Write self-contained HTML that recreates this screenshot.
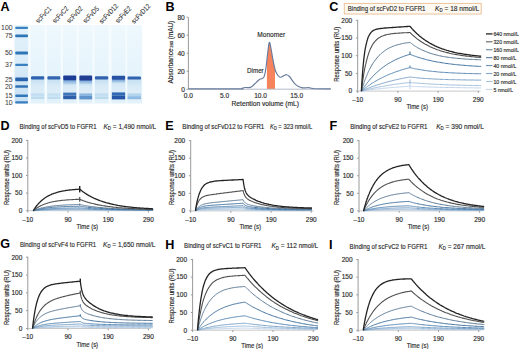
<!DOCTYPE html>
<html><head><meta charset="utf-8"><style>
html,body{margin:0;padding:0;background:#fff;}
body{width:520px;height:349px;overflow:hidden;}
svg{display:block;font-family:"Liberation Sans", sans-serif;}
text{stroke:#2a2a2a;stroke-width:0.15px;}
text[font-weight=bold]{stroke:none;}
</style></head><body>
<svg width="520" height="349" viewBox="0 0 520 349">
<defs><filter id="gb" x="-5%" y="-5%" width="110%" height="110%"><feGaussianBlur stdDeviation="0.65"/></filter><filter id="gb2" x="-20%" y="-20%" width="140%" height="140%"><feGaussianBlur stdDeviation="0.9"/></filter><linearGradient id="laneg" x1="0" y1="0" x2="0" y2="1"><stop offset="0" stop-color="#eef8fd"/><stop offset="0.62" stop-color="#e3f2fb"/><stop offset="0.66" stop-color="#c9e3f4"/><stop offset="1" stop-color="#cfe6f5"/></linearGradient><linearGradient id="bsm" x1="0" y1="0" x2="0" y2="1"><stop offset="0" stop-color="#6f9fd3"/><stop offset="1" stop-color="#6f9fd3" stop-opacity="0"/></linearGradient><linearGradient id="smg" x1="0" y1="0" x2="0" y2="1"><stop offset="0" stop-color="#c4dff2"/><stop offset="0.3" stop-color="#d9ebf7"/><stop offset="1" stop-color="#e4f2fa"/></linearGradient><linearGradient id="gtop" x1="0" y1="0" x2="0" y2="1"><stop offset="0" stop-color="#eef8fd"/><stop offset="1" stop-color="#e0f1fa"/></linearGradient><linearGradient id="mkg" x1="0" y1="0" x2="0" y2="1"><stop offset="0" stop-color="#e4f2fb"/><stop offset="0.5" stop-color="#d9ecf8"/><stop offset="1" stop-color="#c6e0f3"/></linearGradient><clipPath id="bclip"><rect x="266.9" y="0" width="8.1" height="89.4"/></clipPath></defs>
<rect width="520" height="349" fill="#fff"/>
<g filter="url(#gb)"><rect x="14.3" y="25.2" width="127.89999999999999" height="78.2" fill="url(#gtop)"/><rect x="14.8" y="25.2" width="13.4" height="78.2" fill="url(#mkg)"/><rect x="30.8" y="78.9" width="13.8" height="24.2" fill="url(#smg)"/><rect x="31.0" y="93.2" width="13.4" height="2.8" fill="#c3dff1"/><rect x="31.0" y="96.4" width="13.4" height="2.6" fill="#bedcf0"/><rect x="31.0" y="76.2" width="13.4" height="3.2" rx="1.2" fill="#2e63af"/><rect x="47.1" y="78.9" width="13.6" height="24.2" fill="url(#smg)"/><rect x="47.3" y="93.2" width="13.2" height="2.8" fill="#c6e1f2"/><rect x="47.3" y="96.4" width="13.2" height="2.6" fill="#c0ddf0"/><rect x="47.3" y="76.3" width="13.2" height="3.1" rx="1.2" fill="#3066b1"/><rect x="63.0" y="79.7" width="13.6" height="23.4" fill="url(#smg)"/><rect x="63.2" y="92.6" width="13.2" height="3.0" fill="#3f74ba"/><rect x="63.2" y="95.6" width="13.2" height="3.6" fill="#2d5ea9"/><rect x="63.3" y="79.7" width="13.0" height="5.5" fill="url(#bsm)"/><rect x="63.2" y="75.4" width="13.2" height="4.8" rx="1.2" fill="#1f3d95"/><rect x="79.1" y="79.9" width="13.4" height="23.2" fill="url(#smg)"/><rect x="79.3" y="93.4" width="13.0" height="2.6" fill="#8ab6df"/><rect x="79.3" y="96.0" width="13.0" height="3.4" fill="#5f93cb"/><rect x="79.4" y="79.9" width="12.8" height="5.0" fill="url(#bsm)"/><rect x="79.3" y="75.5" width="13.0" height="4.9" rx="1.2" fill="#213e94"/><rect x="94.6" y="79.0" width="14.0" height="24.1" fill="url(#smg)"/><rect x="94.8" y="93.2" width="13.6" height="2.8" fill="#c3dff1"/><rect x="94.8" y="96.4" width="13.6" height="2.6" fill="#b9d9ef"/><rect x="94.8" y="76.3" width="13.6" height="3.2" rx="1.2" fill="#3062ae"/><rect x="111.5" y="79.3" width="14.0" height="23.8" fill="url(#smg)"/><rect x="111.7" y="92.4" width="13.6" height="3.2" fill="#3369b4"/><rect x="111.7" y="95.6" width="13.6" height="3.8" fill="#2656a5"/><rect x="111.8" y="79.3" width="13.4" height="4.0" fill="url(#bsm)"/><rect x="111.7" y="75.8" width="13.6" height="4.0" rx="1.2" fill="#2752a4"/><rect x="127.2" y="79.1" width="14.0" height="24.0" fill="url(#smg)"/><rect x="127.4" y="93.4" width="13.6" height="2.6" fill="#b3d4ed"/><rect x="127.4" y="96.2" width="13.6" height="3.0" fill="#8fbbe2"/><rect x="127.4" y="76.5" width="13.6" height="3.1" rx="1.2" fill="#3063af"/><rect x="44.6" y="25.2" width="2.5" height="78.2" fill="#f6fcfe" opacity="0.9"/><rect x="60.7" y="25.2" width="2.3" height="78.2" fill="#f6fcfe" opacity="0.9"/><rect x="76.6" y="25.2" width="2.5" height="78.2" fill="#f6fcfe" opacity="0.9"/><rect x="92.5" y="25.2" width="2.1" height="78.2" fill="#f6fcfe" opacity="0.9"/><rect x="108.6" y="25.2" width="2.9" height="78.2" fill="#f6fcfe" opacity="0.9"/><rect x="125.5" y="25.2" width="1.7" height="78.2" fill="#f6fcfe" opacity="0.9"/><rect x="28.2" y="25.2" width="2.6" height="78.2" fill="#f6fcfe" opacity="0.9"/><rect x="15.2" y="26.80" width="12.8" height="2.2" rx="0.9" fill="#3a82c0"/><rect x="15.2" y="34.40" width="12.8" height="2.8" rx="0.9" fill="#2f76b8"/><rect x="15.2" y="51.50" width="12.8" height="3.0" rx="0.9" fill="#2e74b6"/><rect x="15.2" y="63.70" width="12.8" height="2.2" rx="0.9" fill="#3a80be"/><rect x="15.2" y="77.60" width="12.8" height="3.6" rx="0.9" fill="#2a64ad"/><rect x="15.2" y="85.20" width="12.8" height="2.6" rx="0.9" fill="#3073b5"/><rect x="15.2" y="94.40" width="12.8" height="2.6" rx="0.9" fill="#3176b7"/><rect x="15.2" y="101.20" width="12.8" height="2.2" rx="0.9" fill="#3a7ebd"/></g>
<rect x="344.3" y="3.4" width="136.9" height="10.6" fill="#fffaf1" stroke="#eac29c" stroke-width="1"/>
<text x="0.60" y="11.20" font-size="12.6" fill="#000" font-weight="bold">A</text>
<text x="165.60" y="11.20" font-size="12.6" fill="#000" font-weight="bold">B</text>
<text x="329.20" y="11.10" font-size="12.6" fill="#000" font-weight="bold">C</text>
<text x="0.60" y="130.00" font-size="12.6" fill="#000" font-weight="bold">D</text>
<text x="165.20" y="130.30" font-size="12.6" fill="#000" font-weight="bold">E</text>
<text x="329.60" y="130.00" font-size="12.6" fill="#000" font-weight="bold">F</text>
<text x="0.20" y="248.30" font-size="12.6" fill="#000" font-weight="bold">G</text>
<text x="165.20" y="248.60" font-size="12.6" fill="#000" font-weight="bold">H</text>
<text x="328.90" y="248.60" font-size="12.6" fill="#000" font-weight="bold">I</text>
<line x1="357.70" y1="19.80" x2="357.70" y2="91.60" stroke="#9a9a9a" stroke-width="1"/>
<line x1="357.70" y1="91.10" x2="480.50" y2="91.10" stroke="#c8c8c8" stroke-width="1"/>
<line x1="355.90" y1="91.10" x2="357.70" y2="91.10" stroke="#9a9a9a" stroke-width="1"/>
<text x="352.20" y="93.40" font-size="6.5" fill="#2a2a2a" text-anchor="end">0</text>
<line x1="355.90" y1="73.40" x2="357.70" y2="73.40" stroke="#9a9a9a" stroke-width="1"/>
<text x="352.20" y="75.70" font-size="6.5" fill="#2a2a2a" text-anchor="end">50</text>
<line x1="355.90" y1="55.70" x2="357.70" y2="55.70" stroke="#9a9a9a" stroke-width="1"/>
<text x="352.20" y="58.00" font-size="6.5" fill="#2a2a2a" text-anchor="end">100</text>
<line x1="355.90" y1="38.00" x2="357.70" y2="38.00" stroke="#9a9a9a" stroke-width="1"/>
<text x="352.20" y="40.30" font-size="6.5" fill="#2a2a2a" text-anchor="end">150</text>
<line x1="355.90" y1="20.30" x2="357.70" y2="20.30" stroke="#9a9a9a" stroke-width="1"/>
<text x="352.20" y="22.60" font-size="6.5" fill="#2a2a2a" text-anchor="end">200</text>
<line x1="357.70" y1="91.10" x2="357.70" y2="92.90" stroke="#9a9a9a" stroke-width="1"/>
<text x="357.70" y="102.00" font-size="6.5" fill="#2a2a2a" text-anchor="middle">–10</text>
<line x1="397.90" y1="91.10" x2="397.90" y2="92.90" stroke="#9a9a9a" stroke-width="1"/>
<text x="397.90" y="102.00" font-size="6.5" fill="#2a2a2a" text-anchor="middle">90</text>
<line x1="438.10" y1="91.10" x2="438.10" y2="92.90" stroke="#9a9a9a" stroke-width="1"/>
<text x="438.10" y="102.00" font-size="6.5" fill="#2a2a2a" text-anchor="middle">190</text>
<line x1="478.30" y1="91.10" x2="478.30" y2="92.90" stroke="#9a9a9a" stroke-width="1"/>
<text x="478.30" y="102.00" font-size="6.5" fill="#2a2a2a" text-anchor="middle">290</text>
<text x="417.20" y="109.20" font-size="6.6" fill="#2a2a2a" textLength="21.60" lengthAdjust="spacingAndGlyphs" text-anchor="middle">Time (s)</text>
<text transform="translate(338.80,54.20) rotate(-90)" font-size="6.6" fill="#2a2a2a" text-anchor="middle" textLength="55" lengthAdjust="spacingAndGlyphs">Response units (RU)</text>
<text x="347.80" y="11.20" font-size="7.5" fill="#2a2a2a" textLength="77.70" lengthAdjust="spacingAndGlyphs">Binding of scFvD2 to FGFR1</text>
<text x="435.00" y="11.20" font-size="7.5" fill="#2a2a2a" textLength="44.20" lengthAdjust="spacingAndGlyphs"><tspan font-style="italic">K</tspan><tspan font-size="5" dy="1.2">D</tspan><tspan dy="-1.2"> = 18 nmol/L</tspan></text>
<path d="M361.4 91.1L361.6 91.1L361.8 91.0L362.0 91.0L362.2 91.0L362.4 90.9L362.6 90.9L362.8 90.9L363.0 90.9L363.2 90.8L363.4 90.8L363.6 90.8L363.8 90.7L364.0 90.7L364.2 90.7L364.4 90.6L364.6 90.6L364.8 90.6L365.0 90.6L365.2 90.5L365.4 90.5L365.7 90.5L365.9 90.4L366.1 90.4L366.3 90.4L366.5 90.4L366.7 90.3L366.9 90.3L367.1 90.3L367.3 90.2L367.5 90.2L367.7 90.2L367.9 90.2L368.1 90.1L368.3 90.1L368.5 90.1L368.7 90.0L368.9 90.0L369.1 90.0L369.3 90.0L369.5 89.9L370.3 89.8L371.1 89.7L371.9 89.6L372.7 89.5L373.5 89.4L374.4 89.3L375.2 89.2L376.0 89.1L376.8 89.0L377.6 88.9L378.4 88.9L379.2 88.8L380.0 88.7L380.8 88.6L381.6 88.5L382.5 88.4L383.3 88.3L384.1 88.3L384.9 88.2L385.7 88.1L386.5 88.0L387.3 88.0L388.1 87.9L388.9 87.8L389.8 87.7L390.6 87.7L391.4 87.6L392.2 87.5L393.0 87.5L393.8 87.4L394.6 87.3L395.4 87.3L396.2 87.2L397.0 87.1L397.9 87.1L398.7 87.0L399.5 86.9L400.3 86.9L401.1 86.8L401.9 86.8L402.7 86.7L403.5 86.7L404.3 86.6L405.1 86.6L405.9 86.5L406.8 86.4L407.6 86.4L408.4 86.3L409.2 86.3L410.0 86.3L410.2 86.3L410.4 86.3L410.6 86.3L410.8 86.3L411.0 86.3L411.2 86.3L411.4 86.3L411.6 86.3L411.8 86.3L412.0 86.3L412.4 86.4L412.8 86.4L413.2 86.4L413.6 86.4L414.0 86.4L414.4 86.5L414.8 86.5L415.2 86.5L415.6 86.5L416.0 86.5L416.4 86.5L416.8 86.6L417.2 86.6L417.6 86.6L418.0 86.6L419.2 86.7L420.5 86.7L421.7 86.8L422.9 86.8L424.1 86.8L425.3 86.9L426.5 86.9L427.7 87.0L428.9 87.0L430.1 87.0L431.3 87.1L432.5 87.1L433.7 87.1L434.9 87.2L436.1 87.2L437.3 87.2L438.5 87.3L439.7 87.3L441.0 87.3L442.2 87.4L443.4 87.4L444.6 87.4L445.8 87.4L447.0 87.5L448.2 87.5L449.4 87.5L450.6 87.5L451.8 87.5L453.0 87.6L454.2 87.6L455.4 87.6L456.6 87.6L457.8 87.6L459.0 87.7L460.2 87.7L461.5 87.7L462.7 87.7L463.9 87.7L465.1 87.7L466.3 87.8L467.5 87.8L468.7 87.8L469.9 87.8L471.1 87.8L472.3 87.8L473.5 87.8L474.7 87.9L475.9 87.9L477.1 87.9L478.3 87.9L479.5 87.9L480.8 87.9L481.2 87.9" fill="none" stroke="#c0d5ea" stroke-width="1.0" stroke-linejoin="round"/>
<line x1="410.00" y1="82.25" x2="410.00" y2="89.25" stroke="#c0d5ea" stroke-width="1.1"/>
<path d="M361.4 91.1L361.6 91.0L361.8 91.0L362.0 90.9L362.2 90.9L362.4 90.8L362.6 90.8L362.8 90.7L363.0 90.7L363.2 90.6L363.4 90.6L363.6 90.5L363.8 90.4L364.0 90.4L364.2 90.3L364.4 90.3L364.6 90.2L364.8 90.2L365.0 90.1L365.2 90.1L365.4 90.0L365.7 90.0L365.9 89.9L366.1 89.9L366.3 89.8L366.5 89.8L366.7 89.7L366.9 89.7L367.1 89.6L367.3 89.6L367.5 89.5L367.7 89.5L367.9 89.4L368.1 89.4L368.3 89.3L368.5 89.3L368.7 89.2L368.9 89.2L369.1 89.1L369.3 89.1L369.5 89.0L370.3 88.9L371.1 88.7L371.9 88.5L372.7 88.3L373.5 88.1L374.4 88.0L375.2 87.8L376.0 87.6L376.8 87.4L377.6 87.3L378.4 87.1L379.2 87.0L380.0 86.8L380.8 86.7L381.6 86.5L382.5 86.4L383.3 86.2L384.1 86.1L384.9 85.9L385.7 85.8L386.5 85.6L387.3 85.5L388.1 85.4L388.9 85.3L389.8 85.1L390.6 85.0L391.4 84.9L392.2 84.7L393.0 84.6L393.8 84.5L394.6 84.4L395.4 84.3L396.2 84.2L397.0 84.1L397.9 83.9L398.7 83.8L399.5 83.7L400.3 83.6L401.1 83.5L401.9 83.4L402.7 83.3L403.5 83.2L404.3 83.1L405.1 83.0L405.9 82.9L406.8 82.9L407.6 82.8L408.4 82.7L409.2 82.6L410.0 82.5L410.2 82.5L410.4 82.5L410.6 82.6L410.8 82.6L411.0 82.6L411.2 82.6L411.4 82.6L411.6 82.6L411.8 82.7L412.0 82.7L412.4 82.7L412.8 82.8L413.2 82.8L413.6 82.8L414.0 82.9L414.4 82.9L414.8 82.9L415.2 83.0L415.6 83.0L416.0 83.0L416.4 83.1L416.8 83.1L417.2 83.1L417.6 83.1L418.0 83.2L419.2 83.3L420.5 83.4L421.7 83.4L422.9 83.5L424.1 83.6L425.3 83.7L426.5 83.8L427.7 83.8L428.9 83.9L430.1 84.0L431.3 84.0L432.5 84.1L433.7 84.2L434.9 84.2L436.1 84.3L437.3 84.3L438.5 84.4L439.7 84.5L441.0 84.5L442.2 84.6L443.4 84.6L444.6 84.7L445.8 84.7L447.0 84.8L448.2 84.8L449.4 84.8L450.6 84.9L451.8 84.9L453.0 85.0L454.2 85.0L455.4 85.0L456.6 85.1L457.8 85.1L459.0 85.1L460.2 85.2L461.5 85.2L462.7 85.2L463.9 85.3L465.1 85.3L466.3 85.3L467.5 85.4L468.7 85.4L469.9 85.4L471.1 85.4L472.3 85.5L473.5 85.5L474.7 85.5L475.9 85.5L477.1 85.5L478.3 85.6L479.5 85.6L480.8 85.6L481.2 85.6" fill="none" stroke="#a0bedb" stroke-width="1.0" stroke-linejoin="round"/>
<line x1="410.00" y1="79.50" x2="410.00" y2="83.50" stroke="#a0bedb" stroke-width="1.1"/>
<path d="M361.4 91.1L361.6 91.0L361.8 90.9L362.0 90.8L362.2 90.7L362.4 90.6L362.6 90.6L362.8 90.5L363.0 90.4L363.2 90.3L363.4 90.2L363.6 90.1L363.8 90.0L364.0 89.9L364.2 89.9L364.4 89.8L364.6 89.7L364.8 89.6L365.0 89.5L365.2 89.4L365.4 89.3L365.7 89.3L365.9 89.2L366.1 89.1L366.3 89.0L366.5 88.9L366.7 88.8L366.9 88.8L367.1 88.7L367.3 88.6L367.5 88.5L367.7 88.4L367.9 88.4L368.1 88.3L368.3 88.2L368.5 88.1L368.7 88.0L368.9 88.0L369.1 87.9L369.3 87.8L369.5 87.7L370.3 87.4L371.1 87.1L371.9 86.8L372.7 86.5L373.5 86.2L374.4 85.9L375.2 85.7L376.0 85.4L376.8 85.1L377.6 84.8L378.4 84.6L379.2 84.3L380.0 84.1L380.8 83.8L381.6 83.6L382.5 83.3L383.3 83.1L384.1 82.9L384.9 82.6L385.7 82.4L386.5 82.2L387.3 82.0L388.1 81.7L388.9 81.5L389.8 81.3L390.6 81.1L391.4 80.9L392.2 80.7L393.0 80.5L393.8 80.3L394.6 80.1L395.4 79.9L396.2 79.7L397.0 79.6L397.9 79.4L398.7 79.2L399.5 79.0L400.3 78.9L401.1 78.7L401.9 78.5L402.7 78.4L403.5 78.2L404.3 78.0L405.1 77.9L405.9 77.7L406.8 77.6L407.6 77.4L408.4 77.3L409.2 77.2L410.0 77.0L410.2 77.0L410.4 77.1L410.6 77.1L410.8 77.1L411.0 77.1L411.2 77.2L411.4 77.2L411.6 77.2L411.8 77.2L412.0 77.3L412.4 77.3L412.8 77.3L413.2 77.4L413.6 77.4L414.0 77.5L414.4 77.5L414.8 77.6L415.2 77.6L415.6 77.6L416.0 77.7L416.4 77.7L416.8 77.8L417.2 77.8L417.6 77.8L418.0 77.9L419.2 78.0L420.5 78.1L421.7 78.2L422.9 78.3L424.1 78.4L425.3 78.5L426.5 78.5L427.7 78.6L428.9 78.7L430.1 78.8L431.3 78.8L432.5 78.9L433.7 79.0L434.9 79.0L436.1 79.1L437.3 79.2L438.5 79.2L439.7 79.3L441.0 79.3L442.2 79.4L443.4 79.4L444.6 79.4L445.8 79.5L447.0 79.5L448.2 79.6L449.4 79.6L450.6 79.6L451.8 79.7L453.0 79.7L454.2 79.7L455.4 79.7L456.6 79.8L457.8 79.8L459.0 79.8L460.2 79.8L461.5 79.9L462.7 79.9L463.9 79.9L465.1 79.9L466.3 80.0L467.5 80.0L468.7 80.0L469.9 80.0L471.1 80.0L472.3 80.0L473.5 80.0L474.7 80.1L475.9 80.1L477.1 80.1L478.3 80.1L479.5 80.1L480.8 80.1L481.2 80.1" fill="none" stroke="#7ca2c7" stroke-width="1.0" stroke-linejoin="round"/>
<path d="M361.4 91.1L361.6 90.9L361.8 90.8L362.0 90.6L362.2 90.4L362.4 90.3L362.6 90.1L362.8 89.9L363.0 89.8L363.2 89.6L363.4 89.5L363.6 89.3L363.8 89.1L364.0 89.0L364.2 88.8L364.4 88.7L364.6 88.5L364.8 88.4L365.0 88.2L365.2 88.1L365.4 87.9L365.7 87.7L365.9 87.6L366.1 87.4L366.3 87.3L366.5 87.1L366.7 87.0L366.9 86.9L367.1 86.7L367.3 86.6L367.5 86.4L367.7 86.3L367.9 86.1L368.1 86.0L368.3 85.8L368.5 85.7L368.7 85.6L368.9 85.4L369.1 85.3L369.3 85.1L369.5 85.0L370.3 84.5L371.1 83.9L371.9 83.4L372.7 82.9L373.5 82.4L374.4 81.9L375.2 81.4L376.0 80.9L376.8 80.5L377.6 80.0L378.4 79.6L379.2 79.1L380.0 78.7L380.8 78.3L381.6 77.9L382.5 77.5L383.3 77.1L384.1 76.7L384.9 76.3L385.7 75.9L386.5 75.6L387.3 75.2L388.1 74.8L388.9 74.5L389.8 74.2L390.6 73.8L391.4 73.5L392.2 73.2L393.0 72.9L393.8 72.6L394.6 72.3L395.4 72.0L396.2 71.7L397.0 71.4L397.9 71.1L398.7 70.9L399.5 70.6L400.3 70.3L401.1 70.1L401.9 69.8L402.7 69.6L403.5 69.4L404.3 69.1L405.1 68.9L405.9 68.7L406.8 68.4L407.6 68.2L408.4 68.0L409.2 67.8L410.0 67.6L410.2 67.6L410.4 67.7L410.6 67.7L410.8 67.8L411.0 67.8L411.2 67.9L411.4 67.9L411.6 68.0L411.8 68.0L412.0 68.1L412.4 68.2L412.8 68.3L413.2 68.3L413.6 68.4L414.0 68.5L414.4 68.6L414.8 68.7L415.2 68.8L415.6 68.9L416.0 68.9L416.4 69.0L416.8 69.1L417.2 69.2L417.6 69.2L418.0 69.3L419.2 69.5L420.5 69.7L421.7 69.9L422.9 70.1L424.1 70.3L425.3 70.5L426.5 70.7L427.7 70.8L428.9 71.0L430.1 71.1L431.3 71.2L432.5 71.4L433.7 71.5L434.9 71.6L436.1 71.7L437.3 71.9L438.5 72.0L439.7 72.1L441.0 72.2L442.2 72.3L443.4 72.3L444.6 72.4L445.8 72.5L447.0 72.6L448.2 72.7L449.4 72.7L450.6 72.8L451.8 72.9L453.0 72.9L454.2 73.0L455.4 73.0L456.6 73.1L457.8 73.1L459.0 73.2L460.2 73.2L461.5 73.3L462.7 73.3L463.9 73.4L465.1 73.4L466.3 73.4L467.5 73.5L468.7 73.5L469.9 73.5L471.1 73.6L472.3 73.6L473.5 73.6L474.7 73.7L475.9 73.7L477.1 73.7L478.3 73.7L479.5 73.8L480.8 73.8L481.2 73.8" fill="none" stroke="#5888b4" stroke-width="1.0" stroke-linejoin="round"/>
<line x1="410.00" y1="65.59" x2="410.00" y2="68.09" stroke="#5888b4" stroke-width="1.1"/>
<path d="M361.4 91.1L361.6 90.8L361.8 90.5L362.0 90.2L362.2 89.9L362.4 89.5L362.6 89.2L362.8 88.9L363.0 88.6L363.2 88.3L363.4 88.0L363.6 87.7L363.8 87.5L364.0 87.2L364.2 86.9L364.4 86.6L364.6 86.3L364.8 86.0L365.0 85.7L365.2 85.5L365.4 85.2L365.7 84.9L365.9 84.6L366.1 84.4L366.3 84.1L366.5 83.8L366.7 83.6L366.9 83.3L367.1 83.0L367.3 82.8L367.5 82.5L367.7 82.3L367.9 82.0L368.1 81.8L368.3 81.5L368.5 81.3L368.7 81.0L368.9 80.8L369.1 80.5L369.3 80.3L369.5 80.0L370.3 79.1L371.1 78.2L371.9 77.3L372.7 76.4L373.5 75.6L374.4 74.8L375.2 74.0L376.0 73.2L376.8 72.4L377.6 71.7L378.4 71.0L379.2 70.3L380.0 69.6L380.8 69.0L381.6 68.3L382.5 67.7L383.3 67.1L384.1 66.5L384.9 65.9L385.7 65.4L386.5 64.8L387.3 64.3L388.1 63.8L388.9 63.3L389.8 62.8L390.6 62.4L391.4 61.9L392.2 61.5L393.0 61.0L393.8 60.6L394.6 60.2L395.4 59.8L396.2 59.4L397.0 59.1L397.9 58.7L398.7 58.3L399.5 58.0L400.3 57.7L401.1 57.3L401.9 57.0L402.7 56.7L403.5 56.4L404.3 56.1L405.1 55.8L405.9 55.6L406.8 55.3L407.6 55.0L408.4 54.8L409.2 54.5L410.0 54.3L410.2 54.4L410.4 54.4L410.6 54.5L410.8 54.6L411.0 54.7L411.2 54.8L411.4 54.9L411.6 54.9L411.8 55.0L412.0 55.1L412.4 55.2L412.8 55.4L413.2 55.5L413.6 55.7L414.0 55.8L414.4 56.0L414.8 56.1L415.2 56.3L415.6 56.4L416.0 56.6L416.4 56.7L416.8 56.8L417.2 57.0L417.6 57.1L418.0 57.2L419.2 57.6L420.5 58.0L421.7 58.3L422.9 58.7L424.1 59.0L425.3 59.3L426.5 59.7L427.7 60.0L428.9 60.2L430.1 60.5L431.3 60.8L432.5 61.1L433.7 61.3L434.9 61.5L436.1 61.8L437.3 62.0L438.5 62.2L439.7 62.4L441.0 62.6L442.2 62.8L443.4 63.0L444.6 63.2L445.8 63.4L447.0 63.5L448.2 63.7L449.4 63.8L450.6 64.0L451.8 64.1L453.0 64.3L454.2 64.4L455.4 64.5L456.6 64.7L457.8 64.8L459.0 64.9L460.2 65.0L461.5 65.1L462.7 65.2L463.9 65.3L465.1 65.4L466.3 65.5L467.5 65.6L468.7 65.7L469.9 65.8L471.1 65.9L472.3 66.0L473.5 66.0L474.7 66.1L475.9 66.2L477.1 66.2L478.3 66.3L479.5 66.4L480.8 66.4L481.2 66.5" fill="none" stroke="#41729f" stroke-width="1.0" stroke-linejoin="round"/>
<line x1="410.00" y1="51.48" x2="410.00" y2="54.78" stroke="#41729f" stroke-width="1.1"/>
<path d="M361.4 91.1L361.6 90.4L361.8 89.7L362.0 89.0L362.2 88.4L362.4 87.7L362.6 87.0L362.8 86.4L363.0 85.8L363.2 85.1L363.4 84.5L363.6 83.9L363.8 83.3L364.0 82.7L364.2 82.1L364.4 81.5L364.6 81.0L364.8 80.4L365.0 79.9L365.2 79.3L365.4 78.8L365.7 78.2L365.9 77.7L366.1 77.2L366.3 76.7L366.5 76.2L366.7 75.7L366.9 75.2L367.1 74.7L367.3 74.3L367.5 73.8L367.7 73.3L367.9 72.9L368.1 72.4L368.3 72.0L368.5 71.6L368.7 71.1L368.9 70.7L369.1 70.3L369.3 69.9L369.5 69.5L370.3 67.9L371.1 66.4L371.9 65.0L372.7 63.7L373.5 62.4L374.4 61.2L375.2 60.1L376.0 59.1L376.8 58.1L377.6 57.1L378.4 56.2L379.2 55.4L380.0 54.6L380.8 53.8L381.6 53.1L382.5 52.4L383.3 51.8L384.1 51.2L384.9 50.6L385.7 50.0L386.5 49.5L387.3 49.0L388.1 48.6L388.9 48.2L389.8 47.7L390.6 47.4L391.4 47.0L392.2 46.6L393.0 46.3L393.8 46.0L394.6 45.7L395.4 45.4L396.2 45.2L397.0 44.9L397.9 44.7L398.7 44.5L399.5 44.3L400.3 44.1L401.1 43.9L401.9 43.7L402.7 43.5L403.5 43.4L404.3 43.2L405.1 43.1L405.9 43.0L406.8 42.8L407.6 42.7L408.4 42.6L409.2 42.5L410.0 42.4L410.2 42.6L410.4 42.7L410.6 42.9L410.8 43.0L411.0 43.2L411.2 43.3L411.4 43.5L411.6 43.7L411.8 43.8L412.0 44.0L412.4 44.2L412.8 44.5L413.2 44.8L413.6 45.1L414.0 45.4L414.4 45.7L414.8 45.9L415.2 46.2L415.6 46.4L416.0 46.7L416.4 46.9L416.8 47.2L417.2 47.4L417.6 47.7L418.0 47.9L419.2 48.5L420.5 49.2L421.7 49.8L422.9 50.3L424.1 50.9L425.3 51.4L426.5 51.9L427.7 52.3L428.9 52.8L430.1 53.2L431.3 53.6L432.5 53.9L433.7 54.3L434.9 54.6L436.1 54.9L437.3 55.2L438.5 55.5L439.7 55.8L441.0 56.0L442.2 56.3L443.4 56.5L444.6 56.7L445.8 56.9L447.0 57.1L448.2 57.3L449.4 57.4L450.6 57.6L451.8 57.8L453.0 57.9L454.2 58.0L455.4 58.2L456.6 58.3L457.8 58.4L459.0 58.5L460.2 58.6L461.5 58.7L462.7 58.8L463.9 58.9L465.1 59.0L466.3 59.1L467.5 59.2L468.7 59.2L469.9 59.3L471.1 59.4L472.3 59.4L473.5 59.5L474.7 59.6L475.9 59.6L477.1 59.7L478.3 59.7L479.5 59.7L480.8 59.8L481.2 59.8" fill="none" stroke="#5a7894" stroke-width="1.0" stroke-linejoin="round"/>
<path d="M361.4 91.1L361.6 89.4L361.8 87.8L362.0 86.2L362.2 84.6L362.4 83.1L362.6 81.7L362.8 80.3L363.0 78.9L363.2 77.6L363.4 76.3L363.6 75.0L363.8 73.8L364.0 72.6L364.2 71.5L364.4 70.4L364.6 69.3L364.8 68.3L365.0 67.2L365.2 66.3L365.4 65.3L365.7 64.4L365.9 63.5L366.1 62.6L366.3 61.7L366.5 60.9L366.7 60.1L366.9 59.3L367.1 58.6L367.3 57.8L367.5 57.1L367.7 56.4L367.9 55.8L368.1 55.1L368.3 54.5L368.5 53.9L368.7 53.3L368.9 52.7L369.1 52.1L369.3 51.6L369.5 51.1L370.3 49.1L371.1 47.4L371.9 45.8L372.7 44.4L373.5 43.2L374.4 42.1L375.2 41.1L376.0 40.3L376.8 39.5L377.6 38.8L378.4 38.2L379.2 37.6L380.0 37.2L380.8 36.7L381.6 36.3L382.5 36.0L383.3 35.7L384.1 35.4L384.9 35.1L385.7 34.9L386.5 34.7L387.3 34.5L388.1 34.3L388.9 34.2L389.8 34.1L390.6 33.9L391.4 33.8L392.2 33.7L393.0 33.6L393.8 33.5L394.6 33.4L395.4 33.4L396.2 33.3L397.0 33.2L397.9 33.2L398.7 33.1L399.5 33.1L400.3 33.0L401.1 33.0L401.9 32.9L402.7 32.9L403.5 32.8L404.3 32.8L405.1 32.7L405.9 32.7L406.8 32.7L407.6 32.6L408.4 32.6L409.2 32.5L410.0 32.5L410.2 32.7L410.4 32.9L410.6 33.1L410.8 33.3L411.0 33.5L411.2 33.7L411.4 33.9L411.6 34.1L411.8 34.3L412.0 34.5L412.4 34.8L412.8 35.2L413.2 35.5L413.6 35.9L414.0 36.3L414.4 36.6L414.8 36.9L415.2 37.3L415.6 37.6L416.0 37.9L416.4 38.2L416.8 38.6L417.2 38.9L417.6 39.2L418.0 39.5L419.2 40.3L420.5 41.2L421.7 42.0L422.9 42.7L424.1 43.5L425.3 44.2L426.5 44.8L427.7 45.5L428.9 46.1L430.1 46.7L431.3 47.2L432.5 47.8L433.7 48.3L434.9 48.8L436.1 49.2L437.3 49.7L438.5 50.1L439.7 50.5L441.0 50.9L442.2 51.3L443.4 51.6L444.6 52.0L445.8 52.3L447.0 52.6L448.2 52.9L449.4 53.2L450.6 53.5L451.8 53.7L453.0 54.0L454.2 54.2L455.4 54.4L456.6 54.6L457.8 54.8L459.0 55.0L460.2 55.2L461.5 55.4L462.7 55.6L463.9 55.8L465.1 55.9L466.3 56.1L467.5 56.2L468.7 56.3L469.9 56.5L471.1 56.6L472.3 56.7L473.5 56.8L474.7 57.0L475.9 57.1L477.1 57.2L478.3 57.3L479.5 57.4L480.8 57.4L481.2 57.5" fill="none" stroke="#505050" stroke-width="1.1" stroke-linejoin="round"/>
<path d="M361.4 91.1L361.6 87.5L361.8 84.1L362.0 80.9L362.2 77.9L362.4 75.1L362.6 72.4L362.8 69.9L363.0 67.5L363.2 65.3L363.4 63.2L363.6 61.2L363.8 59.4L364.0 57.6L364.2 55.9L364.4 54.4L364.6 52.9L364.8 51.5L365.0 50.2L365.2 49.0L365.4 47.8L365.7 46.7L365.9 45.7L366.1 44.7L366.3 43.8L366.5 43.0L366.7 42.1L366.9 41.4L367.1 40.6L367.3 40.0L367.5 39.3L367.7 38.7L367.9 38.1L368.1 37.6L368.3 37.1L368.5 36.6L368.7 36.2L368.9 35.7L369.1 35.3L369.3 35.0L369.5 34.6L370.3 33.4L371.1 32.4L371.9 31.6L372.7 30.9L373.5 30.4L374.4 30.0L375.2 29.7L376.0 29.4L376.8 29.2L377.6 29.0L378.4 28.8L379.2 28.7L380.0 28.6L380.8 28.5L381.6 28.4L382.5 28.3L383.3 28.2L384.1 28.1L384.9 28.0L385.7 28.0L386.5 27.9L387.3 27.9L388.1 27.8L388.9 27.7L389.8 27.7L390.6 27.6L391.4 27.6L392.2 27.5L393.0 27.5L393.8 27.4L394.6 27.3L395.4 27.3L396.2 27.2L397.0 27.2L397.9 27.1L398.7 27.1L399.5 27.0L400.3 27.0L401.1 26.9L401.9 26.9L402.7 26.8L403.5 26.8L404.3 26.7L405.1 26.6L405.9 26.6L406.8 26.5L407.6 26.5L408.4 26.4L409.2 26.4L410.0 26.3L410.2 26.6L410.4 26.8L410.6 27.0L410.8 27.3L411.0 27.5L411.2 27.7L411.4 28.0L411.6 28.2L411.8 28.4L412.0 28.6L412.4 29.1L412.8 29.5L413.2 30.0L413.6 30.4L414.0 30.8L414.4 31.2L414.8 31.6L415.2 32.0L415.6 32.4L416.0 32.8L416.4 33.2L416.8 33.6L417.2 33.9L417.6 34.3L418.0 34.6L419.2 35.7L420.5 36.7L421.7 37.7L422.9 38.6L424.1 39.4L425.3 40.3L426.5 41.1L427.7 41.8L428.9 42.6L430.1 43.3L431.3 43.9L432.5 44.6L433.7 45.2L434.9 45.8L436.1 46.3L437.3 46.9L438.5 47.4L439.7 47.9L441.0 48.3L442.2 48.8L443.4 49.2L444.6 49.6L445.8 50.0L447.0 50.4L448.2 50.7L449.4 51.1L450.6 51.4L451.8 51.7L453.0 52.0L454.2 52.3L455.4 52.6L456.6 52.8L457.8 53.1L459.0 53.3L460.2 53.5L461.5 53.7L462.7 53.9L463.9 54.1L465.1 54.3L466.3 54.5L467.5 54.7L468.7 54.9L469.9 55.0L471.1 55.2L472.3 55.3L473.5 55.4L474.7 55.6L475.9 55.7L477.1 55.8L478.3 55.9L479.5 56.1L480.8 56.2L481.2 56.2" fill="none" stroke="#232323" stroke-width="1.3" stroke-linejoin="round"/>
<line x1="27.80" y1="139.90" x2="27.80" y2="211.20" stroke="#9a9a9a" stroke-width="1"/>
<line x1="27.80" y1="210.70" x2="150.60" y2="210.70" stroke="#c8c8c8" stroke-width="1"/>
<line x1="26.00" y1="210.70" x2="27.80" y2="210.70" stroke="#9a9a9a" stroke-width="1"/>
<text x="22.30" y="213.00" font-size="6.5" fill="#2a2a2a" text-anchor="end">0</text>
<line x1="26.00" y1="193.12" x2="27.80" y2="193.12" stroke="#9a9a9a" stroke-width="1"/>
<text x="22.30" y="195.43" font-size="6.5" fill="#2a2a2a" text-anchor="end">50</text>
<line x1="26.00" y1="175.55" x2="27.80" y2="175.55" stroke="#9a9a9a" stroke-width="1"/>
<text x="22.30" y="177.85" font-size="6.5" fill="#2a2a2a" text-anchor="end">100</text>
<line x1="26.00" y1="157.97" x2="27.80" y2="157.97" stroke="#9a9a9a" stroke-width="1"/>
<text x="22.30" y="160.28" font-size="6.5" fill="#2a2a2a" text-anchor="end">150</text>
<line x1="26.00" y1="140.40" x2="27.80" y2="140.40" stroke="#9a9a9a" stroke-width="1"/>
<text x="22.30" y="142.70" font-size="6.5" fill="#2a2a2a" text-anchor="end">200</text>
<line x1="27.80" y1="210.70" x2="27.80" y2="212.50" stroke="#9a9a9a" stroke-width="1"/>
<text x="27.80" y="221.60" font-size="6.5" fill="#2a2a2a" text-anchor="middle">–10</text>
<line x1="68.00" y1="210.70" x2="68.00" y2="212.50" stroke="#9a9a9a" stroke-width="1"/>
<text x="68.00" y="221.60" font-size="6.5" fill="#2a2a2a" text-anchor="middle">90</text>
<line x1="108.20" y1="210.70" x2="108.20" y2="212.50" stroke="#9a9a9a" stroke-width="1"/>
<text x="108.20" y="221.60" font-size="6.5" fill="#2a2a2a" text-anchor="middle">190</text>
<line x1="148.40" y1="210.70" x2="148.40" y2="212.50" stroke="#9a9a9a" stroke-width="1"/>
<text x="148.40" y="221.60" font-size="6.5" fill="#2a2a2a" text-anchor="middle">290</text>
<text x="87.30" y="228.80" font-size="6.6" fill="#2a2a2a" textLength="21.60" lengthAdjust="spacingAndGlyphs" text-anchor="middle">Time (s)</text>
<text transform="translate(8.70,177.50) rotate(-90)" font-size="6.6" fill="#2a2a2a" text-anchor="middle" textLength="55" lengthAdjust="spacingAndGlyphs">Response units (RU)</text>
<text x="19.60" y="129.10" font-size="7.5" fill="#2a2a2a" textLength="76.90" lengthAdjust="spacingAndGlyphs">Binding of scFvD5 to FGFR1</text>
<text x="103.50" y="129.10" font-size="7.5" fill="#2a2a2a" textLength="52.60" lengthAdjust="spacingAndGlyphs"><tspan font-style="italic">K</tspan><tspan font-size="5" dy="1.2">D</tspan><tspan dy="-1.2"> = 1,490 nmol/L</tspan></text>
<path d="M33.2 210.7L33.4 210.7L33.6 210.7L33.8 210.7L34.0 210.7L34.2 210.7L34.4 210.6L34.6 210.6L34.8 210.6L34.9 210.6L35.1 210.6L35.3 210.6L35.5 210.6L35.7 210.6L35.9 210.6L36.1 210.6L36.3 210.6L36.5 210.6L36.7 210.6L36.9 210.5L37.1 210.5L37.3 210.5L37.5 210.5L37.7 210.5L37.9 210.5L38.0 210.5L38.2 210.5L38.4 210.5L38.6 210.5L38.8 210.5L39.0 210.5L39.2 210.5L39.4 210.5L39.6 210.4L39.8 210.4L40.0 210.4L40.2 210.4L40.4 210.4L40.6 210.4L40.8 210.4L41.0 210.4L41.7 210.4L42.5 210.4L43.3 210.3L44.1 210.3L44.8 210.3L45.6 210.3L46.4 210.3L47.2 210.3L47.9 210.2L48.7 210.2L49.5 210.2L50.2 210.2L51.0 210.2L51.8 210.2L52.6 210.2L53.4 210.2L54.1 210.2L54.9 210.1L55.7 210.1L56.5 210.1L57.2 210.1L58.0 210.1L58.8 210.1L59.6 210.1L60.3 210.1L61.1 210.1L61.9 210.1L62.7 210.1L63.4 210.1L64.2 210.1L65.0 210.1L65.8 210.1L66.5 210.0L67.3 210.0L68.1 210.0L68.8 210.0L69.6 210.0L70.4 210.0L71.2 210.0L72.0 210.0L72.7 210.0L73.5 210.0L74.3 210.0L75.1 210.0L75.8 210.0L76.6 210.0L77.4 210.0L78.2 210.0L78.9 210.0L79.7 210.0L79.9 210.0L80.1 210.0L80.3 210.0L80.5 210.0L80.7 210.0L80.9 210.0L81.1 210.0L81.3 210.0L81.5 210.0L81.7 210.0L82.1 210.0L82.5 210.0L82.9 210.0L83.3 210.0L83.7 210.1L84.1 210.1L84.5 210.1L84.9 210.1L85.3 210.1L85.7 210.1L86.1 210.1L86.5 210.1L86.9 210.1L87.3 210.1L87.7 210.1L88.9 210.1L90.2 210.1L91.4 210.1L92.6 210.1L93.8 210.2L95.0 210.2L96.2 210.2L97.4 210.2L98.6 210.2L99.8 210.2L101.0 210.2L102.2 210.2L103.4 210.2L104.6 210.2L105.8 210.2L107.0 210.2L108.2 210.2L109.4 210.3L110.7 210.3L111.9 210.3L113.1 210.3L114.3 210.3L115.5 210.3L116.7 210.3L117.9 210.3L119.1 210.3L120.3 210.3L121.5 210.3L122.7 210.3L123.9 210.3L125.1 210.3L126.3 210.3L127.5 210.3L128.7 210.3L129.9 210.3L131.2 210.3L132.4 210.3L133.6 210.3L134.8 210.3L136.0 210.3L137.2 210.3L138.4 210.3L139.6 210.3L140.8 210.3L142.0 210.3L143.2 210.3L144.4 210.3L145.6 210.3L146.8 210.3L148.0 210.3L149.2 210.3L150.5 210.3L151.7 210.3L152.9 210.3L153.1 210.3" fill="none" stroke="#c0d5ea" stroke-width="1.0" stroke-linejoin="round"/>
<path d="M33.2 210.7L33.4 210.7L33.6 210.7L33.8 210.7L34.0 210.6L34.2 210.6L34.4 210.6L34.6 210.6L34.8 210.6L34.9 210.6L35.1 210.6L35.3 210.6L35.5 210.5L35.7 210.5L35.9 210.5L36.1 210.5L36.3 210.5L36.5 210.5L36.7 210.5L36.9 210.5L37.1 210.5L37.3 210.4L37.5 210.4L37.7 210.4L37.9 210.4L38.0 210.4L38.2 210.4L38.4 210.4L38.6 210.4L38.8 210.4L39.0 210.4L39.2 210.3L39.4 210.3L39.6 210.3L39.8 210.3L40.0 210.3L40.2 210.3L40.4 210.3L40.6 210.3L40.8 210.3L41.0 210.3L41.7 210.2L42.5 210.2L43.3 210.2L44.1 210.1L44.8 210.1L45.6 210.1L46.4 210.1L47.2 210.0L47.9 210.0L48.7 210.0L49.5 210.0L50.2 210.0L51.0 209.9L51.8 209.9L52.6 209.9L53.4 209.9L54.1 209.9L54.9 209.9L55.7 209.9L56.5 209.8L57.2 209.8L58.0 209.8L58.8 209.8L59.6 209.8L60.3 209.8L61.1 209.8L61.9 209.8L62.7 209.8L63.4 209.7L64.2 209.7L65.0 209.7L65.8 209.7L66.5 209.7L67.3 209.7L68.1 209.7L68.8 209.7L69.6 209.7L70.4 209.7L71.2 209.7L72.0 209.7L72.7 209.7L73.5 209.7L74.3 209.7L75.1 209.7L75.8 209.7L76.6 209.7L77.4 209.7L78.2 209.7L78.9 209.6L79.7 209.6L79.9 209.7L80.1 209.7L80.3 209.7L80.5 209.7L80.7 209.7L80.9 209.7L81.1 209.7L81.3 209.7L81.5 209.7L81.7 209.7L82.1 209.7L82.5 209.7L82.9 209.7L83.3 209.7L83.7 209.8L84.1 209.8L84.5 209.8L84.9 209.8L85.3 209.8L85.7 209.8L86.1 209.8L86.5 209.8L86.9 209.8L87.3 209.8L87.7 209.8L88.9 209.9L90.2 209.9L91.4 209.9L92.6 209.9L93.8 210.0L95.0 210.0L96.2 210.0L97.4 210.0L98.6 210.0L99.8 210.1L101.0 210.1L102.2 210.1L103.4 210.1L104.6 210.1L105.8 210.1L107.0 210.1L108.2 210.1L109.4 210.2L110.7 210.2L111.9 210.2L113.1 210.2L114.3 210.2L115.5 210.2L116.7 210.2L117.9 210.2L119.1 210.2L120.3 210.2L121.5 210.2L122.7 210.3L123.9 210.3L125.1 210.3L126.3 210.3L127.5 210.3L128.7 210.3L129.9 210.3L131.2 210.3L132.4 210.3L133.6 210.3L134.8 210.3L136.0 210.3L137.2 210.3L138.4 210.3L139.6 210.3L140.8 210.3L142.0 210.3L143.2 210.3L144.4 210.3L145.6 210.3L146.8 210.3L148.0 210.3L149.2 210.3L150.5 210.3L151.7 210.3L152.9 210.3L153.1 210.3" fill="none" stroke="#a0bedb" stroke-width="1.0" stroke-linejoin="round"/>
<path d="M33.2 210.7L33.4 210.7L33.6 210.7L33.8 210.6L34.0 210.6L34.2 210.6L34.4 210.6L34.6 210.5L34.8 210.5L34.9 210.5L35.1 210.5L35.3 210.5L35.5 210.4L35.7 210.4L35.9 210.4L36.1 210.4L36.3 210.4L36.5 210.3L36.7 210.3L36.9 210.3L37.1 210.3L37.3 210.3L37.5 210.3L37.7 210.2L37.9 210.2L38.0 210.2L38.2 210.2L38.4 210.2L38.6 210.2L38.8 210.1L39.0 210.1L39.2 210.1L39.4 210.1L39.6 210.1L39.8 210.1L40.0 210.0L40.2 210.0L40.4 210.0L40.6 210.0L40.8 210.0L41.0 210.0L41.7 209.9L42.5 209.9L43.3 209.8L44.1 209.8L44.8 209.7L45.6 209.7L46.4 209.6L47.2 209.6L47.9 209.6L48.7 209.5L49.5 209.5L50.2 209.5L51.0 209.4L51.8 209.4L52.6 209.4L53.4 209.4L54.1 209.3L54.9 209.3L55.7 209.3L56.5 209.3L57.2 209.2L58.0 209.2L58.8 209.2L59.6 209.2L60.3 209.2L61.1 209.2L61.9 209.1L62.7 209.1L63.4 209.1L64.2 209.1L65.0 209.1L65.8 209.1L66.5 209.1L67.3 209.1L68.1 209.0L68.8 209.0L69.6 209.0L70.4 209.0L71.2 209.0L72.0 209.0L72.7 209.0L73.5 209.0L74.3 209.0L75.1 209.0L75.8 209.0L76.6 209.0L77.4 209.0L78.2 209.0L78.9 208.9L79.7 208.9L79.9 209.0L80.1 209.0L80.3 209.0L80.5 209.0L80.7 209.0L80.9 209.0L81.1 209.0L81.3 209.0L81.5 209.0L81.7 209.0L82.1 209.1L82.5 209.1L82.9 209.1L83.3 209.1L83.7 209.1L84.1 209.2L84.5 209.2L84.9 209.2L85.3 209.2L85.7 209.2L86.1 209.2L86.5 209.3L86.9 209.3L87.3 209.3L87.7 209.3L88.9 209.3L90.2 209.4L91.4 209.4L92.6 209.5L93.8 209.5L95.0 209.5L96.2 209.6L97.4 209.6L98.6 209.6L99.8 209.7L101.0 209.7L102.2 209.7L103.4 209.7L104.6 209.8L105.8 209.8L107.0 209.8L108.2 209.8L109.4 209.8L110.7 209.9L111.9 209.9L113.1 209.9L114.3 209.9L115.5 209.9L116.7 209.9L117.9 210.0L119.1 210.0L120.3 210.0L121.5 210.0L122.7 210.0L123.9 210.0L125.1 210.0L126.3 210.0L127.5 210.0L128.7 210.1L129.9 210.1L131.2 210.1L132.4 210.1L133.6 210.1L134.8 210.1L136.0 210.1L137.2 210.1L138.4 210.1L139.6 210.1L140.8 210.1L142.0 210.1L143.2 210.1L144.4 210.1L145.6 210.1L146.8 210.2L148.0 210.2L149.2 210.2L150.5 210.2L151.7 210.2L152.9 210.2L153.1 210.2" fill="none" stroke="#7ca2c7" stroke-width="1.0" stroke-linejoin="round"/>
<path d="M33.2 210.7L33.4 210.7L33.6 210.6L33.8 210.6L34.0 210.6L34.2 210.5L34.4 210.5L34.6 210.5L34.8 210.4L34.9 210.4L35.1 210.4L35.3 210.3L35.5 210.3L35.7 210.3L35.9 210.2L36.1 210.2L36.3 210.2L36.5 210.1L36.7 210.1L36.9 210.1L37.1 210.0L37.3 210.0L37.5 210.0L37.7 210.0L37.9 209.9L38.0 209.9L38.2 209.9L38.4 209.9L38.6 209.8L38.8 209.8L39.0 209.8L39.2 209.7L39.4 209.7L39.6 209.7L39.8 209.7L40.0 209.7L40.2 209.6L40.4 209.6L40.6 209.6L40.8 209.6L41.0 209.5L41.7 209.4L42.5 209.4L43.3 209.3L44.1 209.2L44.8 209.1L45.6 209.1L46.4 209.0L47.2 208.9L47.9 208.9L48.7 208.8L49.5 208.8L50.2 208.7L51.0 208.7L51.8 208.6L52.6 208.6L53.4 208.5L54.1 208.5L54.9 208.5L55.7 208.4L56.5 208.4L57.2 208.4L58.0 208.3L58.8 208.3L59.6 208.3L60.3 208.3L61.1 208.2L61.9 208.2L62.7 208.2L63.4 208.2L64.2 208.1L65.0 208.1L65.8 208.1L66.5 208.1L67.3 208.1L68.1 208.1L68.8 208.0L69.6 208.0L70.4 208.0L71.2 208.0L72.0 208.0L72.7 208.0L73.5 208.0L74.3 207.9L75.1 207.9L75.8 207.9L76.6 207.9L77.4 207.9L78.2 207.9L78.9 207.9L79.7 207.9L79.9 207.9L80.1 207.9L80.3 207.9L80.5 208.0L80.7 208.0L80.9 208.0L81.1 208.0L81.3 208.0L81.5 208.0L81.7 208.1L82.1 208.1L82.5 208.1L82.9 208.2L83.3 208.2L83.7 208.2L84.1 208.2L84.5 208.3L84.9 208.3L85.3 208.3L85.7 208.4L86.1 208.4L86.5 208.4L86.9 208.4L87.3 208.5L87.7 208.5L88.9 208.6L90.2 208.6L91.4 208.7L92.6 208.8L93.8 208.8L95.0 208.9L96.2 209.0L97.4 209.0L98.6 209.1L99.8 209.1L101.0 209.2L102.2 209.2L103.4 209.2L104.6 209.3L105.8 209.3L107.0 209.4L108.2 209.4L109.4 209.4L110.7 209.5L111.9 209.5L113.1 209.5L114.3 209.6L115.5 209.6L116.7 209.6L117.9 209.6L119.1 209.7L120.3 209.7L121.5 209.7L122.7 209.7L123.9 209.7L125.1 209.8L126.3 209.8L127.5 209.8L128.7 209.8L129.9 209.8L131.2 209.8L132.4 209.8L133.6 209.9L134.8 209.9L136.0 209.9L137.2 209.9L138.4 209.9L139.6 209.9L140.8 209.9L142.0 209.9L143.2 209.9L144.4 209.9L145.6 210.0L146.8 210.0L148.0 210.0L149.2 210.0L150.5 210.0L151.7 210.0L152.9 210.0L153.1 210.0" fill="none" stroke="#5888b4" stroke-width="1.0" stroke-linejoin="round"/>
<path d="M33.2 210.7L33.4 210.6L33.6 210.6L33.8 210.5L34.0 210.5L34.2 210.4L34.4 210.4L34.6 210.3L34.8 210.3L34.9 210.2L35.1 210.1L35.3 210.1L35.5 210.0L35.7 210.0L35.9 209.9L36.1 209.9L36.3 209.8L36.5 209.8L36.7 209.8L36.9 209.7L37.1 209.7L37.3 209.6L37.5 209.6L37.7 209.5L37.9 209.5L38.0 209.4L38.2 209.4L38.4 209.4L38.6 209.3L38.8 209.3L39.0 209.2L39.2 209.2L39.4 209.2L39.6 209.1L39.8 209.1L40.0 209.0L40.2 209.0L40.4 209.0L40.6 208.9L40.8 208.9L41.0 208.9L41.7 208.7L42.5 208.6L43.3 208.5L44.1 208.3L44.8 208.2L45.6 208.1L46.4 208.0L47.2 207.9L47.9 207.8L48.7 207.7L49.5 207.6L50.2 207.6L51.0 207.5L51.8 207.4L52.6 207.3L53.4 207.3L54.1 207.2L54.9 207.2L55.7 207.1L56.5 207.1L57.2 207.0L58.0 207.0L58.8 206.9L59.6 206.9L60.3 206.8L61.1 206.8L61.9 206.7L62.7 206.7L63.4 206.7L64.2 206.6L65.0 206.6L65.8 206.6L66.5 206.5L67.3 206.5L68.1 206.5L68.8 206.5L69.6 206.5L70.4 206.4L71.2 206.4L72.0 206.4L72.7 206.4L73.5 206.4L74.3 206.3L75.1 206.3L75.8 206.3L76.6 206.3L77.4 206.3L78.2 206.3L78.9 206.2L79.7 206.2L79.9 206.3L80.1 206.3L80.3 206.3L80.5 206.4L80.7 206.4L80.9 206.4L81.1 206.4L81.3 206.5L81.5 206.5L81.7 206.5L82.1 206.6L82.5 206.6L82.9 206.7L83.3 206.7L83.7 206.8L84.1 206.8L84.5 206.9L84.9 206.9L85.3 207.0L85.7 207.0L86.1 207.1L86.5 207.1L86.9 207.2L87.3 207.2L87.7 207.3L88.9 207.4L90.2 207.5L91.4 207.6L92.6 207.8L93.8 207.9L95.0 208.0L96.2 208.1L97.4 208.2L98.6 208.2L99.8 208.3L101.0 208.4L102.2 208.5L103.4 208.6L104.6 208.6L105.8 208.7L107.0 208.7L108.2 208.8L109.4 208.9L110.7 208.9L111.9 209.0L113.1 209.0L114.3 209.1L115.5 209.1L116.7 209.2L117.9 209.2L119.1 209.2L120.3 209.3L121.5 209.3L122.7 209.3L123.9 209.4L125.1 209.4L126.3 209.4L127.5 209.5L128.7 209.5L129.9 209.5L131.2 209.5L132.4 209.6L133.6 209.6L134.8 209.6L136.0 209.6L137.2 209.6L138.4 209.7L139.6 209.7L140.8 209.7L142.0 209.7L143.2 209.7L144.4 209.7L145.6 209.8L146.8 209.8L148.0 209.8L149.2 209.8L150.5 209.8L151.7 209.8L152.9 209.8L153.1 209.8" fill="none" stroke="#41729f" stroke-width="1.0" stroke-linejoin="round"/>
<path d="M33.2 210.7L33.4 210.6L33.6 210.5L33.8 210.5L34.0 210.4L34.2 210.3L34.4 210.2L34.6 210.2L34.8 210.1L34.9 210.0L35.1 209.9L35.3 209.9L35.5 209.8L35.7 209.7L35.9 209.7L36.1 209.6L36.3 209.5L36.5 209.5L36.7 209.4L36.9 209.3L37.1 209.3L37.3 209.2L37.5 209.1L37.7 209.1L37.9 209.0L38.0 209.0L38.2 208.9L38.4 208.8L38.6 208.8L38.8 208.7L39.0 208.7L39.2 208.6L39.4 208.6L39.6 208.5L39.8 208.4L40.0 208.4L40.2 208.3L40.4 208.3L40.6 208.2L40.8 208.2L41.0 208.1L41.7 207.9L42.5 207.8L43.3 207.6L44.1 207.4L44.8 207.3L45.6 207.1L46.4 207.0L47.2 206.8L47.9 206.7L48.7 206.6L49.5 206.5L50.2 206.4L51.0 206.3L51.8 206.2L52.6 206.1L53.4 206.0L54.1 205.9L54.9 205.8L55.7 205.7L56.5 205.6L57.2 205.6L58.0 205.5L58.8 205.4L59.6 205.4L60.3 205.3L61.1 205.3L61.9 205.2L62.7 205.2L63.4 205.1L64.2 205.1L65.0 205.0L65.8 205.0L66.5 204.9L67.3 204.9L68.1 204.9L68.8 204.8L69.6 204.8L70.4 204.8L71.2 204.8L72.0 204.7L72.7 204.7L73.5 204.7L74.3 204.6L75.1 204.6L75.8 204.6L76.6 204.6L77.4 204.6L78.2 204.5L78.9 204.5L79.7 204.5L79.9 204.6L80.1 204.6L80.3 204.6L80.5 204.7L80.7 204.7L80.9 204.8L81.1 204.8L81.3 204.8L81.5 204.9L81.7 204.9L82.1 205.0L82.5 205.1L82.9 205.2L83.3 205.2L83.7 205.3L84.1 205.4L84.5 205.5L84.9 205.5L85.3 205.6L85.7 205.7L86.1 205.7L86.5 205.8L86.9 205.9L87.3 205.9L87.7 206.0L88.9 206.2L90.2 206.4L91.4 206.5L92.6 206.7L93.8 206.8L95.0 207.0L96.2 207.1L97.4 207.3L98.6 207.4L99.8 207.5L101.0 207.6L102.2 207.7L103.4 207.8L104.6 207.9L105.8 208.0L107.0 208.1L108.2 208.2L109.4 208.3L110.7 208.4L111.9 208.4L113.1 208.5L114.3 208.6L115.5 208.6L116.7 208.7L117.9 208.8L119.1 208.8L120.3 208.9L121.5 208.9L122.7 209.0L123.9 209.0L125.1 209.0L126.3 209.1L127.5 209.1L128.7 209.2L129.9 209.2L131.2 209.2L132.4 209.3L133.6 209.3L134.8 209.3L136.0 209.4L137.2 209.4L138.4 209.4L139.6 209.4L140.8 209.5L142.0 209.5L143.2 209.5L144.4 209.5L145.6 209.5L146.8 209.6L148.0 209.6L149.2 209.6L150.5 209.6L151.7 209.6L152.9 209.6L153.1 209.6" fill="none" stroke="#5a7894" stroke-width="1.0" stroke-linejoin="round"/>
<line x1="79.70" y1="203.51" x2="79.70" y2="205.51" stroke="#5a7894" stroke-width="1.1"/>
<path d="M33.2 210.7L33.4 210.5L33.6 210.4L33.8 210.2L34.0 210.1L34.2 209.9L34.4 209.7L34.6 209.6L34.8 209.4L34.9 209.3L35.1 209.2L35.3 209.0L35.5 208.9L35.7 208.7L35.9 208.6L36.1 208.5L36.3 208.3L36.5 208.2L36.7 208.1L36.9 207.9L37.1 207.8L37.3 207.7L37.5 207.6L37.7 207.5L37.9 207.3L38.0 207.2L38.2 207.1L38.4 207.0L38.6 206.9L38.8 206.8L39.0 206.7L39.2 206.5L39.4 206.4L39.6 206.3L39.8 206.2L40.0 206.1L40.2 206.0L40.4 205.9L40.6 205.8L40.8 205.7L41.0 205.6L41.7 205.3L42.5 204.9L43.3 204.6L44.1 204.3L44.8 204.0L45.6 203.7L46.4 203.5L47.2 203.2L47.9 203.0L48.7 202.8L49.5 202.5L50.2 202.3L51.0 202.2L51.8 202.0L52.6 201.8L53.4 201.7L54.1 201.5L54.9 201.4L55.7 201.2L56.5 201.1L57.2 201.0L58.0 200.9L58.8 200.8L59.6 200.7L60.3 200.6L61.1 200.5L61.9 200.4L62.7 200.3L63.4 200.2L64.2 200.2L65.0 200.1L65.8 200.0L66.5 200.0L67.3 199.9L68.1 199.9L68.8 199.8L69.6 199.8L70.4 199.7L71.2 199.7L72.0 199.6L72.7 199.6L73.5 199.5L74.3 199.5L75.1 199.5L75.8 199.4L76.6 199.4L77.4 199.4L78.2 199.4L78.9 199.3L79.7 199.3L79.9 199.4L80.1 199.5L80.3 199.6L80.5 199.6L80.7 199.7L80.9 199.8L81.1 199.9L81.3 200.0L81.5 200.0L81.7 200.1L82.1 200.3L82.5 200.4L82.9 200.6L83.3 200.7L83.7 200.9L84.1 201.0L84.5 201.2L84.9 201.3L85.3 201.4L85.7 201.6L86.1 201.7L86.5 201.8L86.9 202.0L87.3 202.1L87.7 202.2L88.9 202.6L90.2 202.9L91.4 203.2L92.6 203.5L93.8 203.8L95.0 204.1L96.2 204.4L97.4 204.6L98.6 204.9L99.8 205.1L101.0 205.3L102.2 205.6L103.4 205.8L104.6 205.9L105.8 206.1L107.0 206.3L108.2 206.5L109.4 206.6L110.7 206.8L111.9 206.9L113.1 207.1L114.3 207.2L115.5 207.3L116.7 207.4L117.9 207.6L119.1 207.7L120.3 207.8L121.5 207.9L122.7 208.0L123.9 208.0L125.1 208.1L126.3 208.2L127.5 208.3L128.7 208.4L129.9 208.4L131.2 208.5L132.4 208.6L133.6 208.6L134.8 208.7L136.0 208.7L137.2 208.8L138.4 208.8L139.6 208.9L140.8 208.9L142.0 209.0L143.2 209.0L144.4 209.1L145.6 209.1L146.8 209.1L148.0 209.2L149.2 209.2L150.5 209.2L151.7 209.3L152.9 209.3L153.1 209.3" fill="none" stroke="#505050" stroke-width="1.1" stroke-linejoin="round"/>
<line x1="79.70" y1="196.91" x2="79.70" y2="201.71" stroke="#505050" stroke-width="1.2100000000000002"/>
<path d="M33.2 210.7L33.4 210.4L33.6 210.1L33.8 209.8L34.0 209.5L34.2 209.2L34.4 208.9L34.6 208.6L34.8 208.3L34.9 208.1L35.1 207.8L35.3 207.5L35.5 207.3L35.7 207.0L35.9 206.7L36.1 206.5L36.3 206.2L36.5 206.0L36.7 205.7L36.9 205.5L37.1 205.3L37.3 205.0L37.5 204.8L37.7 204.6L37.9 204.3L38.0 204.1L38.2 203.9L38.4 203.7L38.6 203.5L38.8 203.3L39.0 203.1L39.2 202.9L39.4 202.7L39.6 202.5L39.8 202.3L40.0 202.1L40.2 201.9L40.4 201.7L40.6 201.5L40.8 201.3L41.0 201.1L41.7 200.5L42.5 199.8L43.3 199.2L44.1 198.6L44.8 198.0L45.6 197.5L46.4 197.0L47.2 196.5L47.9 196.1L48.7 195.7L49.5 195.3L50.2 194.9L51.0 194.6L51.8 194.2L52.6 193.9L53.4 193.6L54.1 193.3L54.9 193.1L55.7 192.8L56.5 192.6L57.2 192.3L58.0 192.1L58.8 191.9L59.6 191.7L60.3 191.6L61.1 191.4L61.9 191.2L62.7 191.1L63.4 190.9L64.2 190.8L65.0 190.7L65.8 190.5L66.5 190.4L67.3 190.3L68.1 190.2L68.8 190.1L69.6 190.0L70.4 189.9L71.2 189.8L72.0 189.8L72.7 189.7L73.5 189.6L74.3 189.6L75.1 189.5L75.8 189.4L76.6 189.4L77.4 189.3L78.2 189.3L78.9 189.2L79.7 189.2L79.9 189.4L80.1 189.5L80.3 189.7L80.5 189.8L80.7 190.0L80.9 190.2L81.1 190.3L81.3 190.5L81.5 190.6L81.7 190.8L82.1 191.1L82.5 191.4L82.9 191.7L83.3 192.0L83.7 192.2L84.1 192.5L84.5 192.8L84.9 193.1L85.3 193.3L85.7 193.6L86.1 193.9L86.5 194.1L86.9 194.4L87.3 194.6L87.7 194.9L88.9 195.6L90.2 196.2L91.4 196.9L92.6 197.5L93.8 198.1L95.0 198.6L96.2 199.1L97.4 199.6L98.6 200.1L99.8 200.6L101.0 201.0L102.2 201.4L103.4 201.8L104.6 202.2L105.8 202.6L107.0 202.9L108.2 203.2L109.4 203.5L110.7 203.8L111.9 204.1L113.1 204.4L114.3 204.7L115.5 204.9L116.7 205.1L117.9 205.4L119.1 205.6L120.3 205.8L121.5 206.0L122.7 206.1L123.9 206.3L125.1 206.5L126.3 206.6L127.5 206.8L128.7 206.9L129.9 207.1L131.2 207.2L132.4 207.3L133.6 207.5L134.8 207.6L136.0 207.7L137.2 207.8L138.4 207.9L139.6 208.0L140.8 208.1L142.0 208.1L143.2 208.2L144.4 208.3L145.6 208.4L146.8 208.5L148.0 208.5L149.2 208.6L150.5 208.6L151.7 208.7L152.9 208.8L153.1 208.8" fill="none" stroke="#232323" stroke-width="1.3" stroke-linejoin="round"/>
<line x1="79.70" y1="185.99" x2="79.70" y2="192.39" stroke="#232323" stroke-width="1.4300000000000002"/>
<line x1="190.70" y1="140.10" x2="190.70" y2="211.40" stroke="#9a9a9a" stroke-width="1"/>
<line x1="190.70" y1="210.90" x2="313.50" y2="210.90" stroke="#c8c8c8" stroke-width="1"/>
<line x1="188.90" y1="210.90" x2="190.70" y2="210.90" stroke="#9a9a9a" stroke-width="1"/>
<text x="185.20" y="213.20" font-size="6.5" fill="#2a2a2a" text-anchor="end">0</text>
<line x1="188.90" y1="193.33" x2="190.70" y2="193.33" stroke="#9a9a9a" stroke-width="1"/>
<text x="185.20" y="195.63" font-size="6.5" fill="#2a2a2a" text-anchor="end">50</text>
<line x1="188.90" y1="175.75" x2="190.70" y2="175.75" stroke="#9a9a9a" stroke-width="1"/>
<text x="185.20" y="178.05" font-size="6.5" fill="#2a2a2a" text-anchor="end">100</text>
<line x1="188.90" y1="158.18" x2="190.70" y2="158.18" stroke="#9a9a9a" stroke-width="1"/>
<text x="185.20" y="160.48" font-size="6.5" fill="#2a2a2a" text-anchor="end">150</text>
<line x1="188.90" y1="140.60" x2="190.70" y2="140.60" stroke="#9a9a9a" stroke-width="1"/>
<text x="185.20" y="142.90" font-size="6.5" fill="#2a2a2a" text-anchor="end">200</text>
<line x1="190.70" y1="210.90" x2="190.70" y2="212.70" stroke="#9a9a9a" stroke-width="1"/>
<text x="190.70" y="221.80" font-size="6.5" fill="#2a2a2a" text-anchor="middle">–10</text>
<line x1="230.90" y1="210.90" x2="230.90" y2="212.70" stroke="#9a9a9a" stroke-width="1"/>
<text x="230.90" y="221.80" font-size="6.5" fill="#2a2a2a" text-anchor="middle">90</text>
<line x1="271.10" y1="210.90" x2="271.10" y2="212.70" stroke="#9a9a9a" stroke-width="1"/>
<text x="271.10" y="221.80" font-size="6.5" fill="#2a2a2a" text-anchor="middle">190</text>
<line x1="311.30" y1="210.90" x2="311.30" y2="212.70" stroke="#9a9a9a" stroke-width="1"/>
<text x="311.30" y="221.80" font-size="6.5" fill="#2a2a2a" text-anchor="middle">290</text>
<text x="250.20" y="229.00" font-size="6.6" fill="#2a2a2a" textLength="21.60" lengthAdjust="spacingAndGlyphs" text-anchor="middle">Time (s)</text>
<text transform="translate(173.50,177.50) rotate(-90)" font-size="6.6" fill="#2a2a2a" text-anchor="middle" textLength="55" lengthAdjust="spacingAndGlyphs">Response units (RU)</text>
<text x="182.30" y="128.80" font-size="7.5" fill="#2a2a2a" textLength="82.00" lengthAdjust="spacingAndGlyphs">Binding of scFvD12 to FGFR1</text>
<text x="270.00" y="128.80" font-size="7.5" fill="#2a2a2a" textLength="42.30" lengthAdjust="spacingAndGlyphs"><tspan font-style="italic">K</tspan><tspan font-size="5" dy="1.2">D</tspan><tspan dy="-1.2"> = 323 nmol/L</tspan></text>
<path d="M195.4 210.9L195.6 210.9L195.8 210.8L196.0 210.8L196.2 210.8L196.4 210.8L196.6 210.7L196.8 210.7L197.0 210.7L197.2 210.7L197.4 210.6L197.6 210.6L197.8 210.6L198.0 210.6L198.2 210.6L198.4 210.5L198.6 210.5L198.8 210.5L199.0 210.5L199.2 210.5L199.4 210.5L199.6 210.5L199.8 210.4L200.0 210.4L200.2 210.4L200.4 210.4L200.6 210.4L200.8 210.4L201.0 210.4L201.2 210.4L201.4 210.4L201.6 210.3L201.8 210.3L202.0 210.3L202.2 210.3L202.4 210.3L202.6 210.3L202.8 210.3L203.0 210.3L203.2 210.3L203.3 210.3L204.1 210.3L204.9 210.2L205.7 210.2L206.5 210.2L207.3 210.2L208.1 210.2L208.9 210.2L209.7 210.2L210.5 210.1L211.3 210.1L212.1 210.1L212.9 210.1L213.7 210.1L214.5 210.1L215.3 210.1L216.1 210.1L216.9 210.1L217.7 210.1L218.5 210.1L219.2 210.1L220.0 210.1L220.8 210.0L221.6 210.0L222.4 210.0L223.2 210.0L224.0 210.0L224.8 210.0L225.6 210.0L226.4 210.0L227.2 210.0L228.0 210.0L228.8 210.0L229.6 210.0L230.4 210.0L231.2 210.0L232.0 209.9L232.8 209.9L233.6 209.9L234.4 209.9L235.2 209.9L235.9 209.9L236.7 209.9L237.5 209.9L238.3 209.9L239.1 209.9L239.9 209.9L240.7 209.9L241.5 209.9L242.3 209.9L243.1 209.8L243.3 209.9L243.5 209.9L243.7 210.0L243.9 210.0L244.1 210.0L244.3 210.0L244.5 210.1L244.7 210.1L244.9 210.1L245.1 210.1L245.5 210.1L245.9 210.2L246.3 210.2L246.7 210.2L247.1 210.2L247.5 210.2L247.9 210.2L248.3 210.2L248.7 210.3L249.1 210.3L249.5 210.3L249.9 210.3L250.3 210.3L250.7 210.3L251.1 210.3L252.3 210.3L253.6 210.3L254.8 210.3L256.0 210.4L257.2 210.4L258.4 210.4L259.6 210.4L260.8 210.4L262.0 210.4L263.2 210.4L264.4 210.4L265.6 210.4L266.8 210.4L268.0 210.5L269.2 210.5L270.4 210.5L271.6 210.5L272.8 210.5L274.1 210.5L275.3 210.5L276.5 210.5L277.7 210.5L278.9 210.5L280.1 210.5L281.3 210.5L282.5 210.5L283.7 210.5L284.9 210.5L286.1 210.5L287.3 210.5L288.5 210.5L289.7 210.5L290.9 210.5L292.1 210.5L293.4 210.5L294.6 210.5L295.8 210.5L297.0 210.5L298.2 210.5L299.4 210.5L300.6 210.5L301.8 210.5L303.0 210.5L304.2 210.5L305.4 210.5L306.6 210.5L307.8 210.5L309.0 210.5L310.2 210.5L311.4 210.5L311.9 210.5" fill="none" stroke="#c0d5ea" stroke-width="1.0" stroke-linejoin="round"/>
<path d="M195.4 210.9L195.6 210.8L195.8 210.8L196.0 210.7L196.2 210.7L196.4 210.6L196.6 210.6L196.8 210.5L197.0 210.5L197.2 210.4L197.4 210.4L197.6 210.3L197.8 210.3L198.0 210.2L198.2 210.2L198.4 210.2L198.6 210.1L198.8 210.1L199.0 210.1L199.2 210.1L199.4 210.0L199.6 210.0L199.8 210.0L200.0 210.0L200.2 209.9L200.4 209.9L200.6 209.9L200.8 209.9L201.0 209.8L201.2 209.8L201.4 209.8L201.6 209.8L201.8 209.8L202.0 209.8L202.2 209.7L202.4 209.7L202.6 209.7L202.8 209.7L203.0 209.7L203.2 209.7L203.3 209.7L204.1 209.6L204.9 209.6L205.7 209.5L206.5 209.5L207.3 209.5L208.1 209.5L208.9 209.4L209.7 209.4L210.5 209.4L211.3 209.4L212.1 209.4L212.9 209.3L213.7 209.3L214.5 209.3L215.3 209.3L216.1 209.3L216.9 209.3L217.7 209.2L218.5 209.2L219.2 209.2L220.0 209.2L220.8 209.2L221.6 209.2L222.4 209.2L223.2 209.1L224.0 209.1L224.8 209.1L225.6 209.1L226.4 209.1L227.2 209.1L228.0 209.1L228.8 209.0L229.6 209.0L230.4 209.0L231.2 209.0L232.0 209.0L232.8 209.0L233.6 209.0L234.4 208.9L235.2 208.9L235.9 208.9L236.7 208.9L237.5 208.9L238.3 208.9L239.1 208.9L239.9 208.8L240.7 208.8L241.5 208.8L242.3 208.8L243.1 208.8L243.3 208.9L243.5 209.0L243.7 209.0L243.9 209.1L244.1 209.1L244.3 209.2L244.5 209.2L244.7 209.3L244.9 209.3L245.1 209.3L245.5 209.4L245.9 209.5L246.3 209.5L246.7 209.5L247.1 209.6L247.5 209.6L247.9 209.6L248.3 209.6L248.7 209.7L249.1 209.7L249.5 209.7L249.9 209.7L250.3 209.7L250.7 209.8L251.1 209.8L252.3 209.8L253.6 209.8L254.8 209.9L256.0 209.9L257.2 209.9L258.4 210.0L259.6 210.0L260.8 210.0L262.0 210.0L263.2 210.1L264.4 210.1L265.6 210.1L266.8 210.1L268.0 210.1L269.2 210.2L270.4 210.2L271.6 210.2L272.8 210.2L274.1 210.2L275.3 210.2L276.5 210.2L277.7 210.2L278.9 210.3L280.1 210.3L281.3 210.3L282.5 210.3L283.7 210.3L284.9 210.3L286.1 210.3L287.3 210.3L288.5 210.3L289.7 210.3L290.9 210.3L292.1 210.3L293.4 210.3L294.6 210.3L295.8 210.3L297.0 210.3L298.2 210.3L299.4 210.4L300.6 210.4L301.8 210.4L303.0 210.4L304.2 210.4L305.4 210.4L306.6 210.4L307.8 210.4L309.0 210.4L310.2 210.4L311.4 210.4L311.9 210.4" fill="none" stroke="#a0bedb" stroke-width="1.0" stroke-linejoin="round"/>
<path d="M195.4 210.9L195.6 210.8L195.8 210.7L196.0 210.6L196.2 210.5L196.4 210.4L196.6 210.3L196.8 210.2L197.0 210.1L197.2 210.0L197.4 210.0L197.6 209.9L197.8 209.8L198.0 209.8L198.2 209.7L198.4 209.6L198.6 209.6L198.8 209.5L199.0 209.5L199.2 209.4L199.4 209.4L199.6 209.3L199.8 209.3L200.0 209.2L200.2 209.2L200.4 209.2L200.6 209.1L200.8 209.1L201.0 209.1L201.2 209.0L201.4 209.0L201.6 209.0L201.8 208.9L202.0 208.9L202.2 208.9L202.4 208.9L202.6 208.8L202.8 208.8L203.0 208.8L203.2 208.8L203.3 208.7L204.1 208.7L204.9 208.6L205.7 208.5L206.5 208.5L207.3 208.4L208.1 208.4L208.9 208.3L209.7 208.3L210.5 208.3L211.3 208.2L212.1 208.2L212.9 208.2L213.7 208.1L214.5 208.1L215.3 208.1L216.1 208.1L216.9 208.0L217.7 208.0L218.5 208.0L219.2 208.0L220.0 207.9L220.8 207.9L221.6 207.9L222.4 207.9L223.2 207.8L224.0 207.8L224.8 207.8L225.6 207.8L226.4 207.7L227.2 207.7L228.0 207.7L228.8 207.7L229.6 207.6L230.4 207.6L231.2 207.6L232.0 207.6L232.8 207.5L233.6 207.5L234.4 207.5L235.2 207.5L235.9 207.4L236.7 207.4L237.5 207.4L238.3 207.4L239.1 207.3L239.9 207.3L240.7 207.3L241.5 207.3L242.3 207.2L243.1 207.2L243.3 207.4L243.5 207.5L243.7 207.6L243.9 207.7L244.1 207.8L244.3 207.9L244.5 208.0L244.7 208.1L244.9 208.1L245.1 208.2L245.5 208.3L245.9 208.4L246.3 208.5L246.7 208.5L247.1 208.6L247.5 208.7L247.9 208.7L248.3 208.8L248.7 208.8L249.1 208.8L249.5 208.9L249.9 208.9L250.3 208.9L250.7 209.0L251.1 209.0L252.3 209.1L253.6 209.2L254.8 209.2L256.0 209.3L257.2 209.4L258.4 209.4L259.6 209.5L260.8 209.5L262.0 209.6L263.2 209.6L264.4 209.6L265.6 209.7L266.8 209.7L268.0 209.7L269.2 209.8L270.4 209.8L271.6 209.8L272.8 209.9L274.1 209.9L275.3 209.9L276.5 209.9L277.7 210.0L278.9 210.0L280.1 210.0L281.3 210.0L282.5 210.0L283.7 210.0L284.9 210.0L286.1 210.1L287.3 210.1L288.5 210.1L289.7 210.1L290.9 210.1L292.1 210.1L293.4 210.1L294.6 210.1L295.8 210.1L297.0 210.1L298.2 210.1L299.4 210.2L300.6 210.2L301.8 210.2L303.0 210.2L304.2 210.2L305.4 210.2L306.6 210.2L307.8 210.2L309.0 210.2L310.2 210.2L311.4 210.2L311.9 210.2" fill="none" stroke="#7ca2c7" stroke-width="1.0" stroke-linejoin="round"/>
<path d="M195.4 210.9L195.6 210.7L195.8 210.6L196.0 210.4L196.2 210.3L196.4 210.2L196.6 210.0L196.8 209.9L197.0 209.8L197.2 209.7L197.4 209.6L197.6 209.5L197.8 209.4L198.0 209.3L198.2 209.2L198.4 209.1L198.6 209.0L198.8 209.0L199.0 208.9L199.2 208.8L199.4 208.8L199.6 208.7L199.8 208.6L200.0 208.6L200.2 208.5L200.4 208.5L200.6 208.4L200.8 208.4L201.0 208.3L201.2 208.3L201.4 208.2L201.6 208.2L201.8 208.1L202.0 208.1L202.2 208.1L202.4 208.0L202.6 208.0L202.8 207.9L203.0 207.9L203.2 207.9L203.3 207.9L204.1 207.7L204.9 207.6L205.7 207.6L206.5 207.5L207.3 207.4L208.1 207.4L208.9 207.3L209.7 207.2L210.5 207.2L211.3 207.1L212.1 207.1L212.9 207.1L213.7 207.0L214.5 207.0L215.3 206.9L216.1 206.9L216.9 206.9L217.7 206.8L218.5 206.8L219.2 206.7L220.0 206.7L220.8 206.7L221.6 206.6L222.4 206.6L223.2 206.6L224.0 206.5L224.8 206.5L225.6 206.5L226.4 206.4L227.2 206.4L228.0 206.4L228.8 206.3L229.6 206.3L230.4 206.3L231.2 206.2L232.0 206.2L232.8 206.1L233.6 206.1L234.4 206.1L235.2 206.0L235.9 206.0L236.7 206.0L237.5 205.9L238.3 205.9L239.1 205.9L239.9 205.8L240.7 205.8L241.5 205.8L242.3 205.7L243.1 205.7L243.3 205.9L243.5 206.1L243.7 206.3L243.9 206.4L244.1 206.6L244.3 206.7L244.5 206.8L244.7 206.9L244.9 207.0L245.1 207.1L245.5 207.2L245.9 207.4L246.3 207.5L246.7 207.6L247.1 207.7L247.5 207.7L247.9 207.8L248.3 207.9L248.7 207.9L249.1 208.0L249.5 208.0L249.9 208.1L250.3 208.1L250.7 208.1L251.1 208.2L252.3 208.3L253.6 208.4L254.8 208.5L256.0 208.6L257.2 208.7L258.4 208.8L259.6 208.8L260.8 208.9L262.0 209.0L263.2 209.0L264.4 209.1L265.6 209.1L266.8 209.2L268.0 209.2L269.2 209.3L270.4 209.3L271.6 209.4L272.8 209.4L274.1 209.4L275.3 209.5L276.5 209.5L277.7 209.5L278.9 209.5L280.1 209.6L281.3 209.6L282.5 209.6L283.7 209.6L284.9 209.6L286.1 209.7L287.3 209.7L288.5 209.7L289.7 209.7L290.9 209.7L292.1 209.7L293.4 209.7L294.6 209.7L295.8 209.8L297.0 209.8L298.2 209.8L299.4 209.8L300.6 209.8L301.8 209.8L303.0 209.8L304.2 209.8L305.4 209.8L306.6 209.8L307.8 209.8L309.0 209.8L310.2 209.8L311.4 209.8L311.9 209.8" fill="none" stroke="#5888b4" stroke-width="1.0" stroke-linejoin="round"/>
<path d="M195.4 210.9L195.6 210.7L195.8 210.4L196.0 210.2L196.2 210.0L196.4 209.8L196.6 209.6L196.8 209.4L197.0 209.3L197.2 209.1L197.4 209.0L197.6 208.8L197.8 208.7L198.0 208.5L198.2 208.4L198.4 208.3L198.6 208.2L198.8 208.0L199.0 207.9L199.2 207.8L199.4 207.7L199.6 207.6L199.8 207.5L200.0 207.4L200.2 207.4L200.4 207.3L200.6 207.2L200.8 207.1L201.0 207.1L201.2 207.0L201.4 206.9L201.6 206.9L201.8 206.8L202.0 206.7L202.2 206.7L202.4 206.6L202.6 206.6L202.8 206.5L203.0 206.5L203.2 206.4L203.3 206.4L204.1 206.2L204.9 206.1L205.7 206.0L206.5 205.8L207.3 205.7L208.1 205.6L208.9 205.6L209.7 205.5L210.5 205.4L211.3 205.3L212.1 205.3L212.9 205.2L213.7 205.1L214.5 205.1L215.3 205.0L216.1 205.0L216.9 204.9L217.7 204.9L218.5 204.8L219.2 204.8L220.0 204.7L220.8 204.6L221.6 204.6L222.4 204.5L223.2 204.5L224.0 204.4L224.8 204.4L225.6 204.3L226.4 204.3L227.2 204.2L228.0 204.2L228.8 204.1L229.6 204.1L230.4 204.0L231.2 204.0L232.0 203.9L232.8 203.9L233.6 203.8L234.4 203.8L235.2 203.7L235.9 203.7L236.7 203.6L237.5 203.6L238.3 203.5L239.1 203.5L239.9 203.4L240.7 203.4L241.5 203.3L242.3 203.3L243.1 203.2L243.3 203.5L243.5 203.8L243.7 204.1L243.9 204.3L244.1 204.5L244.3 204.7L244.5 204.9L244.7 205.0L244.9 205.1L245.1 205.3L245.5 205.5L245.9 205.7L246.3 205.9L246.7 206.0L247.1 206.1L247.5 206.2L247.9 206.3L248.3 206.4L248.7 206.5L249.1 206.6L249.5 206.7L249.9 206.8L250.3 206.8L250.7 206.9L251.1 206.9L252.3 207.1L253.6 207.3L254.8 207.4L256.0 207.6L257.2 207.7L258.4 207.8L259.6 207.9L260.8 208.0L262.0 208.1L263.2 208.2L264.4 208.3L265.6 208.4L266.8 208.5L268.0 208.5L269.2 208.6L270.4 208.7L271.6 208.7L272.8 208.8L274.1 208.8L275.3 208.9L276.5 208.9L277.7 209.0L278.9 209.0L280.1 209.0L281.3 209.1L282.5 209.1L283.7 209.1L284.9 209.2L286.1 209.2L287.3 209.2L288.5 209.2L289.7 209.3L290.9 209.3L292.1 209.3L293.4 209.3L294.6 209.3L295.8 209.4L297.0 209.4L298.2 209.4L299.4 209.4L300.6 209.4L301.8 209.4L303.0 209.4L304.2 209.4L305.4 209.5L306.6 209.5L307.8 209.5L309.0 209.5L310.2 209.5L311.4 209.5L311.9 209.5" fill="none" stroke="#41729f" stroke-width="1.0" stroke-linejoin="round"/>
<path d="M195.4 210.9L195.6 210.6L195.8 210.2L196.0 209.9L196.2 209.6L196.4 209.3L196.6 209.0L196.8 208.8L197.0 208.5L197.2 208.3L197.4 208.1L197.6 207.8L197.8 207.6L198.0 207.4L198.2 207.3L198.4 207.1L198.6 206.9L198.8 206.7L199.0 206.6L199.2 206.4L199.4 206.3L199.6 206.1L199.8 206.0L200.0 205.9L200.2 205.8L200.4 205.6L200.6 205.5L200.8 205.4L201.0 205.3L201.2 205.2L201.4 205.1L201.6 205.0L201.8 204.9L202.0 204.8L202.2 204.8L202.4 204.7L202.6 204.6L202.8 204.5L203.0 204.5L203.2 204.4L203.3 204.3L204.1 204.1L204.9 203.9L205.7 203.7L206.5 203.5L207.3 203.4L208.1 203.3L208.9 203.1L209.7 203.0L210.5 202.9L211.3 202.8L212.1 202.7L212.9 202.6L213.7 202.5L214.5 202.4L215.3 202.3L216.1 202.3L216.9 202.2L217.7 202.1L218.5 202.0L219.2 201.9L220.0 201.9L220.8 201.8L221.6 201.7L222.4 201.6L223.2 201.6L224.0 201.5L224.8 201.4L225.6 201.3L226.4 201.3L227.2 201.2L228.0 201.1L228.8 201.0L229.6 201.0L230.4 200.9L231.2 200.8L232.0 200.7L232.8 200.7L233.6 200.6L234.4 200.5L235.2 200.4L235.9 200.4L236.7 200.3L237.5 200.2L238.3 200.1L239.1 200.1L239.9 200.0L240.7 199.9L241.5 199.8L242.3 199.8L243.1 199.7L243.3 200.2L243.5 200.6L243.7 200.9L243.9 201.3L244.1 201.6L244.3 201.9L244.5 202.1L244.7 202.3L244.9 202.5L245.1 202.7L245.5 203.1L245.9 203.4L246.3 203.6L246.7 203.8L247.1 204.0L247.5 204.2L247.9 204.3L248.3 204.5L248.7 204.6L249.1 204.7L249.5 204.8L249.9 204.9L250.3 205.1L250.7 205.2L251.1 205.2L252.3 205.5L253.6 205.8L254.8 206.0L256.0 206.2L257.2 206.4L258.4 206.6L259.6 206.8L260.8 206.9L262.0 207.1L263.2 207.2L264.4 207.3L265.6 207.5L266.8 207.6L268.0 207.7L269.2 207.8L270.4 207.9L271.6 208.0L272.8 208.1L274.1 208.1L275.3 208.2L276.5 208.3L277.7 208.3L278.9 208.4L280.1 208.5L281.3 208.5L282.5 208.6L283.7 208.6L284.9 208.7L286.1 208.7L287.3 208.7L288.5 208.8L289.7 208.8L290.9 208.8L292.1 208.9L293.4 208.9L294.6 208.9L295.8 208.9L297.0 209.0L298.2 209.0L299.4 209.0L300.6 209.0L301.8 209.0L303.0 209.1L304.2 209.1L305.4 209.1L306.6 209.1L307.8 209.1L309.0 209.1L310.2 209.1L311.4 209.1L311.9 209.1" fill="none" stroke="#5a7894" stroke-width="1.0" stroke-linejoin="round"/>
<path d="M195.4 210.9L195.6 210.0L195.8 209.1L196.0 208.3L196.2 207.5L196.4 206.8L196.6 206.2L196.8 205.5L197.0 204.9L197.2 204.4L197.4 203.8L197.6 203.4L197.8 202.9L198.0 202.5L198.2 202.0L198.4 201.7L198.6 201.3L198.8 201.0L199.0 200.6L199.2 200.3L199.4 200.0L199.6 199.8L199.8 199.5L200.0 199.3L200.2 199.1L200.4 198.8L200.6 198.6L200.8 198.5L201.0 198.3L201.2 198.1L201.4 197.9L201.6 197.8L201.8 197.6L202.0 197.5L202.2 197.4L202.4 197.3L202.6 197.1L202.8 197.0L203.0 196.9L203.2 196.8L203.3 196.7L204.1 196.4L204.9 196.1L205.7 195.8L206.5 195.6L207.3 195.4L208.1 195.3L208.9 195.1L209.7 195.0L210.5 194.8L211.3 194.7L212.1 194.6L212.9 194.5L213.7 194.4L214.5 194.3L215.3 194.2L216.1 194.1L216.9 193.9L217.7 193.8L218.5 193.7L219.2 193.6L220.0 193.5L220.8 193.4L221.6 193.3L222.4 193.2L223.2 193.1L224.0 193.0L224.8 192.9L225.6 192.8L226.4 192.7L227.2 192.6L228.0 192.5L228.8 192.4L229.6 192.3L230.4 192.2L231.2 192.1L232.0 192.0L232.8 191.9L233.6 191.8L234.4 191.7L235.2 191.6L235.9 191.5L236.7 191.4L237.5 191.3L238.3 191.2L239.1 191.1L239.9 191.0L240.7 190.9L241.5 190.8L242.3 190.7L243.1 190.6L243.3 191.4L243.5 192.2L243.7 192.9L243.9 193.5L244.1 194.1L244.3 194.6L244.5 195.0L244.7 195.5L244.9 195.9L245.1 196.2L245.5 196.8L245.9 197.4L246.3 197.8L246.7 198.2L247.1 198.6L247.5 198.9L247.9 199.2L248.3 199.5L248.7 199.7L249.1 200.0L249.5 200.2L249.9 200.4L250.3 200.6L250.7 200.8L251.1 201.0L252.3 201.5L253.6 202.0L254.8 202.4L256.0 202.9L257.2 203.2L258.4 203.6L259.6 203.9L260.8 204.3L262.0 204.6L263.2 204.8L264.4 205.1L265.6 205.3L266.8 205.6L268.0 205.8L269.2 206.0L270.4 206.2L271.6 206.3L272.8 206.5L274.1 206.7L275.3 206.8L276.5 206.9L277.7 207.1L278.9 207.2L280.1 207.3L281.3 207.4L282.5 207.5L283.7 207.6L284.9 207.7L286.1 207.7L287.3 207.8L288.5 207.9L289.7 207.9L290.9 208.0L292.1 208.1L293.4 208.1L294.6 208.2L295.8 208.2L297.0 208.3L298.2 208.3L299.4 208.3L300.6 208.4L301.8 208.4L303.0 208.4L304.2 208.5L305.4 208.5L306.6 208.5L307.8 208.5L309.0 208.6L310.2 208.6L311.4 208.6L311.9 208.6" fill="none" stroke="#505050" stroke-width="1.1" stroke-linejoin="round"/>
<path d="M195.4 210.9L195.6 209.6L195.8 208.4L196.0 207.2L196.2 206.1L196.4 205.0L196.6 203.9L196.8 202.9L197.0 202.0L197.2 201.1L197.4 200.2L197.6 199.4L197.8 198.6L198.0 197.9L198.2 197.1L198.4 196.4L198.6 195.8L198.8 195.1L199.0 194.5L199.2 193.9L199.4 193.4L199.6 192.9L199.8 192.4L200.0 191.9L200.2 191.4L200.4 191.0L200.6 190.5L200.8 190.1L201.0 189.7L201.2 189.4L201.4 189.0L201.6 188.7L201.8 188.3L202.0 188.0L202.2 187.7L202.4 187.4L202.6 187.2L202.8 186.9L203.0 186.6L203.2 186.4L203.3 186.2L204.1 185.3L204.9 184.6L205.7 184.0L206.5 183.5L207.3 183.1L208.1 182.8L208.9 182.5L209.7 182.2L210.5 182.0L211.3 181.8L212.1 181.6L212.9 181.5L213.7 181.3L214.5 181.2L215.3 181.1L216.1 181.0L216.9 180.9L217.7 180.9L218.5 180.8L219.2 180.7L220.0 180.7L220.8 180.6L221.6 180.6L222.4 180.5L223.2 180.5L224.0 180.4L224.8 180.4L225.6 180.3L226.4 180.3L227.2 180.3L228.0 180.2L228.8 180.2L229.6 180.1L230.4 180.1L231.2 180.1L232.0 180.0L232.8 180.0L233.6 180.0L234.4 179.9L235.2 179.9L235.9 179.8L236.7 179.8L237.5 179.8L238.3 179.7L239.1 179.7L239.9 179.7L240.7 179.6L241.5 179.6L242.3 179.5L243.1 179.5L243.3 181.2L243.5 182.6L243.7 184.0L243.9 185.2L244.1 186.2L244.3 187.2L244.5 188.0L244.7 188.8L244.9 189.5L245.1 190.2L245.5 191.3L245.9 192.2L246.3 193.0L246.7 193.7L247.1 194.3L247.5 194.8L247.9 195.2L248.3 195.6L248.7 196.0L249.1 196.4L249.5 196.7L249.9 197.0L250.3 197.3L250.7 197.5L251.1 197.8L252.3 198.5L253.6 199.1L254.8 199.7L256.0 200.3L257.2 200.8L258.4 201.3L259.6 201.7L260.8 202.2L262.0 202.6L263.2 202.9L264.4 203.3L265.6 203.6L266.8 203.9L268.0 204.2L269.2 204.5L270.4 204.7L271.6 204.9L272.8 205.2L274.1 205.4L275.3 205.6L276.5 205.7L277.7 205.9L278.9 206.1L280.1 206.2L281.3 206.3L282.5 206.5L283.7 206.6L284.9 206.7L286.1 206.8L287.3 206.9L288.5 207.0L289.7 207.1L290.9 207.2L292.1 207.2L293.4 207.3L294.6 207.4L295.8 207.4L297.0 207.5L298.2 207.6L299.4 207.6L300.6 207.7L301.8 207.7L303.0 207.7L304.2 207.8L305.4 207.8L306.6 207.9L307.8 207.9L309.0 207.9L310.2 207.9L311.4 208.0L311.9 208.0" fill="none" stroke="#232323" stroke-width="1.3" stroke-linejoin="round"/>
<line x1="359.00" y1="140.10" x2="359.00" y2="211.40" stroke="#9a9a9a" stroke-width="1"/>
<line x1="359.00" y1="210.90" x2="481.80" y2="210.90" stroke="#c8c8c8" stroke-width="1"/>
<line x1="357.20" y1="210.90" x2="359.00" y2="210.90" stroke="#9a9a9a" stroke-width="1"/>
<text x="353.50" y="213.20" font-size="6.5" fill="#2a2a2a" text-anchor="end">0</text>
<line x1="357.20" y1="193.33" x2="359.00" y2="193.33" stroke="#9a9a9a" stroke-width="1"/>
<text x="353.50" y="195.63" font-size="6.5" fill="#2a2a2a" text-anchor="end">50</text>
<line x1="357.20" y1="175.75" x2="359.00" y2="175.75" stroke="#9a9a9a" stroke-width="1"/>
<text x="353.50" y="178.05" font-size="6.5" fill="#2a2a2a" text-anchor="end">100</text>
<line x1="357.20" y1="158.18" x2="359.00" y2="158.18" stroke="#9a9a9a" stroke-width="1"/>
<text x="353.50" y="160.48" font-size="6.5" fill="#2a2a2a" text-anchor="end">150</text>
<line x1="357.20" y1="140.60" x2="359.00" y2="140.60" stroke="#9a9a9a" stroke-width="1"/>
<text x="353.50" y="142.90" font-size="6.5" fill="#2a2a2a" text-anchor="end">200</text>
<line x1="359.00" y1="210.90" x2="359.00" y2="212.70" stroke="#9a9a9a" stroke-width="1"/>
<text x="359.00" y="221.80" font-size="6.5" fill="#2a2a2a" text-anchor="middle">–10</text>
<line x1="399.20" y1="210.90" x2="399.20" y2="212.70" stroke="#9a9a9a" stroke-width="1"/>
<text x="399.20" y="221.80" font-size="6.5" fill="#2a2a2a" text-anchor="middle">90</text>
<line x1="439.40" y1="210.90" x2="439.40" y2="212.70" stroke="#9a9a9a" stroke-width="1"/>
<text x="439.40" y="221.80" font-size="6.5" fill="#2a2a2a" text-anchor="middle">190</text>
<line x1="479.60" y1="210.90" x2="479.60" y2="212.70" stroke="#9a9a9a" stroke-width="1"/>
<text x="479.60" y="221.80" font-size="6.5" fill="#2a2a2a" text-anchor="middle">290</text>
<text x="418.50" y="229.00" font-size="6.6" fill="#2a2a2a" textLength="21.60" lengthAdjust="spacingAndGlyphs" text-anchor="middle">Time (s)</text>
<text transform="translate(338.80,177.50) rotate(-90)" font-size="6.6" fill="#2a2a2a" text-anchor="middle" textLength="55" lengthAdjust="spacingAndGlyphs">Response units (RU)</text>
<text x="350.30" y="128.80" font-size="7.5" fill="#2a2a2a" textLength="77.10" lengthAdjust="spacingAndGlyphs">Binding of scFvE2 to FGFR1</text>
<text x="436.20" y="128.80" font-size="7.5" fill="#2a2a2a" textLength="47.60" lengthAdjust="spacingAndGlyphs"><tspan font-style="italic">K</tspan><tspan font-size="5" dy="1.2">D</tspan><tspan dy="-1.2"> = 390 nmol/L</tspan></text>
<path d="M363.5 210.9L363.7 210.9L363.9 210.9L364.1 210.9L364.3 210.9L364.4 210.8L364.6 210.8L364.8 210.8L365.0 210.8L365.2 210.8L365.4 210.8L365.6 210.8L365.8 210.8L366.0 210.8L366.1 210.7L366.3 210.7L366.5 210.7L366.7 210.7L366.9 210.7L367.1 210.7L367.3 210.7L367.5 210.7L367.7 210.7L367.8 210.7L368.0 210.7L368.2 210.6L368.4 210.6L368.6 210.6L368.8 210.6L369.0 210.6L369.2 210.6L369.4 210.6L369.5 210.6L369.7 210.6L369.9 210.6L370.1 210.6L370.3 210.5L370.5 210.5L370.7 210.5L370.9 210.5L371.1 210.5L371.8 210.5L372.6 210.5L373.3 210.4L374.1 210.4L374.8 210.4L375.6 210.4L376.3 210.3L377.1 210.3L377.8 210.3L378.6 210.3L379.4 210.2L380.1 210.2L380.9 210.2L381.6 210.2L382.4 210.2L383.1 210.2L383.9 210.1L384.6 210.1L385.4 210.1L386.1 210.1L386.9 210.1L387.7 210.1L388.4 210.1L389.2 210.0L389.9 210.0L390.7 210.0L391.4 210.0L392.2 210.0L392.9 210.0L393.7 210.0L394.5 210.0L395.2 210.0L396.0 209.9L396.7 209.9L397.5 209.9L398.2 209.9L399.0 209.9L399.7 209.9L400.5 209.9L401.2 209.9L402.0 209.9L402.8 209.9L403.5 209.9L404.3 209.9L405.0 209.9L405.8 209.9L406.5 209.9L407.3 209.9L408.0 209.8L408.8 209.8L409.0 209.9L409.2 209.9L409.4 209.9L409.6 209.9L409.8 209.9L410.0 209.9L410.2 209.9L410.4 209.9L410.6 209.9L410.8 209.9L411.2 209.9L411.6 209.9L412.0 209.9L412.4 209.9L412.8 209.9L413.2 210.0L413.6 210.0L414.0 210.0L414.4 210.0L414.8 210.0L415.2 210.0L415.6 210.0L416.0 210.0L416.4 210.0L416.8 210.0L418.0 210.1L419.3 210.1L420.5 210.1L421.7 210.1L422.9 210.2L424.1 210.2L425.3 210.2L426.5 210.2L427.7 210.2L428.9 210.2L430.1 210.3L431.3 210.3L432.5 210.3L433.7 210.3L434.9 210.3L436.1 210.3L437.3 210.3L438.5 210.3L439.8 210.4L441.0 210.4L442.2 210.4L443.4 210.4L444.6 210.4L445.8 210.4L447.0 210.4L448.2 210.4L449.4 210.4L450.6 210.4L451.8 210.4L453.0 210.4L454.2 210.5L455.4 210.5L456.6 210.5L457.8 210.5L459.1 210.5L460.3 210.5L461.5 210.5L462.7 210.5L463.9 210.5L465.1 210.5L466.3 210.5L467.5 210.5L468.7 210.5L469.9 210.5L471.1 210.5L472.3 210.5L473.5 210.5L474.7 210.5L475.9 210.5L477.1 210.5L478.3 210.5L479.6 210.5L480.8 210.5L482.0 210.5L483.2 210.5L484.1 210.5" fill="none" stroke="#c0d5ea" stroke-width="1.0" stroke-linejoin="round"/>
<path d="M363.5 210.9L363.7 210.9L363.9 210.9L364.1 210.8L364.3 210.8L364.4 210.8L364.6 210.8L364.8 210.8L365.0 210.8L365.2 210.7L365.4 210.7L365.6 210.7L365.8 210.7L366.0 210.7L366.1 210.6L366.3 210.6L366.5 210.6L366.7 210.6L366.9 210.6L367.1 210.6L367.3 210.5L367.5 210.5L367.7 210.5L367.8 210.5L368.0 210.5L368.2 210.5L368.4 210.5L368.6 210.4L368.8 210.4L369.0 210.4L369.2 210.4L369.4 210.4L369.5 210.4L369.7 210.4L369.9 210.3L370.1 210.3L370.3 210.3L370.5 210.3L370.7 210.3L370.9 210.3L371.1 210.3L371.8 210.2L372.6 210.2L373.3 210.1L374.1 210.1L374.8 210.0L375.6 210.0L376.3 209.9L377.1 209.9L377.8 209.9L378.6 209.8L379.4 209.8L380.1 209.8L380.9 209.7L381.6 209.7L382.4 209.7L383.1 209.7L383.9 209.6L384.6 209.6L385.4 209.6L386.1 209.5L386.9 209.5L387.7 209.5L388.4 209.5L389.2 209.5L389.9 209.4L390.7 209.4L391.4 209.4L392.2 209.4L392.9 209.4L393.7 209.4L394.5 209.3L395.2 209.3L396.0 209.3L396.7 209.3L397.5 209.3L398.2 209.3L399.0 209.3L399.7 209.3L400.5 209.2L401.2 209.2L402.0 209.2L402.8 209.2L403.5 209.2L404.3 209.2L405.0 209.2L405.8 209.2L406.5 209.2L407.3 209.2L408.0 209.1L408.8 209.1L409.0 209.2L409.2 209.2L409.4 209.2L409.6 209.2L409.8 209.2L410.0 209.2L410.2 209.2L410.4 209.2L410.6 209.2L410.8 209.2L411.2 209.3L411.6 209.3L412.0 209.3L412.4 209.3L412.8 209.3L413.2 209.3L413.6 209.4L414.0 209.4L414.4 209.4L414.8 209.4L415.2 209.4L415.6 209.4L416.0 209.5L416.4 209.5L416.8 209.5L418.0 209.5L419.3 209.6L420.5 209.6L421.7 209.6L422.9 209.7L424.1 209.7L425.3 209.7L426.5 209.8L427.7 209.8L428.9 209.8L430.1 209.9L431.3 209.9L432.5 209.9L433.7 209.9L434.9 210.0L436.1 210.0L437.3 210.0L438.5 210.0L439.8 210.0L441.0 210.1L442.2 210.1L443.4 210.1L444.6 210.1L445.8 210.1L447.0 210.1L448.2 210.2L449.4 210.2L450.6 210.2L451.8 210.2L453.0 210.2L454.2 210.2L455.4 210.2L456.6 210.2L457.8 210.2L459.1 210.3L460.3 210.3L461.5 210.3L462.7 210.3L463.9 210.3L465.1 210.3L466.3 210.3L467.5 210.3L468.7 210.3L469.9 210.3L471.1 210.3L472.3 210.3L473.5 210.3L474.7 210.3L475.9 210.3L477.1 210.3L478.3 210.4L479.6 210.4L480.8 210.4L482.0 210.4L483.2 210.4L484.1 210.4" fill="none" stroke="#a0bedb" stroke-width="1.0" stroke-linejoin="round"/>
<path d="M363.5 210.9L363.7 210.9L363.9 210.8L364.1 210.8L364.3 210.8L364.4 210.7L364.6 210.7L364.8 210.7L365.0 210.6L365.2 210.6L365.4 210.6L365.6 210.5L365.8 210.5L366.0 210.5L366.1 210.4L366.3 210.4L366.5 210.4L366.7 210.4L366.9 210.3L367.1 210.3L367.3 210.3L367.5 210.2L367.7 210.2L367.8 210.2L368.0 210.2L368.2 210.1L368.4 210.1L368.6 210.1L368.8 210.1L369.0 210.0L369.2 210.0L369.4 210.0L369.5 209.9L369.7 209.9L369.9 209.9L370.1 209.9L370.3 209.8L370.5 209.8L370.7 209.8L370.9 209.8L371.1 209.8L371.8 209.7L372.6 209.6L373.3 209.5L374.1 209.4L374.8 209.3L375.6 209.3L376.3 209.2L377.1 209.1L377.8 209.0L378.6 209.0L379.4 208.9L380.1 208.9L380.9 208.8L381.6 208.8L382.4 208.7L383.1 208.7L383.9 208.6L384.6 208.6L385.4 208.5L386.1 208.5L386.9 208.4L387.7 208.4L388.4 208.4L389.2 208.3L389.9 208.3L390.7 208.2L391.4 208.2L392.2 208.2L392.9 208.2L393.7 208.1L394.5 208.1L395.2 208.1L396.0 208.0L396.7 208.0L397.5 208.0L398.2 208.0L399.0 208.0L399.7 207.9L400.5 207.9L401.2 207.9L402.0 207.9L402.8 207.9L403.5 207.8L404.3 207.8L405.0 207.8L405.8 207.8L406.5 207.8L407.3 207.8L408.0 207.7L408.8 207.7L409.0 207.8L409.2 207.8L409.4 207.8L409.6 207.8L409.8 207.8L410.0 207.8L410.2 207.9L410.4 207.9L410.6 207.9L410.8 207.9L411.2 207.9L411.6 208.0L412.0 208.0L412.4 208.0L412.8 208.1L413.2 208.1L413.6 208.1L414.0 208.2L414.4 208.2L414.8 208.2L415.2 208.3L415.6 208.3L416.0 208.3L416.4 208.3L416.8 208.4L418.0 208.4L419.3 208.5L420.5 208.6L421.7 208.7L422.9 208.7L424.1 208.8L425.3 208.9L426.5 208.9L427.7 209.0L428.9 209.0L430.1 209.1L431.3 209.1L432.5 209.2L433.7 209.2L434.9 209.3L436.1 209.3L437.3 209.3L438.5 209.4L439.8 209.4L441.0 209.4L442.2 209.5L443.4 209.5L444.6 209.5L445.8 209.6L447.0 209.6L448.2 209.6L449.4 209.6L450.6 209.7L451.8 209.7L453.0 209.7L454.2 209.7L455.4 209.7L456.6 209.8L457.8 209.8L459.1 209.8L460.3 209.8L461.5 209.8L462.7 209.8L463.9 209.9L465.1 209.9L466.3 209.9L467.5 209.9L468.7 209.9L469.9 209.9L471.1 209.9L472.3 209.9L473.5 210.0L474.7 210.0L475.9 210.0L477.1 210.0L478.3 210.0L479.6 210.0L480.8 210.0L482.0 210.0L483.2 210.0L484.1 210.0" fill="none" stroke="#7ca2c7" stroke-width="1.0" stroke-linejoin="round"/>
<path d="M363.5 210.9L363.7 210.8L363.9 210.8L364.1 210.7L364.3 210.7L364.4 210.6L364.6 210.6L364.8 210.5L365.0 210.5L365.2 210.4L365.4 210.4L365.6 210.3L365.8 210.3L366.0 210.2L366.1 210.2L366.3 210.1L366.5 210.1L366.7 210.0L366.9 210.0L367.1 209.9L367.3 209.9L367.5 209.8L367.7 209.8L367.8 209.7L368.0 209.7L368.2 209.7L368.4 209.6L368.6 209.6L368.8 209.5L369.0 209.5L369.2 209.4L369.4 209.4L369.5 209.4L369.7 209.3L369.9 209.3L370.1 209.2L370.3 209.2L370.5 209.2L370.7 209.1L370.9 209.1L371.1 209.1L371.8 208.9L372.6 208.8L373.3 208.6L374.1 208.5L374.8 208.4L375.6 208.3L376.3 208.1L377.1 208.0L377.8 207.9L378.6 207.8L379.4 207.7L380.1 207.6L380.9 207.5L381.6 207.4L382.4 207.4L383.1 207.3L383.9 207.2L384.6 207.1L385.4 207.1L386.1 207.0L386.9 206.9L387.7 206.9L388.4 206.8L389.2 206.7L389.9 206.7L390.7 206.6L391.4 206.6L392.2 206.5L392.9 206.5L393.7 206.4L394.5 206.4L395.2 206.3L396.0 206.3L396.7 206.3L397.5 206.2L398.2 206.2L399.0 206.2L399.7 206.1L400.5 206.1L401.2 206.1L402.0 206.0L402.8 206.0L403.5 206.0L404.3 205.9L405.0 205.9L405.8 205.9L406.5 205.9L407.3 205.8L408.0 205.8L408.8 205.8L409.0 205.8L409.2 205.9L409.4 205.9L409.6 205.9L409.8 206.0L410.0 206.0L410.2 206.0L410.4 206.0L410.6 206.1L410.8 206.1L411.2 206.2L411.6 206.2L412.0 206.3L412.4 206.3L412.8 206.4L413.2 206.4L413.6 206.5L414.0 206.5L414.4 206.6L414.8 206.6L415.2 206.7L415.6 206.7L416.0 206.8L416.4 206.8L416.8 206.9L418.0 207.0L419.3 207.1L420.5 207.3L421.7 207.4L422.9 207.5L424.1 207.6L425.3 207.7L426.5 207.8L427.7 207.9L428.9 208.0L430.1 208.1L431.3 208.1L432.5 208.2L433.7 208.3L434.9 208.4L436.1 208.4L437.3 208.5L438.5 208.6L439.8 208.6L441.0 208.7L442.2 208.7L443.4 208.8L444.6 208.8L445.8 208.9L447.0 208.9L448.2 209.0L449.4 209.0L450.6 209.1L451.8 209.1L453.0 209.1L454.2 209.2L455.4 209.2L456.6 209.2L457.8 209.3L459.1 209.3L460.3 209.3L461.5 209.3L462.7 209.4L463.9 209.4L465.1 209.4L466.3 209.4L467.5 209.5L468.7 209.5L469.9 209.5L471.1 209.5L472.3 209.5L473.5 209.5L474.7 209.6L475.9 209.6L477.1 209.6L478.3 209.6L479.6 209.6L480.8 209.6L482.0 209.6L483.2 209.7L484.1 209.7" fill="none" stroke="#5888b4" stroke-width="1.0" stroke-linejoin="round"/>
<path d="M363.5 210.9L363.7 210.8L363.9 210.7L364.1 210.6L364.3 210.5L364.4 210.4L364.6 210.3L364.8 210.2L365.0 210.1L365.2 210.0L365.4 209.9L365.6 209.8L365.8 209.7L366.0 209.6L366.1 209.5L366.3 209.4L366.5 209.4L366.7 209.3L366.9 209.2L367.1 209.1L367.3 209.0L367.5 208.9L367.7 208.8L367.8 208.8L368.0 208.7L368.2 208.6L368.4 208.5L368.6 208.4L368.8 208.4L369.0 208.3L369.2 208.2L369.4 208.1L369.5 208.0L369.7 208.0L369.9 207.9L370.1 207.8L370.3 207.7L370.5 207.7L370.7 207.6L370.9 207.5L371.1 207.5L371.8 207.2L372.6 206.9L373.3 206.7L374.1 206.4L374.8 206.2L375.6 206.0L376.3 205.8L377.1 205.5L377.8 205.3L378.6 205.2L379.4 205.0L380.1 204.8L380.9 204.6L381.6 204.5L382.4 204.3L383.1 204.2L383.9 204.0L384.6 203.9L385.4 203.7L386.1 203.6L386.9 203.5L387.7 203.4L388.4 203.3L389.2 203.1L389.9 203.0L390.7 202.9L391.4 202.8L392.2 202.7L392.9 202.7L393.7 202.6L394.5 202.5L395.2 202.4L396.0 202.3L396.7 202.3L397.5 202.2L398.2 202.1L399.0 202.1L399.7 202.0L400.5 201.9L401.2 201.9L402.0 201.8L402.8 201.8L403.5 201.7L404.3 201.7L405.0 201.6L405.8 201.6L406.5 201.5L407.3 201.5L408.0 201.4L408.8 201.4L409.0 201.5L409.2 201.5L409.4 201.6L409.6 201.7L409.8 201.7L410.0 201.8L410.2 201.8L410.4 201.9L410.6 201.9L410.8 202.0L411.2 202.1L411.6 202.2L412.0 202.3L412.4 202.4L412.8 202.6L413.2 202.7L413.6 202.8L414.0 202.9L414.4 203.0L414.8 203.1L415.2 203.2L415.6 203.3L416.0 203.4L416.4 203.5L416.8 203.5L418.0 203.8L419.3 204.1L420.5 204.3L421.7 204.5L422.9 204.8L424.1 205.0L425.3 205.2L426.5 205.4L427.7 205.6L428.9 205.8L430.1 205.9L431.3 206.1L432.5 206.2L433.7 206.4L434.9 206.5L436.1 206.7L437.3 206.8L438.5 206.9L439.8 207.0L441.0 207.2L442.2 207.3L443.4 207.4L444.6 207.5L445.8 207.6L447.0 207.7L448.2 207.7L449.4 207.8L450.6 207.9L451.8 208.0L453.0 208.1L454.2 208.1L455.4 208.2L456.6 208.3L457.8 208.3L459.1 208.4L460.3 208.4L461.5 208.5L462.7 208.5L463.9 208.6L465.1 208.6L466.3 208.7L467.5 208.7L468.7 208.8L469.9 208.8L471.1 208.8L472.3 208.9L473.5 208.9L474.7 208.9L475.9 209.0L477.1 209.0L478.3 209.0L479.6 209.1L480.8 209.1L482.0 209.1L483.2 209.1L484.1 209.1" fill="none" stroke="#41729f" stroke-width="1.0" stroke-linejoin="round"/>
<path d="M363.5 210.9L363.7 210.7L363.9 210.5L364.1 210.3L364.3 210.1L364.4 209.9L364.6 209.6L364.8 209.4L365.0 209.2L365.2 209.1L365.4 208.9L365.6 208.7L365.8 208.5L366.0 208.3L366.1 208.1L366.3 207.9L366.5 207.7L366.7 207.6L366.9 207.4L367.1 207.2L367.3 207.0L367.5 206.9L367.7 206.7L367.8 206.5L368.0 206.4L368.2 206.2L368.4 206.0L368.6 205.9L368.8 205.7L369.0 205.5L369.2 205.4L369.4 205.2L369.5 205.1L369.7 204.9L369.9 204.8L370.1 204.6L370.3 204.5L370.5 204.3L370.7 204.2L370.9 204.1L371.1 203.9L371.8 203.4L372.6 202.9L373.3 202.4L374.1 201.9L374.8 201.4L375.6 201.0L376.3 200.6L377.1 200.2L377.8 199.8L378.6 199.4L379.4 199.1L380.1 198.7L380.9 198.4L381.6 198.1L382.4 197.8L383.1 197.5L383.9 197.3L384.6 197.0L385.4 196.8L386.1 196.5L386.9 196.3L387.7 196.1L388.4 195.9L389.2 195.7L389.9 195.5L390.7 195.3L391.4 195.1L392.2 195.0L392.9 194.8L393.7 194.7L394.5 194.5L395.2 194.4L396.0 194.2L396.7 194.1L397.5 194.0L398.2 193.9L399.0 193.8L399.7 193.7L400.5 193.6L401.2 193.5L402.0 193.4L402.8 193.3L403.5 193.2L404.3 193.1L405.0 193.0L405.8 193.0L406.5 192.9L407.3 192.8L408.0 192.8L408.8 192.7L409.0 192.8L409.2 192.9L409.4 193.1L409.6 193.2L409.8 193.3L410.0 193.4L410.2 193.5L410.4 193.7L410.6 193.8L410.8 193.9L411.2 194.1L411.6 194.4L412.0 194.6L412.4 194.8L412.8 195.0L413.2 195.2L413.6 195.5L414.0 195.7L414.4 195.9L414.8 196.1L415.2 196.3L415.6 196.5L416.0 196.7L416.4 196.8L416.8 197.0L418.0 197.6L419.3 198.1L420.5 198.6L421.7 199.1L422.9 199.5L424.1 200.0L425.3 200.4L426.5 200.8L427.7 201.2L428.9 201.5L430.1 201.9L431.3 202.2L432.5 202.5L433.7 202.8L434.9 203.1L436.1 203.4L437.3 203.7L438.5 203.9L439.8 204.2L441.0 204.4L442.2 204.6L443.4 204.8L444.6 205.0L445.8 205.2L447.0 205.4L448.2 205.6L449.4 205.8L450.6 205.9L451.8 206.1L453.0 206.2L454.2 206.4L455.4 206.5L456.6 206.6L457.8 206.8L459.1 206.9L460.3 207.0L461.5 207.1L462.7 207.2L463.9 207.3L465.1 207.4L466.3 207.5L467.5 207.6L468.7 207.7L469.9 207.7L471.1 207.8L472.3 207.9L473.5 208.0L474.7 208.0L475.9 208.1L477.1 208.1L478.3 208.2L479.6 208.3L480.8 208.3L482.0 208.4L483.2 208.4L484.1 208.4" fill="none" stroke="#5a7894" stroke-width="1.0" stroke-linejoin="round"/>
<path d="M363.5 210.9L363.7 210.5L363.9 210.0L364.1 209.6L364.3 209.2L364.4 208.7L364.6 208.3L364.8 207.9L365.0 207.5L365.2 207.1L365.4 206.7L365.6 206.3L365.8 206.0L366.0 205.6L366.1 205.2L366.3 204.9L366.5 204.5L366.7 204.1L366.9 203.8L367.1 203.4L367.3 203.1L367.5 202.8L367.7 202.4L367.8 202.1L368.0 201.8L368.2 201.4L368.4 201.1L368.6 200.8L368.8 200.5L369.0 200.2L369.2 199.9L369.4 199.6L369.5 199.3L369.7 199.0L369.9 198.8L370.1 198.5L370.3 198.2L370.5 197.9L370.7 197.7L370.9 197.4L371.1 197.1L371.8 196.1L372.6 195.2L373.3 194.3L374.1 193.4L374.8 192.6L375.6 191.8L376.3 191.1L377.1 190.4L377.8 189.7L378.6 189.1L379.4 188.5L380.1 188.0L380.9 187.4L381.6 186.9L382.4 186.5L383.1 186.0L383.9 185.6L384.6 185.2L385.4 184.8L386.1 184.4L386.9 184.1L387.7 183.8L388.4 183.5L389.2 183.2L389.9 182.9L390.7 182.6L391.4 182.4L392.2 182.1L392.9 181.9L393.7 181.7L394.5 181.5L395.2 181.3L396.0 181.1L396.7 181.0L397.5 180.8L398.2 180.7L399.0 180.5L399.7 180.4L400.5 180.2L401.2 180.1L402.0 180.0L402.8 179.9L403.5 179.8L404.3 179.7L405.0 179.6L405.8 179.5L406.5 179.4L407.3 179.3L408.0 179.3L408.8 179.2L409.0 179.4L409.2 179.6L409.4 179.9L409.6 180.1L409.8 180.3L410.0 180.5L410.2 180.7L410.4 180.9L410.6 181.2L410.8 181.4L411.2 181.8L411.6 182.2L412.0 182.6L412.4 183.0L412.8 183.4L413.2 183.8L413.6 184.1L414.0 184.5L414.4 184.9L414.8 185.2L415.2 185.6L415.6 185.9L416.0 186.3L416.4 186.6L416.8 187.0L418.0 187.9L419.3 188.9L420.5 189.8L421.7 190.6L422.9 191.4L424.1 192.2L425.3 193.0L426.5 193.7L427.7 194.4L428.9 195.0L430.1 195.6L431.3 196.2L432.5 196.8L433.7 197.4L434.9 197.9L436.1 198.4L437.3 198.9L438.5 199.3L439.8 199.7L441.0 200.2L442.2 200.6L443.4 200.9L444.6 201.3L445.8 201.6L447.0 202.0L448.2 202.3L449.4 202.6L450.6 202.9L451.8 203.2L453.0 203.4L454.2 203.7L455.4 203.9L456.6 204.2L457.8 204.4L459.1 204.6L460.3 204.8L461.5 205.0L462.7 205.2L463.9 205.3L465.1 205.5L466.3 205.7L467.5 205.8L468.7 206.0L469.9 206.1L471.1 206.3L472.3 206.4L473.5 206.5L474.7 206.6L475.9 206.7L477.1 206.8L478.3 207.0L479.6 207.1L480.8 207.1L482.0 207.2L483.2 207.3L484.1 207.4" fill="none" stroke="#505050" stroke-width="1.1" stroke-linejoin="round"/>
<path d="M363.5 210.9L363.7 210.2L363.9 209.5L364.1 208.8L364.3 208.1L364.4 207.5L364.6 206.8L364.8 206.2L365.0 205.5L365.2 204.9L365.4 204.3L365.6 203.7L365.8 203.1L366.0 202.5L366.1 201.9L366.3 201.3L366.5 200.7L366.7 200.2L366.9 199.6L367.1 199.1L367.3 198.6L367.5 198.0L367.7 197.5L367.8 197.0L368.0 196.5L368.2 196.0L368.4 195.5L368.6 195.1L368.8 194.6L369.0 194.1L369.2 193.7L369.4 193.2L369.5 192.8L369.7 192.3L369.9 191.9L370.1 191.5L370.3 191.0L370.5 190.6L370.7 190.2L370.9 189.8L371.1 189.4L371.8 187.9L372.6 186.5L373.3 185.1L374.1 183.9L374.8 182.7L375.6 181.5L376.3 180.5L377.1 179.5L377.8 178.5L378.6 177.6L379.4 176.8L380.1 176.0L380.9 175.3L381.6 174.6L382.4 173.9L383.1 173.3L383.9 172.7L384.6 172.2L385.4 171.7L386.1 171.2L386.9 170.7L387.7 170.3L388.4 169.9L389.2 169.5L389.9 169.1L390.7 168.8L391.4 168.5L392.2 168.2L392.9 167.9L393.7 167.6L394.5 167.4L395.2 167.1L396.0 166.9L396.7 166.7L397.5 166.5L398.2 166.3L399.0 166.1L399.7 166.0L400.5 165.8L401.2 165.7L402.0 165.5L402.8 165.4L403.5 165.3L404.3 165.2L405.0 165.1L405.8 165.0L406.5 164.9L407.3 164.8L408.0 164.7L408.8 164.6L409.0 164.9L409.2 165.3L409.4 165.6L409.6 165.9L409.8 166.2L410.0 166.6L410.2 166.9L410.4 167.2L410.6 167.5L410.8 167.8L411.2 168.4L411.6 169.1L412.0 169.6L412.4 170.2L412.8 170.8L413.2 171.4L413.6 172.0L414.0 172.5L414.4 173.1L414.8 173.6L415.2 174.1L415.6 174.6L416.0 175.2L416.4 175.7L416.8 176.2L418.0 177.6L419.3 179.0L420.5 180.3L421.7 181.6L422.9 182.8L424.1 184.0L425.3 185.1L426.5 186.1L427.7 187.2L428.9 188.1L430.1 189.1L431.3 189.9L432.5 190.8L433.7 191.6L434.9 192.4L436.1 193.1L437.3 193.8L438.5 194.5L439.8 195.1L441.0 195.8L442.2 196.4L443.4 196.9L444.6 197.5L445.8 198.0L447.0 198.5L448.2 198.9L449.4 199.4L450.6 199.8L451.8 200.2L453.0 200.6L454.2 201.0L455.4 201.4L456.6 201.7L457.8 202.0L459.1 202.4L460.3 202.7L461.5 202.9L462.7 203.2L463.9 203.5L465.1 203.7L466.3 204.0L467.5 204.2L468.7 204.4L469.9 204.6L471.1 204.8L472.3 205.0L473.5 205.2L474.7 205.4L475.9 205.5L477.1 205.7L478.3 205.9L479.6 206.0L480.8 206.1L482.0 206.3L483.2 206.4L484.1 206.5" fill="none" stroke="#232323" stroke-width="1.3" stroke-linejoin="round"/>
<line x1="27.80" y1="256.70" x2="27.80" y2="329.00" stroke="#9a9a9a" stroke-width="1"/>
<line x1="27.80" y1="328.50" x2="150.60" y2="328.50" stroke="#c8c8c8" stroke-width="1"/>
<line x1="26.00" y1="328.50" x2="27.80" y2="328.50" stroke="#9a9a9a" stroke-width="1"/>
<text x="22.30" y="330.80" font-size="6.5" fill="#2a2a2a" text-anchor="end">0</text>
<line x1="26.00" y1="310.68" x2="27.80" y2="310.68" stroke="#9a9a9a" stroke-width="1"/>
<text x="22.30" y="312.98" font-size="6.5" fill="#2a2a2a" text-anchor="end">50</text>
<line x1="26.00" y1="292.85" x2="27.80" y2="292.85" stroke="#9a9a9a" stroke-width="1"/>
<text x="22.30" y="295.15" font-size="6.5" fill="#2a2a2a" text-anchor="end">100</text>
<line x1="26.00" y1="275.02" x2="27.80" y2="275.02" stroke="#9a9a9a" stroke-width="1"/>
<text x="22.30" y="277.32" font-size="6.5" fill="#2a2a2a" text-anchor="end">150</text>
<line x1="26.00" y1="257.20" x2="27.80" y2="257.20" stroke="#9a9a9a" stroke-width="1"/>
<text x="22.30" y="259.50" font-size="6.5" fill="#2a2a2a" text-anchor="end">200</text>
<line x1="27.80" y1="328.50" x2="27.80" y2="330.30" stroke="#9a9a9a" stroke-width="1"/>
<text x="27.80" y="339.40" font-size="6.5" fill="#2a2a2a" text-anchor="middle">–10</text>
<line x1="68.00" y1="328.50" x2="68.00" y2="330.30" stroke="#9a9a9a" stroke-width="1"/>
<text x="68.00" y="339.40" font-size="6.5" fill="#2a2a2a" text-anchor="middle">90</text>
<line x1="108.20" y1="328.50" x2="108.20" y2="330.30" stroke="#9a9a9a" stroke-width="1"/>
<text x="108.20" y="339.40" font-size="6.5" fill="#2a2a2a" text-anchor="middle">190</text>
<line x1="148.40" y1="328.50" x2="148.40" y2="330.30" stroke="#9a9a9a" stroke-width="1"/>
<text x="148.40" y="339.40" font-size="6.5" fill="#2a2a2a" text-anchor="middle">290</text>
<text x="87.30" y="346.60" font-size="6.6" fill="#2a2a2a" textLength="21.60" lengthAdjust="spacingAndGlyphs" text-anchor="middle">Time (s)</text>
<text transform="translate(8.70,297.60) rotate(-90)" font-size="6.6" fill="#2a2a2a" text-anchor="middle" textLength="55" lengthAdjust="spacingAndGlyphs">Response units (RU)</text>
<text x="19.90" y="246.80" font-size="7.5" fill="#2a2a2a" textLength="76.30" lengthAdjust="spacingAndGlyphs">Binding of scFvF4 to FGFR1</text>
<text x="103.10" y="246.80" font-size="7.5" fill="#2a2a2a" textLength="52.30" lengthAdjust="spacingAndGlyphs"><tspan font-style="italic">K</tspan><tspan font-size="5" dy="1.2">D</tspan><tspan dy="-1.2"> = 1,650 nmol/L</tspan></text>
<path d="M32.5 328.5L32.7 328.5L32.9 328.5L33.1 328.4L33.3 328.4L33.5 328.4L33.7 328.4L33.9 328.3L34.1 328.3L34.3 328.3L34.5 328.3L34.7 328.3L34.9 328.2L35.1 328.2L35.3 328.2L35.5 328.2L35.7 328.2L35.9 328.2L36.1 328.1L36.3 328.1L36.5 328.1L36.7 328.1L36.9 328.1L37.1 328.1L37.3 328.1L37.5 328.0L37.7 328.0L37.9 328.0L38.1 328.0L38.3 328.0L38.5 328.0L38.7 328.0L38.9 328.0L39.1 327.9L39.3 327.9L39.5 327.9L39.7 327.9L39.9 327.9L40.1 327.9L40.3 327.9L40.5 327.9L41.3 327.8L42.1 327.8L42.9 327.8L43.7 327.7L44.5 327.7L45.2 327.7L46.0 327.6L46.8 327.6L47.6 327.6L48.4 327.6L49.2 327.5L50.0 327.5L50.8 327.5L51.6 327.5L52.4 327.5L53.2 327.5L54.0 327.4L54.8 327.4L55.6 327.4L56.4 327.4L57.2 327.4L58.0 327.4L58.8 327.4L59.6 327.3L60.4 327.3L61.2 327.3L62.0 327.3L62.8 327.3L63.6 327.3L64.4 327.3L65.2 327.3L66.0 327.3L66.8 327.2L67.6 327.2L68.3 327.2L69.1 327.2L69.9 327.2L70.7 327.2L71.5 327.2L72.3 327.2L73.1 327.2L73.9 327.2L74.7 327.1L75.5 327.1L76.3 327.1L77.1 327.1L77.9 327.1L78.7 327.1L79.5 327.1L80.3 327.1L80.5 327.1L80.7 327.1L80.9 327.2L81.1 327.2L81.3 327.2L81.5 327.3L81.7 327.3L81.9 327.3L82.1 327.3L82.3 327.3L82.7 327.3L83.1 327.4L83.5 327.4L83.9 327.4L84.3 327.4L84.7 327.4L85.1 327.4L85.5 327.5L85.9 327.5L86.3 327.5L86.7 327.5L87.1 327.5L87.5 327.5L87.9 327.5L88.3 327.5L89.5 327.5L90.8 327.5L92.0 327.6L93.2 327.6L94.4 327.6L95.6 327.6L96.8 327.6L98.0 327.6L99.2 327.6L100.4 327.7L101.6 327.7L102.8 327.7L104.0 327.7L105.2 327.7L106.4 327.7L107.6 327.7L108.8 327.7L110.0 327.7L111.3 327.7L112.5 327.7L113.7 327.7L114.9 327.7L116.1 327.7L117.3 327.7L118.5 327.7L119.7 327.7L120.9 327.7L122.1 327.8L123.3 327.8L124.5 327.8L125.7 327.8L126.9 327.8L128.1 327.8L129.3 327.8L130.6 327.8L131.8 327.8L133.0 327.8L134.2 327.8L135.4 327.8L136.6 327.8L137.8 327.8L139.0 327.8L140.2 327.8L141.4 327.8L142.6 327.8L143.8 327.8L145.0 327.8L146.2 327.8L147.4 327.8L148.6 327.8L149.8 327.8L151.1 327.8L152.3 327.8L152.7 327.8" fill="none" stroke="#c0d5ea" stroke-width="1.0" stroke-linejoin="round"/>
<path d="M32.5 328.5L32.7 328.5L32.9 328.4L33.1 328.4L33.3 328.3L33.5 328.3L33.7 328.3L33.9 328.2L34.1 328.2L34.3 328.2L34.5 328.1L34.7 328.1L34.9 328.1L35.1 328.0L35.3 328.0L35.5 328.0L35.7 327.9L35.9 327.9L36.1 327.9L36.3 327.9L36.5 327.8L36.7 327.8L36.9 327.8L37.1 327.7L37.3 327.7L37.5 327.7L37.7 327.7L37.9 327.7L38.1 327.6L38.3 327.6L38.5 327.6L38.7 327.6L38.9 327.5L39.1 327.5L39.3 327.5L39.5 327.5L39.7 327.5L39.9 327.4L40.1 327.4L40.3 327.4L40.5 327.4L41.3 327.3L42.1 327.3L42.9 327.2L43.7 327.1L44.5 327.1L45.2 327.0L46.0 327.0L46.8 326.9L47.6 326.9L48.4 326.9L49.2 326.8L50.0 326.8L50.8 326.8L51.6 326.7L52.4 326.7L53.2 326.7L54.0 326.7L54.8 326.6L55.6 326.6L56.4 326.6L57.2 326.6L58.0 326.5L58.8 326.5L59.6 326.5L60.4 326.5L61.2 326.4L62.0 326.4L62.8 326.4L63.6 326.4L64.4 326.4L65.2 326.3L66.0 326.3L66.8 326.3L67.6 326.3L68.3 326.3L69.1 326.2L69.9 326.2L70.7 326.2L71.5 326.2L72.3 326.2L73.1 326.2L73.9 326.1L74.7 326.1L75.5 326.1L76.3 326.1L77.1 326.1L77.9 326.1L78.7 326.0L79.5 326.0L80.3 326.0L80.5 326.1L80.7 326.1L80.9 326.2L81.1 326.2L81.3 326.3L81.5 326.3L81.7 326.3L81.9 326.4L82.1 326.4L82.3 326.4L82.7 326.5L83.1 326.5L83.5 326.5L83.9 326.6L84.3 326.6L84.7 326.6L85.1 326.6L85.5 326.6L85.9 326.6L86.3 326.7L86.7 326.7L87.1 326.7L87.5 326.7L87.9 326.7L88.3 326.7L89.5 326.7L90.8 326.8L92.0 326.8L93.2 326.8L94.4 326.8L95.6 326.8L96.8 326.8L98.0 326.9L99.2 326.9L100.4 326.9L101.6 326.9L102.8 326.9L104.0 326.9L105.2 326.9L106.4 326.9L107.6 327.0L108.8 327.0L110.0 327.0L111.3 327.0L112.5 327.0L113.7 327.0L114.9 327.0L116.1 327.0L117.3 327.0L118.5 327.0L119.7 327.0L120.9 327.0L122.1 327.0L123.3 327.0L124.5 327.0L125.7 327.0L126.9 327.0L128.1 327.0L129.3 327.0L130.6 327.0L131.8 327.1L133.0 327.1L134.2 327.1L135.4 327.1L136.6 327.1L137.8 327.1L139.0 327.1L140.2 327.1L141.4 327.1L142.6 327.1L143.8 327.1L145.0 327.1L146.2 327.1L147.4 327.1L148.6 327.1L149.8 327.1L151.1 327.1L152.3 327.1L152.7 327.1" fill="none" stroke="#a0bedb" stroke-width="1.0" stroke-linejoin="round"/>
<path d="M32.5 328.5L32.7 328.4L32.9 328.4L33.1 328.3L33.3 328.2L33.5 328.1L33.7 328.1L33.9 328.0L34.1 328.0L34.3 327.9L34.5 327.8L34.7 327.8L34.9 327.7L35.1 327.7L35.3 327.6L35.5 327.5L35.7 327.5L35.9 327.4L36.1 327.4L36.3 327.3L36.5 327.3L36.7 327.2L36.9 327.2L37.1 327.1L37.3 327.1L37.5 327.1L37.7 327.0L37.9 327.0L38.1 326.9L38.3 326.9L38.5 326.8L38.7 326.8L38.9 326.8L39.1 326.7L39.3 326.7L39.5 326.7L39.7 326.6L39.9 326.6L40.1 326.6L40.3 326.5L40.5 326.5L41.3 326.4L42.1 326.3L42.9 326.1L43.7 326.0L44.5 326.0L45.2 325.9L46.0 325.8L46.8 325.7L47.6 325.6L48.4 325.6L49.2 325.5L50.0 325.4L50.8 325.4L51.6 325.3L52.4 325.3L53.2 325.2L54.0 325.2L54.8 325.1L55.6 325.1L56.4 325.0L57.2 325.0L58.0 325.0L58.8 324.9L59.6 324.9L60.4 324.8L61.2 324.8L62.0 324.8L62.8 324.7L63.6 324.7L64.4 324.6L65.2 324.6L66.0 324.6L66.8 324.5L67.6 324.5L68.3 324.5L69.1 324.4L69.9 324.4L70.7 324.4L71.5 324.4L72.3 324.3L73.1 324.3L73.9 324.3L74.7 324.2L75.5 324.2L76.3 324.2L77.1 324.1L77.9 324.1L78.7 324.1L79.5 324.0L80.3 324.0L80.5 324.1L80.7 324.2L80.9 324.3L81.1 324.4L81.3 324.5L81.5 324.6L81.7 324.6L81.9 324.7L82.1 324.7L82.3 324.8L82.7 324.8L83.1 324.9L83.5 325.0L83.9 325.0L84.3 325.1L84.7 325.1L85.1 325.1L85.5 325.2L85.9 325.2L86.3 325.2L86.7 325.2L87.1 325.2L87.5 325.3L87.9 325.3L88.3 325.3L89.5 325.3L90.8 325.4L92.0 325.4L93.2 325.5L94.4 325.5L95.6 325.5L96.8 325.6L98.0 325.6L99.2 325.6L100.4 325.7L101.6 325.7L102.8 325.7L104.0 325.7L105.2 325.7L106.4 325.8L107.6 325.8L108.8 325.8L110.0 325.8L111.3 325.8L112.5 325.8L113.7 325.8L114.9 325.9L116.1 325.9L117.3 325.9L118.5 325.9L119.7 325.9L120.9 325.9L122.1 325.9L123.3 325.9L124.5 325.9L125.7 325.9L126.9 325.9L128.1 325.9L129.3 325.9L130.6 326.0L131.8 326.0L133.0 326.0L134.2 326.0L135.4 326.0L136.6 326.0L137.8 326.0L139.0 326.0L140.2 326.0L141.4 326.0L142.6 326.0L143.8 326.0L145.0 326.0L146.2 326.0L147.4 326.0L148.6 326.0L149.8 326.0L151.1 326.0L152.3 326.0L152.7 326.0" fill="none" stroke="#7ca2c7" stroke-width="1.0" stroke-linejoin="round"/>
<path d="M32.5 328.5L32.7 328.4L32.9 328.3L33.1 328.2L33.3 328.1L33.5 327.9L33.7 327.8L33.9 327.7L34.1 327.6L34.3 327.5L34.5 327.5L34.7 327.4L34.9 327.3L35.1 327.2L35.3 327.1L35.5 327.0L35.7 326.9L35.9 326.8L36.1 326.8L36.3 326.7L36.5 326.6L36.7 326.5L36.9 326.5L37.1 326.4L37.3 326.3L37.5 326.3L37.7 326.2L37.9 326.1L38.1 326.1L38.3 326.0L38.5 325.9L38.7 325.9L38.9 325.8L39.1 325.8L39.3 325.7L39.5 325.6L39.7 325.6L39.9 325.5L40.1 325.5L40.3 325.4L40.5 325.4L41.3 325.2L42.1 325.0L42.9 324.8L43.7 324.7L44.5 324.5L45.2 324.4L46.0 324.3L46.8 324.2L47.6 324.0L48.4 323.9L49.2 323.8L50.0 323.7L50.8 323.6L51.6 323.6L52.4 323.5L53.2 323.4L54.0 323.3L54.8 323.2L55.6 323.2L56.4 323.1L57.2 323.0L58.0 323.0L58.8 322.9L59.6 322.9L60.4 322.8L61.2 322.7L62.0 322.7L62.8 322.6L63.6 322.6L64.4 322.5L65.2 322.5L66.0 322.4L66.8 322.4L67.6 322.3L68.3 322.2L69.1 322.2L69.9 322.1L70.7 322.1L71.5 322.0L72.3 322.0L73.1 321.9L73.9 321.9L74.7 321.8L75.5 321.8L76.3 321.8L77.1 321.7L77.9 321.7L78.7 321.6L79.5 321.6L80.3 321.5L80.5 321.7L80.7 321.9L80.9 322.0L81.1 322.2L81.3 322.3L81.5 322.4L81.7 322.5L81.9 322.6L82.1 322.7L82.3 322.7L82.7 322.9L83.1 323.0L83.5 323.1L83.9 323.1L84.3 323.2L84.7 323.3L85.1 323.3L85.5 323.4L85.9 323.4L86.3 323.5L86.7 323.5L87.1 323.5L87.5 323.6L87.9 323.6L88.3 323.6L89.5 323.7L90.8 323.8L92.0 323.9L93.2 324.0L94.4 324.0L95.6 324.1L96.8 324.1L98.0 324.2L99.2 324.2L100.4 324.3L101.6 324.3L102.8 324.4L104.0 324.4L105.2 324.4L106.4 324.5L107.6 324.5L108.8 324.5L110.0 324.6L111.3 324.6L112.5 324.6L113.7 324.6L114.9 324.7L116.1 324.7L117.3 324.7L118.5 324.7L119.7 324.7L120.9 324.8L122.1 324.8L123.3 324.8L124.5 324.8L125.7 324.8L126.9 324.8L128.1 324.8L129.3 324.8L130.6 324.8L131.8 324.9L133.0 324.9L134.2 324.9L135.4 324.9L136.6 324.9L137.8 324.9L139.0 324.9L140.2 324.9L141.4 324.9L142.6 324.9L143.8 324.9L145.0 324.9L146.2 324.9L147.4 324.9L148.6 324.9L149.8 324.9L151.1 324.9L152.3 324.9L152.7 324.9" fill="none" stroke="#5888b4" stroke-width="1.0" stroke-linejoin="round"/>
<path d="M32.5 328.5L32.7 328.3L32.9 328.1L33.1 327.9L33.3 327.7L33.5 327.5L33.7 327.3L33.9 327.1L34.1 326.9L34.3 326.8L34.5 326.6L34.7 326.4L34.9 326.3L35.1 326.1L35.3 325.9L35.5 325.8L35.7 325.6L35.9 325.5L36.1 325.3L36.3 325.2L36.5 325.1L36.7 324.9L36.9 324.8L37.1 324.7L37.3 324.5L37.5 324.4L37.7 324.3L37.9 324.2L38.1 324.0L38.3 323.9L38.5 323.8L38.7 323.7L38.9 323.6L39.1 323.5L39.3 323.4L39.5 323.3L39.7 323.2L39.9 323.1L40.1 323.0L40.3 322.9L40.5 322.8L41.3 322.4L42.1 322.1L42.9 321.8L43.7 321.5L44.5 321.3L45.2 321.0L46.0 320.8L46.8 320.6L47.6 320.4L48.4 320.2L49.2 320.0L50.0 319.8L50.8 319.6L51.6 319.5L52.4 319.3L53.2 319.2L54.0 319.0L54.8 318.9L55.6 318.8L56.4 318.7L57.2 318.5L58.0 318.4L58.8 318.3L59.6 318.2L60.4 318.1L61.2 318.0L62.0 317.9L62.8 317.8L63.6 317.7L64.4 317.6L65.2 317.5L66.0 317.4L66.8 317.3L67.6 317.2L68.3 317.1L69.1 317.0L69.9 316.9L70.7 316.8L71.5 316.7L72.3 316.6L73.1 316.5L73.9 316.4L74.7 316.4L75.5 316.3L76.3 316.2L77.1 316.1L77.9 316.0L78.7 315.9L79.5 315.8L80.3 315.7L80.5 316.1L80.7 316.4L80.9 316.7L81.1 317.0L81.3 317.2L81.5 317.4L81.7 317.6L81.9 317.8L82.1 317.9L82.3 318.1L82.7 318.4L83.1 318.6L83.5 318.8L83.9 318.9L84.3 319.1L84.7 319.2L85.1 319.3L85.5 319.5L85.9 319.6L86.3 319.7L86.7 319.8L87.1 319.8L87.5 319.9L87.9 320.0L88.3 320.1L89.5 320.3L90.8 320.5L92.0 320.7L93.2 320.9L94.4 321.0L95.6 321.2L96.8 321.3L98.0 321.5L99.2 321.6L100.4 321.7L101.6 321.8L102.8 321.9L104.0 322.0L105.2 322.1L106.4 322.2L107.6 322.2L108.8 322.3L110.0 322.4L111.3 322.5L112.5 322.5L113.7 322.6L114.9 322.6L116.1 322.7L117.3 322.7L118.5 322.8L119.7 322.8L120.9 322.8L122.1 322.9L123.3 322.9L124.5 322.9L125.7 323.0L126.9 323.0L128.1 323.0L129.3 323.0L130.6 323.1L131.8 323.1L133.0 323.1L134.2 323.1L135.4 323.1L136.6 323.2L137.8 323.2L139.0 323.2L140.2 323.2L141.4 323.2L142.6 323.2L143.8 323.2L145.0 323.2L146.2 323.3L147.4 323.3L148.6 323.3L149.8 323.3L151.1 323.3L152.3 323.3L152.7 323.3" fill="none" stroke="#41729f" stroke-width="1.0" stroke-linejoin="round"/>
<line x1="80.30" y1="314.24" x2="80.30" y2="316.24" stroke="#41729f" stroke-width="1.1"/>
<path d="M32.5 328.5L32.7 328.0L32.9 327.6L33.1 327.1L33.3 326.7L33.5 326.3L33.7 325.9L33.9 325.5L34.1 325.1L34.3 324.7L34.5 324.3L34.7 324.0L34.9 323.6L35.1 323.3L35.3 323.0L35.5 322.6L35.7 322.3L35.9 322.0L36.1 321.7L36.3 321.4L36.5 321.2L36.7 320.9L36.9 320.6L37.1 320.4L37.3 320.1L37.5 319.9L37.7 319.6L37.9 319.4L38.1 319.2L38.3 318.9L38.5 318.7L38.7 318.5L38.9 318.3L39.1 318.1L39.3 317.9L39.5 317.7L39.7 317.5L39.9 317.4L40.1 317.2L40.3 317.0L40.5 316.8L41.3 316.2L42.1 315.6L42.9 315.1L43.7 314.6L44.5 314.2L45.2 313.8L46.0 313.4L46.8 313.0L47.6 312.7L48.4 312.4L49.2 312.1L50.0 311.8L50.8 311.6L51.6 311.4L52.4 311.1L53.2 310.9L54.0 310.7L54.8 310.5L55.6 310.3L56.4 310.1L57.2 310.0L58.0 309.8L58.8 309.6L59.6 309.4L60.4 309.3L61.2 309.1L62.0 309.0L62.8 308.8L63.6 308.7L64.4 308.5L65.2 308.4L66.0 308.2L66.8 308.1L67.6 307.9L68.3 307.8L69.1 307.7L69.9 307.5L70.7 307.4L71.5 307.2L72.3 307.1L73.1 307.0L73.9 306.8L74.7 306.7L75.5 306.6L76.3 306.4L77.1 306.3L77.9 306.2L78.7 306.0L79.5 305.9L80.3 305.8L80.5 306.4L80.7 307.0L80.9 307.5L81.1 308.0L81.3 308.4L81.5 308.8L81.7 309.2L81.9 309.5L82.1 309.8L82.3 310.1L82.7 310.6L83.1 311.0L83.5 311.4L83.9 311.7L84.3 312.0L84.7 312.3L85.1 312.5L85.5 312.7L85.9 312.9L86.3 313.1L86.7 313.3L87.1 313.5L87.5 313.7L87.9 313.8L88.3 314.0L89.5 314.4L90.8 314.8L92.0 315.2L93.2 315.6L94.4 315.9L95.6 316.2L96.8 316.5L98.0 316.8L99.2 317.0L100.4 317.2L101.6 317.5L102.8 317.7L104.0 317.9L105.2 318.1L106.4 318.2L107.6 318.4L108.8 318.5L110.0 318.7L111.3 318.8L112.5 318.9L113.7 319.0L114.9 319.1L116.1 319.2L117.3 319.3L118.5 319.4L119.7 319.5L120.9 319.6L122.1 319.7L123.3 319.7L124.5 319.8L125.7 319.8L126.9 319.9L128.1 320.0L129.3 320.0L130.6 320.0L131.8 320.1L133.0 320.1L134.2 320.2L135.4 320.2L136.6 320.2L137.8 320.3L139.0 320.3L140.2 320.3L141.4 320.3L142.6 320.4L143.8 320.4L145.0 320.4L146.2 320.4L147.4 320.4L148.6 320.5L149.8 320.5L151.1 320.5L152.3 320.5L152.7 320.5" fill="none" stroke="#5a7894" stroke-width="1.0" stroke-linejoin="round"/>
<line x1="80.30" y1="304.26" x2="80.30" y2="306.26" stroke="#5a7894" stroke-width="1.1"/>
<path d="M32.5 328.5L32.7 327.8L32.9 327.1L33.1 326.5L33.3 325.8L33.5 325.2L33.7 324.6L33.9 324.0L34.1 323.4L34.3 322.8L34.5 322.2L34.7 321.7L34.9 321.1L35.1 320.6L35.3 320.1L35.5 319.6L35.7 319.1L35.9 318.6L36.1 318.2L36.3 317.7L36.5 317.3L36.7 316.8L36.9 316.4L37.1 316.0L37.3 315.6L37.5 315.2L37.7 314.8L37.9 314.4L38.1 314.0L38.3 313.7L38.5 313.3L38.7 313.0L38.9 312.6L39.1 312.3L39.3 312.0L39.5 311.6L39.7 311.3L39.9 311.0L40.1 310.7L40.3 310.4L40.5 310.1L41.3 309.1L42.1 308.1L42.9 307.2L43.7 306.3L44.5 305.5L45.2 304.8L46.0 304.2L46.8 303.6L47.6 303.0L48.4 302.5L49.2 302.0L50.0 301.5L50.8 301.1L51.6 300.7L52.4 300.3L53.2 299.9L54.0 299.6L54.8 299.3L55.6 299.0L56.4 298.7L57.2 298.4L58.0 298.2L58.8 297.9L59.6 297.7L60.4 297.4L61.2 297.2L62.0 297.0L62.8 296.8L63.6 296.6L64.4 296.4L65.2 296.2L66.0 296.0L66.8 295.8L67.6 295.6L68.3 295.4L69.1 295.3L69.9 295.1L70.7 294.9L71.5 294.8L72.3 294.6L73.1 294.4L73.9 294.3L74.7 294.1L75.5 293.9L76.3 293.8L77.1 293.6L77.9 293.5L78.7 293.3L79.5 293.1L80.3 293.0L80.5 294.1L80.7 295.1L80.9 296.0L81.1 296.8L81.3 297.5L81.5 298.2L81.7 298.8L81.9 299.4L82.1 299.9L82.3 300.3L82.7 301.2L83.1 301.9L83.5 302.5L83.9 303.1L84.3 303.5L84.7 304.0L85.1 304.4L85.5 304.8L85.9 305.1L86.3 305.4L86.7 305.7L87.1 306.0L87.5 306.3L87.9 306.6L88.3 306.8L89.5 307.6L90.8 308.2L92.0 308.9L93.2 309.5L94.4 310.0L95.6 310.5L96.8 311.0L98.0 311.4L99.2 311.8L100.4 312.2L101.6 312.6L102.8 312.9L104.0 313.2L105.2 313.5L106.4 313.8L107.6 314.1L108.8 314.3L110.0 314.6L111.3 314.8L112.5 315.0L113.7 315.2L114.9 315.3L116.1 315.5L117.3 315.7L118.5 315.8L119.7 315.9L120.9 316.1L122.1 316.2L123.3 316.3L124.5 316.4L125.7 316.5L126.9 316.6L128.1 316.7L129.3 316.7L130.6 316.8L131.8 316.9L133.0 317.0L134.2 317.0L135.4 317.1L136.6 317.1L137.8 317.2L139.0 317.2L140.2 317.3L141.4 317.3L142.6 317.4L143.8 317.4L145.0 317.4L146.2 317.5L147.4 317.5L148.6 317.5L149.8 317.5L151.1 317.6L152.3 317.6L152.7 317.6" fill="none" stroke="#505050" stroke-width="1.1" stroke-linejoin="round"/>
<line x1="80.30" y1="290.59" x2="80.30" y2="293.49" stroke="#505050" stroke-width="1.2100000000000002"/>
<path d="M32.5 328.5L32.7 326.7L32.9 325.0L33.1 323.3L33.3 321.8L33.5 320.3L33.7 318.8L33.9 317.4L34.1 316.1L34.3 314.8L34.5 313.6L34.7 312.4L34.9 311.3L35.1 310.2L35.3 309.1L35.5 308.1L35.7 307.2L35.9 306.3L36.1 305.4L36.3 304.5L36.5 303.7L36.7 302.9L36.9 302.2L37.1 301.5L37.3 300.8L37.5 300.1L37.7 299.5L37.9 298.9L38.1 298.3L38.3 297.8L38.5 297.2L38.7 296.7L38.9 296.2L39.1 295.7L39.3 295.3L39.5 294.9L39.7 294.4L39.9 294.0L40.1 293.6L40.3 293.3L40.5 292.9L41.3 291.6L42.1 290.5L42.9 289.6L43.7 288.8L44.5 288.1L45.2 287.5L46.0 286.9L46.8 286.5L47.6 286.1L48.4 285.8L49.2 285.5L50.0 285.2L50.8 285.0L51.6 284.7L52.4 284.6L53.2 284.4L54.0 284.2L54.8 284.1L55.6 283.9L56.4 283.8L57.2 283.7L58.0 283.6L58.8 283.5L59.6 283.4L60.4 283.3L61.2 283.2L62.0 283.1L62.8 283.0L63.6 282.9L64.4 282.8L65.2 282.7L66.0 282.6L66.8 282.6L67.6 282.5L68.3 282.4L69.1 282.3L69.9 282.2L70.7 282.1L71.5 282.1L72.3 282.0L73.1 281.9L73.9 281.8L74.7 281.7L75.5 281.7L76.3 281.6L77.1 281.5L77.9 281.4L78.7 281.4L79.5 281.3L80.3 281.2L80.5 282.8L80.7 284.3L80.9 285.7L81.1 286.9L81.3 288.0L81.5 289.0L81.7 289.9L81.9 290.7L82.1 291.5L82.3 292.2L82.7 293.4L83.1 294.5L83.5 295.4L83.9 296.2L84.3 296.9L84.7 297.5L85.1 298.1L85.5 298.6L85.9 299.1L86.3 299.6L86.7 300.1L87.1 300.5L87.5 300.9L87.9 301.3L88.3 301.6L89.5 302.7L90.8 303.6L92.0 304.5L93.2 305.4L94.4 306.1L95.6 306.9L96.8 307.5L98.0 308.2L99.2 308.8L100.4 309.3L101.6 309.8L102.8 310.3L104.0 310.8L105.2 311.2L106.4 311.6L107.6 312.0L108.8 312.3L110.0 312.7L111.3 313.0L112.5 313.2L113.7 313.5L114.9 313.8L116.1 314.0L117.3 314.2L118.5 314.4L119.7 314.6L120.9 314.8L122.1 315.0L123.3 315.1L124.5 315.3L125.7 315.4L126.9 315.5L128.1 315.7L129.3 315.8L130.6 315.9L131.8 316.0L133.0 316.1L134.2 316.2L135.4 316.3L136.6 316.3L137.8 316.4L139.0 316.5L140.2 316.5L141.4 316.6L142.6 316.6L143.8 316.7L145.0 316.7L146.2 316.8L147.4 316.8L148.6 316.9L149.8 316.9L151.1 316.9L152.3 317.0L152.7 317.0" fill="none" stroke="#232323" stroke-width="1.3" stroke-linejoin="round"/>
<line x1="80.30" y1="278.59" x2="80.30" y2="281.69" stroke="#232323" stroke-width="1.4300000000000002"/>
<line x1="192.60" y1="259.00" x2="192.60" y2="330.70" stroke="#9a9a9a" stroke-width="1"/>
<line x1="192.60" y1="330.20" x2="315.40" y2="330.20" stroke="#c8c8c8" stroke-width="1"/>
<line x1="190.80" y1="330.20" x2="192.60" y2="330.20" stroke="#9a9a9a" stroke-width="1"/>
<text x="187.10" y="332.50" font-size="6.5" fill="#2a2a2a" text-anchor="end">0</text>
<line x1="190.80" y1="312.52" x2="192.60" y2="312.52" stroke="#9a9a9a" stroke-width="1"/>
<text x="187.10" y="314.82" font-size="6.5" fill="#2a2a2a" text-anchor="end">50</text>
<line x1="190.80" y1="294.85" x2="192.60" y2="294.85" stroke="#9a9a9a" stroke-width="1"/>
<text x="187.10" y="297.15" font-size="6.5" fill="#2a2a2a" text-anchor="end">100</text>
<line x1="190.80" y1="277.18" x2="192.60" y2="277.18" stroke="#9a9a9a" stroke-width="1"/>
<text x="187.10" y="279.48" font-size="6.5" fill="#2a2a2a" text-anchor="end">150</text>
<line x1="190.80" y1="259.50" x2="192.60" y2="259.50" stroke="#9a9a9a" stroke-width="1"/>
<text x="187.10" y="261.80" font-size="6.5" fill="#2a2a2a" text-anchor="end">200</text>
<line x1="192.60" y1="330.20" x2="192.60" y2="332.00" stroke="#9a9a9a" stroke-width="1"/>
<text x="192.60" y="341.10" font-size="6.5" fill="#2a2a2a" text-anchor="middle">–10</text>
<line x1="232.80" y1="330.20" x2="232.80" y2="332.00" stroke="#9a9a9a" stroke-width="1"/>
<text x="232.80" y="341.10" font-size="6.5" fill="#2a2a2a" text-anchor="middle">90</text>
<line x1="273.00" y1="330.20" x2="273.00" y2="332.00" stroke="#9a9a9a" stroke-width="1"/>
<text x="273.00" y="341.10" font-size="6.5" fill="#2a2a2a" text-anchor="middle">190</text>
<line x1="313.20" y1="330.20" x2="313.20" y2="332.00" stroke="#9a9a9a" stroke-width="1"/>
<text x="313.20" y="341.10" font-size="6.5" fill="#2a2a2a" text-anchor="middle">290</text>
<text x="252.10" y="348.30" font-size="6.6" fill="#2a2a2a" textLength="21.60" lengthAdjust="spacingAndGlyphs" text-anchor="middle">Time (s)</text>
<text transform="translate(173.70,296.00) rotate(-90)" font-size="6.6" fill="#2a2a2a" text-anchor="middle" textLength="55" lengthAdjust="spacingAndGlyphs">Response units (RU)</text>
<text x="184.10" y="248.40" font-size="7.5" fill="#2a2a2a" textLength="77.40" lengthAdjust="spacingAndGlyphs">Binding of scFvC1 to FGFR1</text>
<text x="271.50" y="248.40" font-size="7.5" fill="#2a2a2a" textLength="46.70" lengthAdjust="spacingAndGlyphs"><tspan font-style="italic">K</tspan><tspan font-size="5" dy="1.2">D</tspan><tspan dy="-1.2"> = 112 nmol/L</tspan></text>
<path d="M197.5 330.2L197.7 330.2L197.9 330.2L198.1 330.1L198.3 330.1L198.5 330.1L198.7 330.1L198.9 330.1L199.1 330.1L199.3 330.0L199.5 330.0L199.7 330.0L199.9 330.0L200.1 330.0L200.3 329.9L200.5 329.9L200.7 329.9L200.9 329.9L201.1 329.9L201.3 329.9L201.5 329.8L201.7 329.8L201.9 329.8L202.1 329.8L202.2 329.8L202.4 329.8L202.6 329.7L202.8 329.7L203.0 329.7L203.2 329.7L203.4 329.7L203.6 329.7L203.8 329.7L204.0 329.6L204.2 329.6L204.4 329.6L204.6 329.6L204.8 329.6L205.0 329.6L205.2 329.6L205.4 329.5L206.2 329.5L207.0 329.4L207.8 329.4L208.6 329.3L209.4 329.3L210.2 329.2L211.0 329.2L211.8 329.1L212.5 329.1L213.3 329.1L214.1 329.0L214.9 329.0L215.7 328.9L216.5 328.9L217.3 328.9L218.1 328.8L218.9 328.8L219.7 328.8L220.5 328.7L221.2 328.7L222.0 328.7L222.8 328.6L223.6 328.6L224.4 328.6L225.2 328.5L226.0 328.5L226.8 328.5L227.6 328.5L228.4 328.4L229.2 328.4L230.0 328.4L230.8 328.4L231.5 328.4L232.3 328.3L233.1 328.3L233.9 328.3L234.7 328.3L235.5 328.3L236.3 328.2L237.1 328.2L237.9 328.2L238.7 328.2L239.5 328.2L240.2 328.2L241.0 328.1L241.8 328.1L242.6 328.1L243.4 328.1L244.2 328.1L245.0 328.1L245.2 328.1L245.4 328.1L245.6 328.1L245.8 328.1L246.0 328.1L246.2 328.1L246.4 328.1L246.6 328.1L246.8 328.1L247.0 328.2L247.4 328.2L247.8 328.2L248.2 328.2L248.6 328.2L249.0 328.2L249.4 328.2L249.8 328.3L250.2 328.3L250.6 328.3L251.0 328.3L251.4 328.3L251.8 328.3L252.2 328.3L252.6 328.4L253.0 328.4L254.2 328.4L255.5 328.4L256.7 328.5L257.9 328.5L259.1 328.6L260.3 328.6L261.5 328.6L262.7 328.7L263.9 328.7L265.1 328.7L266.3 328.7L267.5 328.8L268.7 328.8L269.9 328.8L271.1 328.9L272.3 328.9L273.5 328.9L274.7 328.9L276.0 329.0L277.2 329.0L278.4 329.0L279.6 329.0L280.8 329.0L282.0 329.1L283.2 329.1L284.4 329.1L285.6 329.1L286.8 329.1L288.0 329.2L289.2 329.2L290.4 329.2L291.6 329.2L292.8 329.2L294.0 329.2L295.2 329.3L296.5 329.3L297.7 329.3L298.9 329.3L300.1 329.3L301.3 329.3L302.5 329.4L303.7 329.4L304.9 329.4L306.1 329.4L307.3 329.4L308.5 329.4L309.7 329.4L310.9 329.4L312.1 329.4L313.3 329.5L314.5 329.5L315.8 329.5L317.0 329.5L318.0 329.5" fill="none" stroke="#c0d5ea" stroke-width="1.0" stroke-linejoin="round"/>
<path d="M197.5 330.2L197.7 330.2L197.9 330.1L198.1 330.1L198.3 330.0L198.5 330.0L198.7 330.0L198.9 329.9L199.1 329.9L199.3 329.9L199.5 329.8L199.7 329.8L199.9 329.8L200.1 329.7L200.3 329.7L200.5 329.7L200.7 329.6L200.9 329.6L201.1 329.6L201.3 329.5L201.5 329.5L201.7 329.5L201.9 329.4L202.1 329.4L202.2 329.4L202.4 329.3L202.6 329.3L202.8 329.3L203.0 329.2L203.2 329.2L203.4 329.2L203.6 329.1L203.8 329.1L204.0 329.1L204.2 329.1L204.4 329.0L204.6 329.0L204.8 329.0L205.0 328.9L205.2 328.9L205.4 328.9L206.2 328.8L207.0 328.7L207.8 328.6L208.6 328.5L209.4 328.4L210.2 328.3L211.0 328.2L211.8 328.1L212.5 328.0L213.3 327.9L214.1 327.8L214.9 327.7L215.7 327.7L216.5 327.6L217.3 327.5L218.1 327.4L218.9 327.4L219.7 327.3L220.5 327.2L221.2 327.2L222.0 327.1L222.8 327.1L223.6 327.0L224.4 327.0L225.2 326.9L226.0 326.8L226.8 326.8L227.6 326.7L228.4 326.7L229.2 326.6L230.0 326.6L230.8 326.6L231.5 326.5L232.3 326.5L233.1 326.4L233.9 326.4L234.7 326.4L235.5 326.3L236.3 326.3L237.1 326.3L237.9 326.2L238.7 326.2L239.5 326.2L240.2 326.1L241.0 326.1L241.8 326.1L242.6 326.0L243.4 326.0L244.2 326.0L245.0 326.0L245.2 326.0L245.4 326.0L245.6 326.0L245.8 326.0L246.0 326.0L246.2 326.1L246.4 326.1L246.6 326.1L246.8 326.1L247.0 326.1L247.4 326.2L247.8 326.2L248.2 326.2L248.6 326.3L249.0 326.3L249.4 326.3L249.8 326.4L250.2 326.4L250.6 326.4L251.0 326.5L251.4 326.5L251.8 326.5L252.2 326.5L252.6 326.6L253.0 326.6L254.2 326.7L255.5 326.8L256.7 326.9L257.9 326.9L259.1 327.0L260.3 327.1L261.5 327.2L262.7 327.3L263.9 327.3L265.1 327.4L266.3 327.5L267.5 327.5L268.7 327.6L269.9 327.6L271.1 327.7L272.3 327.8L273.5 327.8L274.7 327.9L276.0 327.9L277.2 328.0L278.4 328.0L279.6 328.1L280.8 328.1L282.0 328.2L283.2 328.2L284.4 328.3L285.6 328.3L286.8 328.4L288.0 328.4L289.2 328.4L290.4 328.5L291.6 328.5L292.8 328.6L294.0 328.6L295.2 328.6L296.5 328.7L297.7 328.7L298.9 328.7L300.1 328.8L301.3 328.8L302.5 328.8L303.7 328.8L304.9 328.9L306.1 328.9L307.3 328.9L308.5 329.0L309.7 329.0L310.9 329.0L312.1 329.0L313.3 329.1L314.5 329.1L315.8 329.1L317.0 329.1L318.0 329.1" fill="none" stroke="#a0bedb" stroke-width="1.0" stroke-linejoin="round"/>
<path d="M197.5 330.2L197.7 330.1L197.9 330.1L198.1 330.0L198.3 330.0L198.5 329.9L198.7 329.8L198.9 329.8L199.1 329.7L199.3 329.7L199.5 329.6L199.7 329.5L199.9 329.5L200.1 329.4L200.3 329.4L200.5 329.3L200.7 329.3L200.9 329.2L201.1 329.1L201.3 329.1L201.5 329.0L201.7 329.0L201.9 328.9L202.1 328.9L202.2 328.8L202.4 328.8L202.6 328.7L202.8 328.7L203.0 328.6L203.2 328.6L203.4 328.5L203.6 328.5L203.8 328.4L204.0 328.4L204.2 328.3L204.4 328.3L204.6 328.2L204.8 328.2L205.0 328.1L205.2 328.1L205.4 328.0L206.2 327.8L207.0 327.7L207.8 327.5L208.6 327.3L209.4 327.2L210.2 327.0L211.0 326.8L211.8 326.7L212.5 326.6L213.3 326.4L214.1 326.3L214.9 326.1L215.7 326.0L216.5 325.9L217.3 325.8L218.1 325.7L218.9 325.5L219.7 325.4L220.5 325.3L221.2 325.2L222.0 325.1L222.8 325.0L223.6 324.9L224.4 324.8L225.2 324.7L226.0 324.7L226.8 324.6L227.6 324.5L228.4 324.4L229.2 324.3L230.0 324.3L230.8 324.2L231.5 324.1L232.3 324.1L233.1 324.0L233.9 323.9L234.7 323.9L235.5 323.8L236.3 323.7L237.1 323.7L237.9 323.6L238.7 323.6L239.5 323.5L240.2 323.5L241.0 323.4L241.8 323.4L242.6 323.3L243.4 323.3L244.2 323.2L245.0 323.2L245.2 323.2L245.4 323.3L245.6 323.3L245.8 323.3L246.0 323.3L246.2 323.4L246.4 323.4L246.6 323.4L246.8 323.5L247.0 323.5L247.4 323.5L247.8 323.6L248.2 323.7L248.6 323.7L249.0 323.8L249.4 323.8L249.8 323.9L250.2 323.9L250.6 324.0L251.0 324.0L251.4 324.1L251.8 324.1L252.2 324.2L252.6 324.2L253.0 324.3L254.2 324.4L255.5 324.6L256.7 324.7L257.9 324.8L259.1 325.0L260.3 325.1L261.5 325.2L262.7 325.3L263.9 325.4L265.1 325.6L266.3 325.7L267.5 325.8L268.7 325.9L269.9 326.0L271.1 326.1L272.3 326.2L273.5 326.3L274.7 326.4L276.0 326.5L277.2 326.5L278.4 326.6L279.6 326.7L280.8 326.8L282.0 326.9L283.2 326.9L284.4 327.0L285.6 327.1L286.8 327.2L288.0 327.2L289.2 327.3L290.4 327.3L291.6 327.4L292.8 327.5L294.0 327.5L295.2 327.6L296.5 327.6L297.7 327.7L298.9 327.8L300.1 327.8L301.3 327.9L302.5 327.9L303.7 328.0L304.9 328.0L306.1 328.0L307.3 328.1L308.5 328.1L309.7 328.2L310.9 328.2L312.1 328.3L313.3 328.3L314.5 328.3L315.8 328.4L317.0 328.4L318.0 328.4" fill="none" stroke="#7ca2c7" stroke-width="1.0" stroke-linejoin="round"/>
<path d="M197.5 330.2L197.7 330.1L197.9 329.9L198.1 329.8L198.3 329.7L198.5 329.5L198.7 329.4L198.9 329.3L199.1 329.2L199.3 329.0L199.5 328.9L199.7 328.8L199.9 328.7L200.1 328.5L200.3 328.4L200.5 328.3L200.7 328.2L200.9 328.1L201.1 327.9L201.3 327.8L201.5 327.7L201.7 327.6L201.9 327.5L202.1 327.4L202.2 327.2L202.4 327.1L202.6 327.0L202.8 326.9L203.0 326.8L203.2 326.7L203.4 326.6L203.6 326.5L203.8 326.4L204.0 326.3L204.2 326.2L204.4 326.1L204.6 326.0L204.8 325.9L205.0 325.8L205.2 325.7L205.4 325.6L206.2 325.2L207.0 324.8L207.8 324.4L208.6 324.1L209.4 323.8L210.2 323.4L211.0 323.1L211.8 322.8L212.5 322.5L213.3 322.2L214.1 321.9L214.9 321.7L215.7 321.4L216.5 321.1L217.3 320.9L218.1 320.7L218.9 320.4L219.7 320.2L220.5 320.0L221.2 319.8L222.0 319.6L222.8 319.4L223.6 319.2L224.4 319.0L225.2 318.8L226.0 318.6L226.8 318.5L227.6 318.3L228.4 318.2L229.2 318.0L230.0 317.9L230.8 317.7L231.5 317.6L232.3 317.4L233.1 317.3L233.9 317.2L234.7 317.1L235.5 316.9L236.3 316.8L237.1 316.7L237.9 316.6L238.7 316.5L239.5 316.4L240.2 316.3L241.0 316.2L241.8 316.1L242.6 316.0L243.4 315.9L244.2 315.9L245.0 315.8L245.2 315.8L245.4 315.9L245.6 316.0L245.8 316.0L246.0 316.1L246.2 316.2L246.4 316.2L246.6 316.3L246.8 316.4L247.0 316.4L247.4 316.6L247.8 316.7L248.2 316.8L248.6 316.9L249.0 317.1L249.4 317.2L249.8 317.3L250.2 317.4L250.6 317.5L251.0 317.7L251.4 317.8L251.8 317.9L252.2 318.0L252.6 318.1L253.0 318.2L254.2 318.6L255.5 318.9L256.7 319.2L257.9 319.5L259.1 319.8L260.3 320.1L261.5 320.4L262.7 320.6L263.9 320.9L265.1 321.2L266.3 321.4L267.5 321.7L268.7 321.9L269.9 322.1L271.1 322.4L272.3 322.6L273.5 322.8L274.7 323.0L276.0 323.2L277.2 323.4L278.4 323.6L279.6 323.8L280.8 324.0L282.0 324.1L283.2 324.3L284.4 324.5L285.6 324.6L286.8 324.8L288.0 325.0L289.2 325.1L290.4 325.3L291.6 325.4L292.8 325.5L294.0 325.7L295.2 325.8L296.5 325.9L297.7 326.1L298.9 326.2L300.1 326.3L301.3 326.4L302.5 326.5L303.7 326.6L304.9 326.7L306.1 326.8L307.3 326.9L308.5 327.0L309.7 327.1L310.9 327.2L312.1 327.3L313.3 327.4L314.5 327.5L315.8 327.6L317.0 327.7L318.0 327.7" fill="none" stroke="#5888b4" stroke-width="1.0" stroke-linejoin="round"/>
<path d="M197.5 330.2L197.7 329.9L197.9 329.6L198.1 329.3L198.3 329.0L198.5 328.7L198.7 328.4L198.9 328.1L199.1 327.8L199.3 327.5L199.5 327.3L199.7 327.0L199.9 326.7L200.1 326.4L200.3 326.2L200.5 325.9L200.7 325.6L200.9 325.4L201.1 325.1L201.3 324.9L201.5 324.6L201.7 324.4L201.9 324.1L202.1 323.9L202.2 323.6L202.4 323.4L202.6 323.1L202.8 322.9L203.0 322.7L203.2 322.4L203.4 322.2L203.6 322.0L203.8 321.7L204.0 321.5L204.2 321.3L204.4 321.1L204.6 320.9L204.8 320.7L205.0 320.4L205.2 320.2L205.4 320.0L206.2 319.2L207.0 318.4L207.8 317.7L208.6 317.0L209.4 316.3L210.2 315.6L211.0 315.0L211.8 314.4L212.5 313.8L213.3 313.2L214.1 312.7L214.9 312.1L215.7 311.6L216.5 311.2L217.3 310.7L218.1 310.2L218.9 309.8L219.7 309.4L220.5 309.0L221.2 308.6L222.0 308.3L222.8 307.9L223.6 307.6L224.4 307.3L225.2 306.9L226.0 306.6L226.8 306.4L227.6 306.1L228.4 305.8L229.2 305.6L230.0 305.3L230.8 305.1L231.5 304.9L232.3 304.6L233.1 304.4L233.9 304.2L234.7 304.0L235.5 303.9L236.3 303.7L237.1 303.5L237.9 303.3L238.7 303.2L239.5 303.0L240.2 302.9L241.0 302.8L241.8 302.6L242.6 302.5L243.4 302.4L244.2 302.2L245.0 302.1L245.2 302.3L245.4 302.4L245.6 302.5L245.8 302.7L246.0 302.8L246.2 302.9L246.4 303.0L246.6 303.2L246.8 303.3L247.0 303.4L247.4 303.7L247.8 303.9L248.2 304.2L248.6 304.4L249.0 304.7L249.4 304.9L249.8 305.2L250.2 305.4L250.6 305.6L251.0 305.9L251.4 306.1L251.8 306.3L252.2 306.6L252.6 306.8L253.0 307.0L254.2 307.7L255.5 308.3L256.7 308.9L257.9 309.5L259.1 310.1L260.3 310.7L261.5 311.3L262.7 311.8L263.9 312.3L265.1 312.9L266.3 313.4L267.5 313.9L268.7 314.3L269.9 314.8L271.1 315.2L272.3 315.7L273.5 316.1L274.7 316.5L276.0 316.9L277.2 317.3L278.4 317.7L279.6 318.1L280.8 318.4L282.0 318.8L283.2 319.1L284.4 319.5L285.6 319.8L286.8 320.1L288.0 320.4L289.2 320.7L290.4 321.0L291.6 321.3L292.8 321.6L294.0 321.9L295.2 322.1L296.5 322.4L297.7 322.6L298.9 322.9L300.1 323.1L301.3 323.3L302.5 323.6L303.7 323.8L304.9 324.0L306.1 324.2L307.3 324.4L308.5 324.6L309.7 324.8L310.9 325.0L312.1 325.1L313.3 325.3L314.5 325.5L315.8 325.7L317.0 325.8L318.0 326.0" fill="none" stroke="#41729f" stroke-width="1.0" stroke-linejoin="round"/>
<path d="M197.5 330.2L197.7 329.4L197.9 328.7L198.1 327.9L198.3 327.2L198.5 326.5L198.7 325.8L198.9 325.1L199.1 324.4L199.3 323.7L199.5 323.1L199.7 322.4L199.9 321.8L200.1 321.2L200.3 320.6L200.5 320.0L200.7 319.4L200.9 318.8L201.1 318.2L201.3 317.7L201.5 317.1L201.7 316.6L201.9 316.0L202.1 315.5L202.2 315.0L202.4 314.5L202.6 314.0L202.8 313.5L203.0 313.0L203.2 312.5L203.4 312.1L203.6 311.6L203.8 311.2L204.0 310.7L204.2 310.3L204.4 309.9L204.6 309.5L204.8 309.1L205.0 308.7L205.2 308.3L205.4 307.9L206.2 306.4L207.0 305.0L207.8 303.7L208.6 302.5L209.4 301.4L210.2 300.3L211.0 299.3L211.8 298.4L212.5 297.6L213.3 296.8L214.1 296.0L214.9 295.4L215.7 294.7L216.5 294.1L217.3 293.6L218.1 293.0L218.9 292.5L219.7 292.1L220.5 291.7L221.2 291.3L222.0 290.9L222.8 290.6L223.6 290.2L224.4 289.9L225.2 289.7L226.0 289.4L226.8 289.2L227.6 288.9L228.4 288.7L229.2 288.5L230.0 288.4L230.8 288.2L231.5 288.0L232.3 287.9L233.1 287.7L233.9 287.6L234.7 287.5L235.5 287.4L236.3 287.3L237.1 287.2L237.9 287.1L238.7 287.0L239.5 286.9L240.2 286.9L241.0 286.8L241.8 286.7L242.6 286.7L243.4 286.6L244.2 286.6L245.0 286.5L245.2 286.7L245.4 286.9L245.6 287.1L245.8 287.3L246.0 287.5L246.2 287.7L246.4 287.9L246.6 288.1L246.8 288.3L247.0 288.5L247.4 288.9L247.8 289.3L248.2 289.7L248.6 290.0L249.0 290.4L249.4 290.8L249.8 291.2L250.2 291.5L250.6 291.9L251.0 292.3L251.4 292.6L251.8 293.0L252.2 293.3L252.6 293.7L253.0 294.0L254.2 295.0L255.5 296.0L256.7 297.0L257.9 297.9L259.1 298.8L260.3 299.7L261.5 300.5L262.7 301.4L263.9 302.2L265.1 303.0L266.3 303.8L267.5 304.5L268.7 305.3L269.9 306.0L271.1 306.7L272.3 307.3L273.5 308.0L274.7 308.6L276.0 309.3L277.2 309.9L278.4 310.4L279.6 311.0L280.8 311.6L282.0 312.1L283.2 312.7L284.4 313.2L285.6 313.7L286.8 314.2L288.0 314.6L289.2 315.1L290.4 315.6L291.6 316.0L292.8 316.4L294.0 316.8L295.2 317.2L296.5 317.6L297.7 318.0L298.9 318.4L300.1 318.7L301.3 319.1L302.5 319.4L303.7 319.8L304.9 320.1L306.1 320.4L307.3 320.7L308.5 321.0L309.7 321.3L310.9 321.6L312.1 321.9L313.3 322.2L314.5 322.4L315.8 322.7L317.0 322.9L318.0 323.1" fill="none" stroke="#5a7894" stroke-width="1.0" stroke-linejoin="round"/>
<path d="M197.5 330.2L197.7 328.7L197.9 327.3L198.1 326.0L198.3 324.6L198.5 323.3L198.7 322.0L198.9 320.8L199.1 319.6L199.3 318.4L199.5 317.3L199.7 316.2L199.9 315.1L200.1 314.1L200.3 313.1L200.5 312.1L200.7 311.1L200.9 310.2L201.1 309.3L201.3 308.4L201.5 307.5L201.7 306.7L201.9 305.8L202.1 305.0L202.2 304.3L202.4 303.5L202.6 302.8L202.8 302.1L203.0 301.4L203.2 300.7L203.4 300.0L203.6 299.4L203.8 298.8L204.0 298.2L204.2 297.6L204.4 297.0L204.6 296.4L204.8 295.9L205.0 295.4L205.2 294.9L205.4 294.4L206.2 292.5L207.0 290.8L207.8 289.3L208.6 287.9L209.4 286.7L210.2 285.6L211.0 284.6L211.8 283.7L212.5 282.9L213.3 282.2L214.1 281.6L214.9 281.0L215.7 280.5L216.5 280.0L217.3 279.6L218.1 279.2L218.9 278.9L219.7 278.6L220.5 278.3L221.2 278.0L222.0 277.8L222.8 277.6L223.6 277.4L224.4 277.2L225.2 277.0L226.0 276.9L226.8 276.8L227.6 276.6L228.4 276.5L229.2 276.4L230.0 276.3L230.8 276.2L231.5 276.2L232.3 276.1L233.1 276.0L233.9 276.0L234.7 275.9L235.5 275.8L236.3 275.8L237.1 275.7L237.9 275.7L238.7 275.6L239.5 275.6L240.2 275.5L241.0 275.5L241.8 275.5L242.6 275.4L243.4 275.4L244.2 275.3L245.0 275.3L245.2 275.6L245.4 275.8L245.6 276.1L245.8 276.3L246.0 276.6L246.2 276.8L246.4 277.0L246.6 277.3L246.8 277.5L247.0 277.8L247.4 278.3L247.8 278.7L248.2 279.2L248.6 279.7L249.0 280.2L249.4 280.6L249.8 281.1L250.2 281.5L250.6 282.0L251.0 282.4L251.4 282.9L251.8 283.3L252.2 283.7L252.6 284.2L253.0 284.6L254.2 285.8L255.5 287.1L256.7 288.2L257.9 289.4L259.1 290.5L260.3 291.6L261.5 292.7L262.7 293.7L263.9 294.7L265.1 295.7L266.3 296.7L267.5 297.6L268.7 298.5L269.9 299.4L271.1 300.3L272.3 301.1L273.5 301.9L274.7 302.7L276.0 303.5L277.2 304.2L278.4 305.0L279.6 305.7L280.8 306.4L282.0 307.0L283.2 307.7L284.4 308.3L285.6 308.9L286.8 309.5L288.0 310.1L289.2 310.7L290.4 311.3L291.6 311.8L292.8 312.3L294.0 312.9L295.2 313.4L296.5 313.8L297.7 314.3L298.9 314.8L300.1 315.2L301.3 315.7L302.5 316.1L303.7 316.5L304.9 316.9L306.1 317.3L307.3 317.7L308.5 318.1L309.7 318.4L310.9 318.8L312.1 319.1L313.3 319.4L314.5 319.8L315.8 320.1L317.0 320.4L318.0 320.7" fill="none" stroke="#505050" stroke-width="1.1" stroke-linejoin="round"/>
<path d="M197.5 330.2L197.7 327.7L197.9 325.2L198.1 322.9L198.3 320.7L198.5 318.6L198.7 316.5L198.9 314.5L199.1 312.7L199.3 310.9L199.5 309.1L199.7 307.5L199.9 305.9L200.1 304.4L200.3 302.9L200.5 301.5L200.7 300.2L200.9 298.9L201.1 297.6L201.3 296.5L201.5 295.3L201.7 294.2L201.9 293.2L202.1 292.2L202.2 291.2L202.4 290.3L202.6 289.5L202.8 288.6L203.0 287.8L203.2 287.0L203.4 286.3L203.6 285.6L203.8 284.9L204.0 284.2L204.2 283.6L204.4 283.0L204.6 282.4L204.8 281.9L205.0 281.3L205.2 280.8L205.4 280.3L206.2 278.6L207.0 277.1L207.8 275.8L208.6 274.7L209.4 273.8L210.2 273.1L211.0 272.4L211.8 271.9L212.5 271.4L213.3 271.0L214.1 270.6L214.9 270.3L215.7 270.1L216.5 269.8L217.3 269.7L218.1 269.5L218.9 269.3L219.7 269.2L220.5 269.1L221.2 269.0L222.0 268.9L222.8 268.8L223.6 268.8L224.4 268.7L225.2 268.6L226.0 268.6L226.8 268.5L227.6 268.5L228.4 268.4L229.2 268.4L230.0 268.3L230.8 268.3L231.5 268.3L232.3 268.2L233.1 268.2L233.9 268.2L234.7 268.1L235.5 268.1L236.3 268.1L237.1 268.0L237.9 268.0L238.7 268.0L239.5 267.9L240.2 267.9L241.0 267.9L241.8 267.8L242.6 267.8L243.4 267.8L244.2 267.7L245.0 267.7L245.2 268.0L245.4 268.3L245.6 268.6L245.8 268.9L246.0 269.1L246.2 269.4L246.4 269.7L246.6 270.0L246.8 270.3L247.0 270.5L247.4 271.1L247.8 271.6L248.2 272.2L248.6 272.7L249.0 273.3L249.4 273.8L249.8 274.3L250.2 274.8L250.6 275.3L251.0 275.9L251.4 276.4L251.8 276.9L252.2 277.4L252.6 277.9L253.0 278.3L254.2 279.8L255.5 281.2L256.7 282.5L257.9 283.9L259.1 285.2L260.3 286.4L261.5 287.6L262.7 288.8L263.9 290.0L265.1 291.1L266.3 292.2L267.5 293.3L268.7 294.3L269.9 295.3L271.1 296.3L272.3 297.3L273.5 298.2L274.7 299.1L276.0 300.0L277.2 300.9L278.4 301.7L279.6 302.5L280.8 303.3L282.0 304.1L283.2 304.8L284.4 305.6L285.6 306.3L286.8 307.0L288.0 307.6L289.2 308.3L290.4 308.9L291.6 309.6L292.8 310.2L294.0 310.8L295.2 311.3L296.5 311.9L297.7 312.4L298.9 313.0L300.1 313.5L301.3 314.0L302.5 314.5L303.7 314.9L304.9 315.4L306.1 315.9L307.3 316.3L308.5 316.7L309.7 317.1L310.9 317.5L312.1 317.9L313.3 318.3L314.5 318.7L315.8 319.1L317.0 319.4L318.0 319.7" fill="none" stroke="#232323" stroke-width="1.3" stroke-linejoin="round"/>
<line x1="358.10" y1="259.00" x2="358.10" y2="330.70" stroke="#9a9a9a" stroke-width="1"/>
<line x1="358.10" y1="330.20" x2="480.90" y2="330.20" stroke="#c8c8c8" stroke-width="1"/>
<line x1="356.30" y1="330.20" x2="358.10" y2="330.20" stroke="#9a9a9a" stroke-width="1"/>
<text x="352.60" y="332.50" font-size="6.5" fill="#2a2a2a" text-anchor="end">0</text>
<line x1="356.30" y1="312.52" x2="358.10" y2="312.52" stroke="#9a9a9a" stroke-width="1"/>
<text x="352.60" y="314.82" font-size="6.5" fill="#2a2a2a" text-anchor="end">50</text>
<line x1="356.30" y1="294.85" x2="358.10" y2="294.85" stroke="#9a9a9a" stroke-width="1"/>
<text x="352.60" y="297.15" font-size="6.5" fill="#2a2a2a" text-anchor="end">100</text>
<line x1="356.30" y1="277.18" x2="358.10" y2="277.18" stroke="#9a9a9a" stroke-width="1"/>
<text x="352.60" y="279.48" font-size="6.5" fill="#2a2a2a" text-anchor="end">150</text>
<line x1="356.30" y1="259.50" x2="358.10" y2="259.50" stroke="#9a9a9a" stroke-width="1"/>
<text x="352.60" y="261.80" font-size="6.5" fill="#2a2a2a" text-anchor="end">200</text>
<line x1="358.10" y1="330.20" x2="358.10" y2="332.00" stroke="#9a9a9a" stroke-width="1"/>
<text x="358.10" y="341.10" font-size="6.5" fill="#2a2a2a" text-anchor="middle">–10</text>
<line x1="398.30" y1="330.20" x2="398.30" y2="332.00" stroke="#9a9a9a" stroke-width="1"/>
<text x="398.30" y="341.10" font-size="6.5" fill="#2a2a2a" text-anchor="middle">90</text>
<line x1="438.50" y1="330.20" x2="438.50" y2="332.00" stroke="#9a9a9a" stroke-width="1"/>
<text x="438.50" y="341.10" font-size="6.5" fill="#2a2a2a" text-anchor="middle">190</text>
<line x1="478.70" y1="330.20" x2="478.70" y2="332.00" stroke="#9a9a9a" stroke-width="1"/>
<text x="478.70" y="341.10" font-size="6.5" fill="#2a2a2a" text-anchor="middle">290</text>
<text x="417.60" y="348.30" font-size="6.6" fill="#2a2a2a" textLength="21.60" lengthAdjust="spacingAndGlyphs" text-anchor="middle">Time (s)</text>
<text transform="translate(338.80,297.60) rotate(-90)" font-size="6.6" fill="#2a2a2a" text-anchor="middle" textLength="55" lengthAdjust="spacingAndGlyphs">Response units (RU)</text>
<text x="349.60" y="248.50" font-size="7.5" fill="#2a2a2a" textLength="77.80" lengthAdjust="spacingAndGlyphs">Binding of scFvC2 to FGFR1</text>
<text x="438.50" y="248.50" font-size="7.5" fill="#2a2a2a" textLength="46.90" lengthAdjust="spacingAndGlyphs"><tspan font-style="italic">K</tspan><tspan font-size="5" dy="1.2">D</tspan><tspan dy="-1.2"> = 267 nmol/L</tspan></text>
<path d="M363.2 330.2L363.4 330.2L363.6 330.2L363.8 330.2L364.0 330.2L364.2 330.2L364.4 330.1L364.6 330.1L364.8 330.1L365.0 330.1L365.2 330.1L365.4 330.1L365.6 330.1L365.8 330.1L366.0 330.1L366.2 330.1L366.4 330.1L366.6 330.1L366.8 330.0L367.0 330.0L367.2 330.0L367.4 330.0L367.6 330.0L367.8 330.0L368.0 330.0L368.2 330.0L368.4 330.0L368.6 330.0L368.8 330.0L369.0 330.0L369.2 330.0L369.4 329.9L369.6 329.9L369.8 329.9L370.0 329.9L370.2 329.9L370.4 329.9L370.6 329.9L370.8 329.9L371.0 329.9L371.2 329.9L372.0 329.9L372.8 329.8L373.6 329.8L374.4 329.8L375.2 329.8L376.0 329.7L376.8 329.7L377.6 329.7L378.4 329.7L379.2 329.6L380.0 329.6L380.8 329.6L381.6 329.6L382.4 329.6L383.2 329.5L384.0 329.5L384.8 329.5L385.6 329.5L386.4 329.5L387.2 329.5L388.1 329.4L388.9 329.4L389.7 329.4L390.5 329.4L391.3 329.4L392.1 329.4L392.9 329.4L393.7 329.3L394.5 329.3L395.3 329.3L396.1 329.3L396.9 329.3L397.7 329.3L398.5 329.3L399.3 329.3L400.1 329.3L400.9 329.2L401.7 329.2L402.5 329.2L403.3 329.2L404.1 329.2L404.9 329.2L405.7 329.2L406.5 329.2L407.3 329.2L408.1 329.2L408.9 329.2L409.7 329.2L410.5 329.1L411.3 329.1L411.5 329.1L411.7 329.1L411.9 329.1L412.1 329.2L412.3 329.2L412.5 329.2L412.7 329.2L412.9 329.2L413.1 329.2L413.3 329.2L413.7 329.2L414.1 329.2L414.5 329.2L414.9 329.2L415.3 329.2L415.7 329.2L416.1 329.2L416.5 329.2L416.9 329.2L417.3 329.2L417.7 329.2L418.1 329.2L418.5 329.2L418.9 329.2L419.3 329.3L420.5 329.3L421.8 329.3L423.0 329.3L424.2 329.3L425.4 329.3L426.6 329.3L427.8 329.4L429.0 329.4L430.2 329.4L431.4 329.4L432.6 329.4L433.8 329.4L435.0 329.4L436.2 329.4L437.4 329.4L438.6 329.5L439.8 329.5L441.0 329.5L442.3 329.5L443.5 329.5L444.7 329.5L445.9 329.5L447.1 329.5L448.3 329.5L449.5 329.5L450.7 329.5L451.9 329.5L453.1 329.5L454.3 329.6L455.5 329.6L456.7 329.6L457.9 329.6L459.1 329.6L460.3 329.6L461.6 329.6L462.8 329.6L464.0 329.6L465.2 329.6L466.4 329.6L467.6 329.6L468.8 329.6L470.0 329.6L471.2 329.6L472.4 329.6L473.6 329.6L474.8 329.6L476.0 329.6L477.2 329.7L478.4 329.7L479.6 329.7L480.8 329.7L482.1 329.7L483.3 329.7L484.2 329.7" fill="none" stroke="#c0d5ea" stroke-width="1.0" stroke-linejoin="round"/>
<path d="M363.2 330.2L363.4 330.2L363.6 330.2L363.8 330.1L364.0 330.1L364.2 330.1L364.4 330.1L364.6 330.1L364.8 330.1L365.0 330.0L365.2 330.0L365.4 330.0L365.6 330.0L365.8 330.0L366.0 330.0L366.2 329.9L366.4 329.9L366.6 329.9L366.8 329.9L367.0 329.9L367.2 329.9L367.4 329.8L367.6 329.8L367.8 329.8L368.0 329.8L368.2 329.8L368.4 329.8L368.6 329.8L368.8 329.7L369.0 329.7L369.2 329.7L369.4 329.7L369.6 329.7L369.8 329.7L370.0 329.6L370.2 329.6L370.4 329.6L370.6 329.6L370.8 329.6L371.0 329.6L371.2 329.6L372.0 329.5L372.8 329.5L373.6 329.4L374.4 329.4L375.2 329.3L376.0 329.3L376.8 329.2L377.6 329.2L378.4 329.1L379.2 329.1L380.0 329.0L380.8 329.0L381.6 329.0L382.4 328.9L383.2 328.9L384.0 328.9L384.8 328.8L385.6 328.8L386.4 328.8L387.2 328.7L388.1 328.7L388.9 328.7L389.7 328.6L390.5 328.6L391.3 328.6L392.1 328.5L392.9 328.5L393.7 328.5L394.5 328.5L395.3 328.4L396.1 328.4L396.9 328.4L397.7 328.4L398.5 328.4L399.3 328.3L400.1 328.3L400.9 328.3L401.7 328.3L402.5 328.3L403.3 328.2L404.1 328.2L404.9 328.2L405.7 328.2L406.5 328.2L407.3 328.2L408.1 328.1L408.9 328.1L409.7 328.1L410.5 328.1L411.3 328.1L411.5 328.1L411.7 328.1L411.9 328.1L412.1 328.1L412.3 328.1L412.5 328.1L412.7 328.1L412.9 328.1L413.1 328.1L413.3 328.2L413.7 328.2L414.1 328.2L414.5 328.2L414.9 328.2L415.3 328.2L415.7 328.2L416.1 328.2L416.5 328.3L416.9 328.3L417.3 328.3L417.7 328.3L418.1 328.3L418.5 328.3L418.9 328.3L419.3 328.3L420.5 328.4L421.8 328.4L423.0 328.5L424.2 328.5L425.4 328.5L426.6 328.5L427.8 328.6L429.0 328.6L430.2 328.6L431.4 328.7L432.6 328.7L433.8 328.7L435.0 328.7L436.2 328.8L437.4 328.8L438.6 328.8L439.8 328.8L441.0 328.9L442.3 328.9L443.5 328.9L444.7 328.9L445.9 328.9L447.1 329.0L448.3 329.0L449.5 329.0L450.7 329.0L451.9 329.0L453.1 329.0L454.3 329.1L455.5 329.1L456.7 329.1L457.9 329.1L459.1 329.1L460.3 329.1L461.6 329.1L462.8 329.1L464.0 329.2L465.2 329.2L466.4 329.2L467.6 329.2L468.8 329.2L470.0 329.2L471.2 329.2L472.4 329.2L473.6 329.2L474.8 329.3L476.0 329.3L477.2 329.3L478.4 329.3L479.6 329.3L480.8 329.3L482.1 329.3L483.3 329.3L484.2 329.3" fill="none" stroke="#a0bedb" stroke-width="1.0" stroke-linejoin="round"/>
<path d="M363.2 330.2L363.4 330.2L363.6 330.1L363.8 330.1L364.0 330.1L364.2 330.1L364.4 330.0L364.6 330.0L364.8 330.0L365.0 329.9L365.2 329.9L365.4 329.9L365.6 329.8L365.8 329.8L366.0 329.8L366.2 329.8L366.4 329.7L366.6 329.7L366.8 329.7L367.0 329.7L367.2 329.6L367.4 329.6L367.6 329.6L367.8 329.6L368.0 329.5L368.2 329.5L368.4 329.5L368.6 329.5L368.8 329.4L369.0 329.4L369.2 329.4L369.4 329.4L369.6 329.3L369.8 329.3L370.0 329.3L370.2 329.3L370.4 329.2L370.6 329.2L370.8 329.2L371.0 329.2L371.2 329.1L372.0 329.0L372.8 329.0L373.6 328.9L374.4 328.8L375.2 328.7L376.0 328.6L376.8 328.6L377.6 328.5L378.4 328.4L379.2 328.3L380.0 328.3L380.8 328.2L381.6 328.1L382.4 328.1L383.2 328.0L384.0 328.0L384.8 327.9L385.6 327.8L386.4 327.8L387.2 327.7L388.1 327.7L388.9 327.6L389.7 327.6L390.5 327.5L391.3 327.5L392.1 327.4L392.9 327.4L393.7 327.4L394.5 327.3L395.3 327.3L396.1 327.2L396.9 327.2L397.7 327.2L398.5 327.1L399.3 327.1L400.1 327.1L400.9 327.0L401.7 327.0L402.5 327.0L403.3 326.9L404.1 326.9L404.9 326.9L405.7 326.8L406.5 326.8L407.3 326.8L408.1 326.8L408.9 326.7L409.7 326.7L410.5 326.7L411.3 326.7L411.5 326.7L411.7 326.7L411.9 326.7L412.1 326.7L412.3 326.7L412.5 326.7L412.7 326.8L412.9 326.8L413.1 326.8L413.3 326.8L413.7 326.8L414.1 326.8L414.5 326.9L414.9 326.9L415.3 326.9L415.7 326.9L416.1 327.0L416.5 327.0L416.9 327.0L417.3 327.0L417.7 327.0L418.1 327.1L418.5 327.1L418.9 327.1L419.3 327.1L420.5 327.2L421.8 327.2L423.0 327.3L424.2 327.4L425.4 327.4L426.6 327.5L427.8 327.5L429.0 327.6L430.2 327.6L431.4 327.7L432.6 327.7L433.8 327.8L435.0 327.8L436.2 327.8L437.4 327.9L438.6 327.9L439.8 328.0L441.0 328.0L442.3 328.0L443.5 328.1L444.7 328.1L445.9 328.1L447.1 328.2L448.3 328.2L449.5 328.2L450.7 328.2L451.9 328.3L453.1 328.3L454.3 328.3L455.5 328.4L456.7 328.4L457.9 328.4L459.1 328.4L460.3 328.5L461.6 328.5L462.8 328.5L464.0 328.5L465.2 328.5L466.4 328.6L467.6 328.6L468.8 328.6L470.0 328.6L471.2 328.6L472.4 328.6L473.6 328.7L474.8 328.7L476.0 328.7L477.2 328.7L478.4 328.7L479.6 328.7L480.8 328.8L482.1 328.8L483.3 328.8L484.2 328.8" fill="none" stroke="#7ca2c7" stroke-width="1.0" stroke-linejoin="round"/>
<path d="M363.2 330.2L363.4 330.1L363.6 330.1L363.8 330.0L364.0 330.0L364.2 329.9L364.4 329.9L364.6 329.8L364.8 329.7L365.0 329.7L365.2 329.6L365.4 329.6L365.6 329.5L365.8 329.5L366.0 329.4L366.2 329.4L366.4 329.3L366.6 329.2L366.8 329.2L367.0 329.1L367.2 329.1L367.4 329.0L367.6 329.0L367.8 328.9L368.0 328.9L368.2 328.8L368.4 328.8L368.6 328.7L368.8 328.7L369.0 328.6L369.2 328.6L369.4 328.5L369.6 328.5L369.8 328.5L370.0 328.4L370.2 328.4L370.4 328.3L370.6 328.3L370.8 328.2L371.0 328.2L371.2 328.1L372.0 328.0L372.8 327.8L373.6 327.6L374.4 327.5L375.2 327.3L376.0 327.1L376.8 327.0L377.6 326.8L378.4 326.7L379.2 326.6L380.0 326.4L380.8 326.3L381.6 326.2L382.4 326.1L383.2 325.9L384.0 325.8L384.8 325.7L385.6 325.6L386.4 325.5L387.2 325.4L388.1 325.3L388.9 325.2L389.7 325.1L390.5 325.0L391.3 324.9L392.1 324.8L392.9 324.7L393.7 324.7L394.5 324.6L395.3 324.5L396.1 324.4L396.9 324.3L397.7 324.3L398.5 324.2L399.3 324.1L400.1 324.1L400.9 324.0L401.7 323.9L402.5 323.9L403.3 323.8L404.1 323.8L404.9 323.7L405.7 323.6L406.5 323.6L407.3 323.5L408.1 323.5L408.9 323.4L409.7 323.4L410.5 323.4L411.3 323.3L411.5 323.3L411.7 323.4L411.9 323.4L412.1 323.4L412.3 323.4L412.5 323.5L412.7 323.5L412.9 323.5L413.1 323.6L413.3 323.6L413.7 323.6L414.1 323.7L414.5 323.7L414.9 323.8L415.3 323.8L415.7 323.9L416.1 324.0L416.5 324.0L416.9 324.1L417.3 324.1L417.7 324.1L418.1 324.2L418.5 324.2L418.9 324.3L419.3 324.3L420.5 324.5L421.8 324.6L423.0 324.7L424.2 324.9L425.4 325.0L426.6 325.1L427.8 325.2L429.0 325.3L430.2 325.4L431.4 325.6L432.6 325.7L433.8 325.8L435.0 325.8L436.2 325.9L437.4 326.0L438.6 326.1L439.8 326.2L441.0 326.3L442.3 326.4L443.5 326.4L444.7 326.5L445.9 326.6L447.1 326.7L448.3 326.7L449.5 326.8L450.7 326.9L451.9 326.9L453.1 327.0L454.3 327.1L455.5 327.1L456.7 327.2L457.9 327.2L459.1 327.3L460.3 327.3L461.6 327.4L462.8 327.4L464.0 327.5L465.2 327.5L466.4 327.6L467.6 327.6L468.8 327.6L470.0 327.7L471.2 327.7L472.4 327.8L473.6 327.8L474.8 327.8L476.0 327.9L477.2 327.9L478.4 327.9L479.6 328.0L480.8 328.0L482.1 328.0L483.3 328.1L484.2 328.1" fill="none" stroke="#5888b4" stroke-width="1.0" stroke-linejoin="round"/>
<path d="M363.2 330.2L363.4 330.1L363.6 330.0L363.8 329.9L364.0 329.7L364.2 329.6L364.4 329.5L364.6 329.4L364.8 329.3L365.0 329.2L365.2 329.1L365.4 329.0L365.6 328.9L365.8 328.7L366.0 328.6L366.2 328.5L366.4 328.4L366.6 328.3L366.8 328.2L367.0 328.1L367.2 328.0L367.4 327.9L367.6 327.8L367.8 327.7L368.0 327.6L368.2 327.5L368.4 327.4L368.6 327.3L368.8 327.2L369.0 327.1L369.2 327.0L369.4 326.9L369.6 326.9L369.8 326.8L370.0 326.7L370.2 326.6L370.4 326.5L370.6 326.4L370.8 326.3L371.0 326.2L371.2 326.1L372.0 325.8L372.8 325.5L373.6 325.1L374.4 324.8L375.2 324.5L376.0 324.2L376.8 323.9L377.6 323.7L378.4 323.4L379.2 323.1L380.0 322.9L380.8 322.6L381.6 322.4L382.4 322.2L383.2 321.9L384.0 321.7L384.8 321.5L385.6 321.3L386.4 321.1L387.2 320.9L388.1 320.7L388.9 320.5L389.7 320.4L390.5 320.2L391.3 320.0L392.1 319.9L392.9 319.7L393.7 319.5L394.5 319.4L395.3 319.2L396.1 319.1L396.9 319.0L397.7 318.8L398.5 318.7L399.3 318.6L400.1 318.5L400.9 318.4L401.7 318.2L402.5 318.1L403.3 318.0L404.1 317.9L404.9 317.8L405.7 317.7L406.5 317.6L407.3 317.5L408.1 317.5L408.9 317.4L409.7 317.3L410.5 317.2L411.3 317.1L411.5 317.2L411.7 317.2L411.9 317.3L412.1 317.3L412.3 317.4L412.5 317.5L412.7 317.5L412.9 317.6L413.1 317.6L413.3 317.7L413.7 317.8L414.1 317.9L414.5 318.0L414.9 318.1L415.3 318.2L415.7 318.3L416.1 318.4L416.5 318.5L416.9 318.6L417.3 318.7L417.7 318.8L418.1 318.9L418.5 319.0L418.9 319.1L419.3 319.2L420.5 319.5L421.8 319.7L423.0 320.0L424.2 320.2L425.4 320.5L426.6 320.7L427.8 321.0L429.0 321.2L430.2 321.4L431.4 321.6L432.6 321.8L433.8 322.0L435.0 322.2L436.2 322.4L437.4 322.6L438.6 322.7L439.8 322.9L441.0 323.1L442.3 323.2L443.5 323.4L444.7 323.6L445.9 323.7L447.1 323.8L448.3 324.0L449.5 324.1L450.7 324.2L451.9 324.4L453.1 324.5L454.3 324.6L455.5 324.7L456.7 324.8L457.9 324.9L459.1 325.1L460.3 325.2L461.6 325.3L462.8 325.4L464.0 325.4L465.2 325.5L466.4 325.6L467.6 325.7L468.8 325.8L470.0 325.9L471.2 326.0L472.4 326.0L473.6 326.1L474.8 326.2L476.0 326.2L477.2 326.3L478.4 326.4L479.6 326.4L480.8 326.5L482.1 326.6L483.3 326.6L484.2 326.7" fill="none" stroke="#41729f" stroke-width="1.0" stroke-linejoin="round"/>
<path d="M363.2 330.2L363.4 330.0L363.6 329.7L363.8 329.5L364.0 329.2L364.2 329.0L364.4 328.8L364.6 328.5L364.8 328.3L365.0 328.1L365.2 327.9L365.4 327.6L365.6 327.4L365.8 327.2L366.0 327.0L366.2 326.8L366.4 326.6L366.6 326.3L366.8 326.1L367.0 325.9L367.2 325.7L367.4 325.5L367.6 325.3L367.8 325.1L368.0 324.9L368.2 324.7L368.4 324.5L368.6 324.3L368.8 324.1L369.0 324.0L369.2 323.8L369.4 323.6L369.6 323.4L369.8 323.2L370.0 323.0L370.2 322.9L370.4 322.7L370.6 322.5L370.8 322.3L371.0 322.2L371.2 322.0L372.0 321.3L372.8 320.7L373.6 320.0L374.4 319.4L375.2 318.9L376.0 318.3L376.8 317.8L377.6 317.2L378.4 316.7L379.2 316.3L380.0 315.8L380.8 315.3L381.6 314.9L382.4 314.5L383.2 314.1L384.0 313.7L384.8 313.3L385.6 312.9L386.4 312.6L387.2 312.3L388.1 311.9L388.9 311.6L389.7 311.3L390.5 311.0L391.3 310.7L392.1 310.5L392.9 310.2L393.7 309.9L394.5 309.7L395.3 309.5L396.1 309.2L396.9 309.0L397.7 308.8L398.5 308.6L399.3 308.4L400.1 308.2L400.9 308.0L401.7 307.9L402.5 307.7L403.3 307.5L404.1 307.4L404.9 307.2L405.7 307.1L406.5 306.9L407.3 306.8L408.1 306.6L408.9 306.5L409.7 306.4L410.5 306.3L411.3 306.2L411.5 306.3L411.7 306.4L411.9 306.5L412.1 306.6L412.3 306.7L412.5 306.8L412.7 306.9L412.9 307.0L413.1 307.1L413.3 307.2L413.7 307.4L414.1 307.6L414.5 307.9L414.9 308.1L415.3 308.3L415.7 308.4L416.1 308.6L416.5 308.8L416.9 309.0L417.3 309.2L417.7 309.4L418.1 309.6L418.5 309.8L418.9 310.0L419.3 310.1L420.5 310.7L421.8 311.2L423.0 311.7L424.2 312.2L425.4 312.6L426.6 313.1L427.8 313.5L429.0 314.0L430.2 314.4L431.4 314.8L432.6 315.2L433.8 315.6L435.0 316.0L436.2 316.3L437.4 316.7L438.6 317.0L439.8 317.3L441.0 317.6L442.3 318.0L443.5 318.3L444.7 318.5L445.9 318.8L447.1 319.1L448.3 319.4L449.5 319.6L450.7 319.9L451.9 320.1L453.1 320.4L454.3 320.6L455.5 320.8L456.7 321.0L457.9 321.2L459.1 321.4L460.3 321.6L461.6 321.8L462.8 322.0L464.0 322.2L465.2 322.4L466.4 322.5L467.6 322.7L468.8 322.9L470.0 323.0L471.2 323.2L472.4 323.3L473.6 323.5L474.8 323.6L476.0 323.7L477.2 323.9L478.4 324.0L479.6 324.1L480.8 324.2L482.1 324.3L483.3 324.5L484.2 324.5" fill="none" stroke="#5a7894" stroke-width="1.0" stroke-linejoin="round"/>
<path d="M363.2 330.2L363.4 329.7L363.6 329.2L363.8 328.7L364.0 328.3L364.2 327.8L364.4 327.3L364.6 326.9L364.8 326.4L365.0 325.9L365.2 325.5L365.4 325.1L365.6 324.6L365.8 324.2L366.0 323.8L366.2 323.4L366.4 322.9L366.6 322.5L366.8 322.1L367.0 321.7L367.2 321.3L367.4 320.9L367.6 320.6L367.8 320.2L368.0 319.8L368.2 319.4L368.4 319.1L368.6 318.7L368.8 318.3L369.0 318.0L369.2 317.6L369.4 317.3L369.6 317.0L369.8 316.6L370.0 316.3L370.2 316.0L370.4 315.6L370.6 315.3L370.8 315.0L371.0 314.7L371.2 314.4L372.0 313.2L372.8 312.0L373.6 310.9L374.4 309.9L375.2 308.9L376.0 307.9L376.8 307.0L377.6 306.2L378.4 305.4L379.2 304.6L380.0 303.8L380.8 303.1L381.6 302.4L382.4 301.8L383.2 301.2L384.0 300.6L384.8 300.0L385.6 299.5L386.4 299.0L387.2 298.5L388.1 298.0L388.9 297.6L389.7 297.2L390.5 296.8L391.3 296.4L392.1 296.0L392.9 295.7L393.7 295.4L394.5 295.1L395.3 294.8L396.1 294.5L396.9 294.2L397.7 293.9L398.5 293.7L399.3 293.5L400.1 293.2L400.9 293.0L401.7 292.8L402.5 292.6L403.3 292.4L404.1 292.3L404.9 292.1L405.7 291.9L406.5 291.8L407.3 291.6L408.1 291.5L408.9 291.4L409.7 291.2L410.5 291.1L411.3 291.0L411.5 291.2L411.7 291.4L411.9 291.6L412.1 291.7L412.3 291.9L412.5 292.1L412.7 292.3L412.9 292.5L413.1 292.6L413.3 292.8L413.7 293.2L414.1 293.5L414.5 293.9L414.9 294.2L415.3 294.6L415.7 294.9L416.1 295.2L416.5 295.6L416.9 295.9L417.3 296.2L417.7 296.5L418.1 296.9L418.5 297.2L418.9 297.5L419.3 297.8L420.5 298.7L421.8 299.6L423.0 300.4L424.2 301.3L425.4 302.1L426.6 302.9L427.8 303.6L429.0 304.4L430.2 305.1L431.4 305.8L432.6 306.4L433.8 307.1L435.0 307.7L436.2 308.3L437.4 308.9L438.6 309.5L439.8 310.1L441.0 310.6L442.3 311.2L443.5 311.7L444.7 312.2L445.9 312.7L447.1 313.1L448.3 313.6L449.5 314.0L450.7 314.5L451.9 314.9L453.1 315.3L454.3 315.7L455.5 316.0L456.7 316.4L457.9 316.8L459.1 317.1L460.3 317.5L461.6 317.8L462.8 318.1L464.0 318.4L465.2 318.7L466.4 319.0L467.6 319.3L468.8 319.6L470.0 319.8L471.2 320.1L472.4 320.3L473.6 320.6L474.8 320.8L476.0 321.0L477.2 321.3L478.4 321.5L479.6 321.7L480.8 321.9L482.1 322.1L483.3 322.3L484.2 322.4" fill="none" stroke="#505050" stroke-width="1.1" stroke-linejoin="round"/>
<path d="M363.2 330.2L363.4 329.0L363.6 327.7L363.8 326.5L364.0 325.4L364.2 324.3L364.4 323.2L364.6 322.1L364.8 321.0L365.0 320.0L365.2 319.0L365.4 318.0L365.6 317.1L365.8 316.1L366.0 315.2L366.2 314.3L366.4 313.5L366.6 312.6L366.8 311.8L367.0 311.0L367.2 310.2L367.4 309.5L367.6 308.7L367.8 308.0L368.0 307.3L368.2 306.6L368.4 305.9L368.6 305.3L368.8 304.6L369.0 304.0L369.2 303.4L369.4 302.8L369.6 302.2L369.8 301.6L370.0 301.1L370.2 300.5L370.4 300.0L370.6 299.5L370.8 299.0L371.0 298.5L371.2 298.0L372.0 296.2L372.8 294.6L373.6 293.1L374.4 291.7L375.2 290.5L376.0 289.4L376.8 288.4L377.6 287.5L378.4 286.7L379.2 285.9L380.0 285.2L380.8 284.6L381.6 284.1L382.4 283.6L383.2 283.1L384.0 282.7L384.8 282.3L385.6 282.0L386.4 281.7L387.2 281.4L388.1 281.1L388.9 280.9L389.7 280.7L390.5 280.5L391.3 280.3L392.1 280.2L392.9 280.0L393.7 279.9L394.5 279.8L395.3 279.7L396.1 279.6L396.9 279.5L397.7 279.4L398.5 279.3L399.3 279.3L400.1 279.2L400.9 279.2L401.7 279.1L402.5 279.1L403.3 279.0L404.1 279.0L404.9 279.0L405.7 278.9L406.5 278.9L407.3 278.9L408.1 278.9L408.9 278.9L409.7 278.8L410.5 278.8L411.3 278.8L411.5 279.1L411.7 279.3L411.9 279.6L412.1 279.8L412.3 280.1L412.5 280.3L412.7 280.6L412.9 280.8L413.1 281.0L413.3 281.3L413.7 281.8L414.1 282.2L414.5 282.7L414.9 283.2L415.3 283.6L415.7 284.1L416.1 284.6L416.5 285.0L416.9 285.5L417.3 285.9L417.7 286.3L418.1 286.8L418.5 287.2L418.9 287.6L419.3 288.0L420.5 289.3L421.8 290.5L423.0 291.6L424.2 292.7L425.4 293.8L426.6 294.9L427.8 295.9L429.0 296.9L430.2 297.9L431.4 298.8L432.6 299.7L433.8 300.6L435.0 301.5L436.2 302.3L437.4 303.1L438.6 303.9L439.8 304.7L441.0 305.4L442.3 306.1L443.5 306.8L444.7 307.5L445.9 308.2L447.1 308.8L448.3 309.4L449.5 310.0L450.7 310.6L451.9 311.2L453.1 311.7L454.3 312.2L455.5 312.8L456.7 313.3L457.9 313.7L459.1 314.2L460.3 314.7L461.6 315.1L462.8 315.5L464.0 316.0L465.2 316.4L466.4 316.8L467.6 317.1L468.8 317.5L470.0 317.9L471.2 318.2L472.4 318.6L473.6 318.9L474.8 319.2L476.0 319.5L477.2 319.8L478.4 320.1L479.6 320.4L480.8 320.7L482.1 320.9L483.3 321.2L484.2 321.4" fill="none" stroke="#232323" stroke-width="1.3" stroke-linejoin="round"/>
<line x1="486.00" y1="33.90" x2="492.50" y2="33.90" stroke="#232323" stroke-width="1.3"/>
<text x="493.40" y="36.00" font-size="6.0" fill="#2a2a2a" textLength="25.60" lengthAdjust="spacingAndGlyphs">640 nmol/L</text>
<line x1="486.00" y1="41.83" x2="492.50" y2="41.83" stroke="#505050" stroke-width="1.0"/>
<text x="493.40" y="43.93" font-size="6.0" fill="#2a2a2a" textLength="25.60" lengthAdjust="spacingAndGlyphs">320 nmol/L</text>
<line x1="486.00" y1="49.76" x2="492.50" y2="49.76" stroke="#5a7894" stroke-width="1.0"/>
<text x="493.40" y="51.86" font-size="6.0" fill="#2a2a2a" textLength="25.60" lengthAdjust="spacingAndGlyphs">160 nmol/L</text>
<line x1="486.00" y1="57.69" x2="492.50" y2="57.69" stroke="#41729f" stroke-width="1.0"/>
<text x="493.40" y="59.79" font-size="6.0" fill="#2a2a2a" textLength="23.00" lengthAdjust="spacingAndGlyphs">80 nmol/L</text>
<line x1="486.00" y1="65.62" x2="492.50" y2="65.62" stroke="#5888b4" stroke-width="1.0"/>
<text x="493.40" y="67.72" font-size="6.0" fill="#2a2a2a" textLength="23.00" lengthAdjust="spacingAndGlyphs">40 nmol/L</text>
<line x1="486.00" y1="73.55" x2="492.50" y2="73.55" stroke="#7ca2c7" stroke-width="1.0"/>
<text x="493.40" y="75.65" font-size="6.0" fill="#2a2a2a" textLength="23.00" lengthAdjust="spacingAndGlyphs">20 nmol/L</text>
<line x1="486.00" y1="81.48" x2="492.50" y2="81.48" stroke="#a0bedb" stroke-width="1.0"/>
<text x="493.40" y="83.58" font-size="6.0" fill="#2a2a2a" textLength="23.00" lengthAdjust="spacingAndGlyphs">10 nmol/L</text>
<line x1="486.00" y1="89.41" x2="492.50" y2="89.41" stroke="#c0d5ea" stroke-width="1.0"/>
<text x="493.40" y="91.51" font-size="6.0" fill="#2a2a2a" textLength="19.60" lengthAdjust="spacingAndGlyphs">5 nmol/L</text>
<text x="12.60" y="29.80" font-size="6.9" fill="#444" text-anchor="end" style="stroke-width:0.05px">100</text>
<text x="12.60" y="38.20" font-size="6.9" fill="#444" text-anchor="end" style="stroke-width:0.05px">75</text>
<text x="12.60" y="55.30" font-size="6.9" fill="#444" text-anchor="end" style="stroke-width:0.05px">50</text>
<text x="12.60" y="67.40" font-size="6.9" fill="#444" text-anchor="end" style="stroke-width:0.05px">37</text>
<text x="12.60" y="81.80" font-size="6.9" fill="#444" text-anchor="end" style="stroke-width:0.05px">25</text>
<text x="12.60" y="88.80" font-size="6.9" fill="#444" text-anchor="end" style="stroke-width:0.05px">20</text>
<text x="12.60" y="98.10" font-size="6.9" fill="#444" text-anchor="end" style="stroke-width:0.05px">15</text>
<text x="12.60" y="104.80" font-size="6.9" fill="#444" text-anchor="end" style="stroke-width:0.05px">10</text>
<text transform="translate(38.4,23.6) rotate(-46.5)" font-size="7.0" fill="#333" style="stroke-width:0.08px" textLength="19.9" lengthAdjust="spacingAndGlyphs">scFvC1</text>
<text transform="translate(55.2,23.6) rotate(-46.5)" font-size="7.0" fill="#333" style="stroke-width:0.08px" textLength="19.9" lengthAdjust="spacingAndGlyphs">scFvC2</text>
<text transform="translate(69.6,23.6) rotate(-46.5)" font-size="7.0" fill="#333" style="stroke-width:0.08px" textLength="19.9" lengthAdjust="spacingAndGlyphs">scFvD2</text>
<text transform="translate(85.7,23.6) rotate(-46.5)" font-size="7.0" fill="#333" style="stroke-width:0.08px" textLength="19.9" lengthAdjust="spacingAndGlyphs">scFvD5</text>
<text transform="translate(102.0,24.0) rotate(-46.5)" font-size="7.0" fill="#333" style="stroke-width:0.08px" textLength="24.2" lengthAdjust="spacingAndGlyphs">scFvD12</text>
<text transform="translate(118.2,23.4) rotate(-46.5)" font-size="7.0" fill="#333" style="stroke-width:0.08px" textLength="19.9" lengthAdjust="spacingAndGlyphs">scFvE2</text>
<text transform="translate(134.3,24.0) rotate(-46.5)" font-size="7.0" fill="#333" style="stroke-width:0.08px" textLength="24.2" lengthAdjust="spacingAndGlyphs">scFvD12</text>
<line x1="188.40" y1="17.50" x2="188.40" y2="89.20" stroke="#9a9a9a" stroke-width="1"/>
<line x1="186.60" y1="89.20" x2="188.40" y2="89.20" stroke="#9a9a9a" stroke-width="1"/>
<text x="184.80" y="91.50" font-size="6.6" fill="#2a2a2a" text-anchor="end">0</text>
<line x1="186.60" y1="71.20" x2="188.40" y2="71.20" stroke="#9a9a9a" stroke-width="1"/>
<text x="184.80" y="73.50" font-size="6.6" fill="#2a2a2a" text-anchor="end">20</text>
<line x1="186.60" y1="53.20" x2="188.40" y2="53.20" stroke="#9a9a9a" stroke-width="1"/>
<text x="184.80" y="55.50" font-size="6.6" fill="#2a2a2a" text-anchor="end">40</text>
<line x1="186.60" y1="35.20" x2="188.40" y2="35.20" stroke="#9a9a9a" stroke-width="1"/>
<text x="184.80" y="37.50" font-size="6.6" fill="#2a2a2a" text-anchor="end">60</text>
<line x1="186.60" y1="17.20" x2="188.40" y2="17.20" stroke="#9a9a9a" stroke-width="1"/>
<text x="184.80" y="19.50" font-size="6.6" fill="#2a2a2a" text-anchor="end">80</text>
<text x="188.40" y="97.50" font-size="6.6" fill="#2a2a2a" text-anchor="middle">0.0</text>
<text x="224.50" y="97.50" font-size="6.6" fill="#2a2a2a" text-anchor="middle">5.0</text>
<text x="260.60" y="97.50" font-size="6.6" fill="#2a2a2a" text-anchor="middle">10.0</text>
<text x="296.70" y="97.50" font-size="6.6" fill="#2a2a2a" text-anchor="middle">15.0</text>
<text x="265.30" y="106.30" font-size="6.8" fill="#2a2a2a" textLength="67.50" lengthAdjust="spacingAndGlyphs" text-anchor="middle">Retention volume (mL)</text>
<text transform="translate(173.3,83.6) rotate(-90)" font-size="6.8" fill="#2a2a2a"><tspan textLength="35.2" lengthAdjust="spacingAndGlyphs">Absorbance</tspan><tspan font-size="4.2" dx="0.6" dy="0">280</tspan><tspan dx="1.6" textLength="18.4" lengthAdjust="spacingAndGlyphs">(mAU)</tspan></text>
<text x="271.20" y="36.80" font-size="6.9" fill="#2a2a2a" textLength="27.80" lengthAdjust="spacingAndGlyphs" text-anchor="middle">Monomer</text>
<text x="255.40" y="72.50" font-size="6.9" fill="#2a2a2a" textLength="16.60" lengthAdjust="spacingAndGlyphs" text-anchor="middle">Dimer</text>
<path d="M188.4 88.9C196.67 88.90 229.15 88.93 238.0 88.9C246.85 88.87 240.37 88.93 241.5 88.7C242.63 88.47 243.70 87.68 244.8 87.5C245.90 87.32 247.02 87.68 248.1 87.6C249.18 87.52 250.22 87.60 251.3 87.0C252.38 86.40 253.50 85.03 254.6 84.0C255.70 82.97 256.95 81.62 257.9 80.8C258.85 79.98 259.48 79.52 260.3 79.1C261.12 78.68 262.12 78.85 262.8 78.3C263.48 77.75 263.87 77.57 264.4 75.8C264.93 74.03 265.45 71.50 266.0 67.7C266.55 63.90 267.15 57.22 267.7 53.0C268.25 48.78 268.77 43.23 269.3 42.4C269.83 41.57 270.35 45.42 270.9 48.0C271.45 50.58 272.05 54.90 272.6 57.9C273.15 60.90 273.67 63.68 274.2 66.0C274.73 68.32 275.12 70.17 275.8 71.8C276.48 73.43 277.47 74.90 278.3 75.8C279.13 76.70 279.85 77.25 280.8 77.2C281.75 77.15 283.03 75.92 284.0 75.5C284.97 75.08 285.68 74.53 286.6 74.7C287.52 74.87 288.52 75.48 289.5 76.5C290.48 77.52 291.55 79.52 292.5 80.8C293.45 82.08 294.20 83.23 295.2 84.2C296.20 85.17 297.45 86.03 298.5 86.6C299.55 87.17 300.42 87.38 301.5 87.6C302.58 87.82 303.82 87.90 305.0 87.9C306.18 87.90 307.43 87.52 308.6 87.6C309.77 87.68 310.82 88.20 312.0 88.4C313.18 88.60 312.57 88.72 315.7 88.8C318.83 88.88 328.28 88.88 330.8 88.9 L330.8 89.0 L188.4 89.0Z" fill="#f5845c" clip-path="url(#bclip)"/>
<line x1="188.40" y1="89.20" x2="330.80" y2="89.20" stroke="#b4bccb" stroke-width="1"/>
<path d="M188.4 88.9C196.67 88.90 229.15 88.93 238.0 88.9C246.85 88.87 240.37 88.93 241.5 88.7C242.63 88.47 243.70 87.68 244.8 87.5C245.90 87.32 247.02 87.68 248.1 87.6C249.18 87.52 250.22 87.60 251.3 87.0C252.38 86.40 253.50 85.03 254.6 84.0C255.70 82.97 256.95 81.62 257.9 80.8C258.85 79.98 259.48 79.52 260.3 79.1C261.12 78.68 262.12 78.85 262.8 78.3C263.48 77.75 263.87 77.57 264.4 75.8C264.93 74.03 265.45 71.50 266.0 67.7C266.55 63.90 267.15 57.22 267.7 53.0C268.25 48.78 268.77 43.23 269.3 42.4C269.83 41.57 270.35 45.42 270.9 48.0C271.45 50.58 272.05 54.90 272.6 57.9C273.15 60.90 273.67 63.68 274.2 66.0C274.73 68.32 275.12 70.17 275.8 71.8C276.48 73.43 277.47 74.90 278.3 75.8C279.13 76.70 279.85 77.25 280.8 77.2C281.75 77.15 283.03 75.92 284.0 75.5C284.97 75.08 285.68 74.53 286.6 74.7C287.52 74.87 288.52 75.48 289.5 76.5C290.48 77.52 291.55 79.52 292.5 80.8C293.45 82.08 294.20 83.23 295.2 84.2C296.20 85.17 297.45 86.03 298.5 86.6C299.55 87.17 300.42 87.38 301.5 87.6C302.58 87.82 303.82 87.90 305.0 87.9C306.18 87.90 307.43 87.52 308.6 87.6C309.77 87.68 310.82 88.20 312.0 88.4C313.18 88.60 312.57 88.72 315.7 88.8C318.83 88.88 328.28 88.88 330.8 88.9" fill="none" stroke="#687b9c" stroke-width="1.15"/>
</svg></body></html>
